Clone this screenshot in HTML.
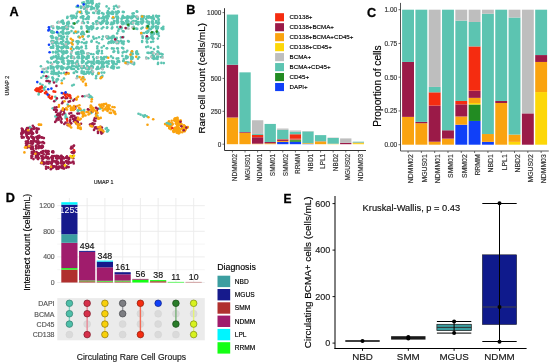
<!DOCTYPE html>
<html><head><meta charset="utf-8"><style>
html,body{margin:0;padding:0;background:#fff;}
svg{display:block;font-family:"Liberation Sans", sans-serif;will-change:transform;}
</style></head><body>
<svg width="550" height="364" viewBox="0 0 550 364">
<text x="9.4" y="15.6" font-size="12.7" font-weight="bold" fill="#000" stroke="#000" stroke-width="0.3">A</text>
<text x="103.6" y="183.5" font-size="5.3" fill="#222" text-anchor="middle" stroke="#222" stroke-width="0.16">UMAP 1</text>
<text transform="translate(9,85.6) rotate(-90)" font-size="5.3" fill="#222" text-anchor="middle" stroke="#222" stroke-width="0.16">UMAP 2</text>
<g><circle cx="82.3" cy="2.7" r="1.3" fill="#5CC4B1"/><circle cx="83.9" cy="2.4" r="1.3" fill="#5CC4B1"/><circle cx="87.8" cy="1.4" r="1.3" fill="#5CC4B1"/><circle cx="87.5" cy="2.9" r="1.3" fill="#5CC4B1"/><circle cx="88.5" cy="1.1" r="1.3" fill="#5CC4B1"/><circle cx="86.8" cy="1.1" r="1.3" fill="#5CC4B1"/><circle cx="88.6" cy="3.2" r="1.3" fill="#5CC4B1"/><circle cx="85.9" cy="4.1" r="1.3" fill="#5CC4B1"/><circle cx="89.1" cy="3.0" r="1.3" fill="#5CC4B1"/><circle cx="91.3" cy="0.9" r="1.3" fill="#5CC4B1"/><circle cx="92.6" cy="1.0" r="1.3" fill="#5CC4B1"/><circle cx="91.4" cy="1.6" r="1.3" fill="#5CC4B1"/><circle cx="90.9" cy="2.4" r="1.3" fill="#5CC4B1"/><circle cx="92.3" cy="3.7" r="1.3" fill="#5CC4B1"/><circle cx="92.6" cy="3.0" r="1.3" fill="#5CC4B1"/><circle cx="92.5" cy="3.1" r="1.3" fill="#5CC4B1"/><circle cx="96.7" cy="4.2" r="1.3" fill="#5CC4B1"/><circle cx="99.2" cy="3.7" r="1.3" fill="#5CC4B1"/><circle cx="78.2" cy="6.9" r="1.3" fill="#5CC4B1"/><circle cx="76.6" cy="6.8" r="1.3" fill="#5CC4B1"/><circle cx="83.7" cy="7.1" r="1.3" fill="#5CC4B1"/><circle cx="84.1" cy="8.7" r="1.3" fill="#5CC4B1"/><circle cx="80.8" cy="6.5" r="1.3" fill="#5CC4B1"/><circle cx="83.9" cy="7.4" r="1.3" fill="#5CC4B1"/><circle cx="84.1" cy="7.2" r="1.3" fill="#5CC4B1"/><circle cx="81.0" cy="7.9" r="1.3" fill="#5CC4B1"/><circle cx="83.4" cy="6.7" r="1.3" fill="#5CC4B1"/><circle cx="88.4" cy="6.2" r="1.3" fill="#5CC4B1"/><circle cx="86.6" cy="6.1" r="1.3" fill="#5CC4B1"/><circle cx="86.0" cy="8.5" r="1.3" fill="#5CC4B1"/><circle cx="86.4" cy="7.7" r="1.3" fill="#5CC4B1"/><circle cx="87.3" cy="6.4" r="1.3" fill="#5CC4B1"/><circle cx="88.3" cy="6.2" r="1.3" fill="#5CC4B1"/><circle cx="88.0" cy="6.2" r="1.3" fill="#5CC4B1"/><circle cx="91.5" cy="6.7" r="1.3" fill="#5CC4B1"/><circle cx="94.1" cy="8.5" r="1.3" fill="#5CC4B1"/><circle cx="91.8" cy="8.8" r="1.3" fill="#5CC4B1"/><circle cx="91.5" cy="7.1" r="1.3" fill="#5CC4B1"/><circle cx="93.7" cy="8.0" r="1.3" fill="#5CC4B1"/><circle cx="91.1" cy="9.2" r="1.3" fill="#5CC4B1"/><circle cx="91.5" cy="6.7" r="1.3" fill="#5CC4B1"/><circle cx="96.9" cy="6.8" r="1.3" fill="#5CC4B1"/><circle cx="96.0" cy="6.1" r="1.3" fill="#5CC4B1"/><circle cx="97.8" cy="6.6" r="1.3" fill="#5CC4B1"/><circle cx="97.8" cy="7.1" r="1.3" fill="#5CC4B1"/><circle cx="97.3" cy="9.1" r="1.3" fill="#5CC4B1"/><circle cx="97.4" cy="7.8" r="1.3" fill="#5CC4B1"/><circle cx="98.7" cy="6.4" r="1.3" fill="#5CC4B1"/><circle cx="108.9" cy="8.6" r="1.3" fill="#5CC4B1"/><circle cx="106.6" cy="6.4" r="1.3" fill="#5CC4B1"/><circle cx="114.0" cy="6.5" r="1.3" fill="#5CC4B1"/><circle cx="114.0" cy="8.8" r="1.3" fill="#5CC4B1"/><circle cx="117.9" cy="7.2" r="1.3" fill="#5CC4B1"/><circle cx="116.2" cy="5.9" r="1.3" fill="#5CC4B1"/><circle cx="76.7" cy="13.6" r="1.3" fill="#5CC4B1"/><circle cx="77.8" cy="11.8" r="1.3" fill="#5CC4B1"/><circle cx="81.4" cy="13.2" r="1.3" fill="#5CC4B1"/><circle cx="81.0" cy="11.6" r="1.3" fill="#5CC4B1"/><circle cx="88.7" cy="12.9" r="1.3" fill="#5CC4B1"/><circle cx="86.8" cy="13.9" r="1.3" fill="#5CC4B1"/><circle cx="86.5" cy="10.9" r="1.3" fill="#5CC4B1"/><circle cx="86.7" cy="12.3" r="1.3" fill="#5CC4B1"/><circle cx="86.0" cy="11.4" r="1.3" fill="#5CC4B1"/><circle cx="87.1" cy="12.7" r="1.3" fill="#5CC4B1"/><circle cx="86.2" cy="12.0" r="1.3" fill="#5CC4B1"/><circle cx="94.1" cy="13.0" r="1.3" fill="#5CC4B1"/><circle cx="93.2" cy="12.8" r="1.3" fill="#5CC4B1"/><circle cx="98.9" cy="13.2" r="1.3" fill="#5CC4B1"/><circle cx="99.1" cy="10.9" r="1.3" fill="#5CC4B1"/><circle cx="98.0" cy="12.4" r="1.3" fill="#5CC4B1"/><circle cx="98.3" cy="11.9" r="1.3" fill="#5CC4B1"/><circle cx="99.2" cy="11.1" r="1.3" fill="#5CC4B1"/><circle cx="97.7" cy="13.3" r="1.3" fill="#5CC4B1"/><circle cx="98.9" cy="13.3" r="1.3" fill="#5CC4B1"/><circle cx="103.5" cy="13.9" r="1.3" fill="#5CC4B1"/><circle cx="102.0" cy="13.1" r="1.3" fill="#5CC4B1"/><circle cx="108.8" cy="12.2" r="1.3" fill="#5CC4B1"/><circle cx="108.5" cy="13.7" r="1.3" fill="#5CC4B1"/><circle cx="107.7" cy="12.9" r="1.3" fill="#5CC4B1"/><circle cx="107.1" cy="12.8" r="1.3" fill="#5CC4B1"/><circle cx="107.9" cy="11.1" r="1.3" fill="#5CC4B1"/><circle cx="108.0" cy="14.2" r="1.3" fill="#5CC4B1"/><circle cx="108.8" cy="13.3" r="1.3" fill="#5CC4B1"/><circle cx="113.3" cy="12.8" r="1.3" fill="#5CC4B1"/><circle cx="112.3" cy="13.7" r="1.3" fill="#5CC4B1"/><circle cx="111.1" cy="13.4" r="1.3" fill="#5CC4B1"/><circle cx="110.9" cy="12.8" r="1.3" fill="#5CC4B1"/><circle cx="112.4" cy="11.6" r="1.3" fill="#5CC4B1"/><circle cx="113.2" cy="12.5" r="1.3" fill="#5CC4B1"/><circle cx="112.9" cy="13.9" r="1.3" fill="#5CC4B1"/><circle cx="115.8" cy="11.8" r="1.3" fill="#5CC4B1"/><circle cx="118.1" cy="11.5" r="1.3" fill="#5CC4B1"/><circle cx="116.4" cy="13.9" r="1.3" fill="#5CC4B1"/><circle cx="118.0" cy="12.3" r="1.3" fill="#5CC4B1"/><circle cx="118.8" cy="11.9" r="1.3" fill="#5CC4B1"/><circle cx="118.1" cy="11.5" r="1.3" fill="#5CC4B1"/><circle cx="117.3" cy="13.5" r="1.3" fill="#5CC4B1"/><circle cx="123.8" cy="12.1" r="1.3" fill="#5CC4B1"/><circle cx="122.8" cy="11.9" r="1.3" fill="#5CC4B1"/><circle cx="132.5" cy="13.6" r="1.3" fill="#5CC4B1"/><circle cx="133.7" cy="13.2" r="1.3" fill="#5CC4B1"/><circle cx="136.7" cy="11.4" r="1.3" fill="#5CC4B1"/><circle cx="137.3" cy="11.7" r="1.3" fill="#5CC4B1"/><circle cx="67.2" cy="17.9" r="1.3" fill="#5CC4B1"/><circle cx="67.5" cy="16.9" r="1.3" fill="#5CC4B1"/><circle cx="74.1" cy="17.3" r="1.3" fill="#5CC4B1"/><circle cx="71.1" cy="15.9" r="1.3" fill="#5CC4B1"/><circle cx="73.8" cy="15.9" r="1.3" fill="#5CC4B1"/><circle cx="73.2" cy="17.7" r="1.3" fill="#5CC4B1"/><circle cx="71.9" cy="18.5" r="1.3" fill="#5CC4B1"/><circle cx="70.9" cy="16.3" r="1.3" fill="#5CC4B1"/><circle cx="72.3" cy="15.9" r="1.3" fill="#5CC4B1"/><circle cx="76.6" cy="16.3" r="1.3" fill="#5CC4B1"/><circle cx="76.0" cy="17.9" r="1.3" fill="#5CC4B1"/><circle cx="82.9" cy="18.0" r="1.3" fill="#5CC4B1"/><circle cx="83.5" cy="19.1" r="1.3" fill="#5CC4B1"/><circle cx="83.1" cy="16.5" r="1.3" fill="#5CC4B1"/><circle cx="82.4" cy="16.4" r="1.3" fill="#5CC4B1"/><circle cx="80.8" cy="17.4" r="1.3" fill="#5CC4B1"/><circle cx="83.2" cy="16.4" r="1.3" fill="#5CC4B1"/><circle cx="81.7" cy="17.0" r="1.3" fill="#5CC4B1"/><circle cx="87.6" cy="17.9" r="1.3" fill="#5CC4B1"/><circle cx="88.4" cy="17.1" r="1.3" fill="#5CC4B1"/><circle cx="88.5" cy="18.9" r="1.3" fill="#5CC4B1"/><circle cx="86.1" cy="19.0" r="1.3" fill="#5CC4B1"/><circle cx="88.3" cy="16.2" r="1.3" fill="#5CC4B1"/><circle cx="87.3" cy="17.9" r="1.3" fill="#5CC4B1"/><circle cx="88.9" cy="17.1" r="1.3" fill="#5CC4B1"/><circle cx="98.8" cy="18.5" r="1.3" fill="#5CC4B1"/><circle cx="99.0" cy="17.4" r="1.3" fill="#5CC4B1"/><circle cx="101.5" cy="18.3" r="1.3" fill="#5CC4B1"/><circle cx="103.6" cy="18.0" r="1.3" fill="#5CC4B1"/><circle cx="103.2" cy="16.5" r="1.3" fill="#5CC4B1"/><circle cx="103.9" cy="19.1" r="1.3" fill="#5CC4B1"/><circle cx="104.1" cy="17.6" r="1.3" fill="#5CC4B1"/><circle cx="103.5" cy="16.9" r="1.3" fill="#5CC4B1"/><circle cx="103.9" cy="18.7" r="1.3" fill="#5CC4B1"/><circle cx="106.1" cy="17.3" r="1.3" fill="#5CC4B1"/><circle cx="107.7" cy="18.4" r="1.3" fill="#5CC4B1"/><circle cx="107.5" cy="15.9" r="1.3" fill="#5CC4B1"/><circle cx="108.6" cy="16.0" r="1.3" fill="#5CC4B1"/><circle cx="108.5" cy="16.4" r="1.3" fill="#5CC4B1"/><circle cx="106.9" cy="18.5" r="1.3" fill="#5CC4B1"/><circle cx="106.3" cy="16.3" r="1.3" fill="#5CC4B1"/><circle cx="112.6" cy="18.3" r="1.3" fill="#5CC4B1"/><circle cx="113.7" cy="18.1" r="1.3" fill="#5CC4B1"/><circle cx="117.5" cy="19.0" r="1.3" fill="#5CC4B1"/><circle cx="116.1" cy="16.6" r="1.3" fill="#5CC4B1"/><circle cx="117.6" cy="16.8" r="1.3" fill="#5CC4B1"/><circle cx="118.3" cy="18.0" r="1.3" fill="#5CC4B1"/><circle cx="117.6" cy="18.7" r="1.3" fill="#5CC4B1"/><circle cx="117.7" cy="16.9" r="1.3" fill="#5CC4B1"/><circle cx="117.1" cy="18.7" r="1.3" fill="#5CC4B1"/><circle cx="121.5" cy="18.7" r="1.3" fill="#5CC4B1"/><circle cx="124.1" cy="17.6" r="1.3" fill="#5CC4B1"/><circle cx="122.7" cy="16.5" r="1.3" fill="#5CC4B1"/><circle cx="122.6" cy="17.5" r="1.3" fill="#5CC4B1"/><circle cx="122.9" cy="15.9" r="1.3" fill="#5CC4B1"/><circle cx="124.1" cy="17.6" r="1.3" fill="#5CC4B1"/><circle cx="122.2" cy="18.5" r="1.3" fill="#5CC4B1"/><circle cx="127.5" cy="18.1" r="1.3" fill="#5CC4B1"/><circle cx="126.0" cy="17.6" r="1.3" fill="#5CC4B1"/><circle cx="127.2" cy="19.1" r="1.3" fill="#5CC4B1"/><circle cx="128.9" cy="16.7" r="1.3" fill="#5CC4B1"/><circle cx="127.4" cy="16.2" r="1.3" fill="#5CC4B1"/><circle cx="127.3" cy="18.6" r="1.3" fill="#5CC4B1"/><circle cx="128.9" cy="17.4" r="1.3" fill="#5CC4B1"/><circle cx="131.5" cy="17.9" r="1.3" fill="#5CC4B1"/><circle cx="133.9" cy="16.2" r="1.3" fill="#5CC4B1"/><circle cx="133.4" cy="15.9" r="1.3" fill="#5CC4B1"/><circle cx="131.5" cy="16.6" r="1.3" fill="#5CC4B1"/><circle cx="133.1" cy="16.9" r="1.3" fill="#5CC4B1"/><circle cx="132.0" cy="17.9" r="1.3" fill="#5CC4B1"/><circle cx="131.2" cy="18.3" r="1.3" fill="#5CC4B1"/><circle cx="136.5" cy="17.6" r="1.3" fill="#5CC4B1"/><circle cx="137.3" cy="17.1" r="1.3" fill="#5CC4B1"/><circle cx="137.2" cy="17.6" r="1.3" fill="#5CC4B1"/><circle cx="136.3" cy="16.5" r="1.3" fill="#5CC4B1"/><circle cx="137.9" cy="18.0" r="1.3" fill="#5CC4B1"/><circle cx="137.6" cy="18.7" r="1.3" fill="#5CC4B1"/><circle cx="137.9" cy="18.7" r="1.3" fill="#5CC4B1"/><circle cx="143.3" cy="18.6" r="1.3" fill="#5CC4B1"/><circle cx="143.9" cy="16.9" r="1.3" fill="#5CC4B1"/><circle cx="141.9" cy="18.9" r="1.3" fill="#5CC4B1"/><circle cx="141.5" cy="19.2" r="1.3" fill="#5CC4B1"/><circle cx="143.8" cy="16.3" r="1.3" fill="#5CC4B1"/><circle cx="141.6" cy="18.3" r="1.3" fill="#5CC4B1"/><circle cx="141.7" cy="16.1" r="1.3" fill="#5CC4B1"/><circle cx="152.2" cy="18.5" r="1.3" fill="#5CC4B1"/><circle cx="151.2" cy="17.2" r="1.3" fill="#5CC4B1"/><circle cx="153.1" cy="15.9" r="1.3" fill="#5CC4B1"/><circle cx="151.5" cy="18.1" r="1.3" fill="#5CC4B1"/><circle cx="153.9" cy="19.1" r="1.3" fill="#5CC4B1"/><circle cx="151.2" cy="17.5" r="1.3" fill="#5CC4B1"/><circle cx="153.4" cy="17.5" r="1.3" fill="#5CC4B1"/><circle cx="156.4" cy="16.0" r="1.3" fill="#5CC4B1"/><circle cx="156.2" cy="15.9" r="1.3" fill="#5CC4B1"/><circle cx="157.7" cy="17.6" r="1.3" fill="#5CC4B1"/><circle cx="157.7" cy="16.3" r="1.3" fill="#5CC4B1"/><circle cx="156.4" cy="16.5" r="1.3" fill="#5CC4B1"/><circle cx="158.7" cy="19.2" r="1.3" fill="#5CC4B1"/><circle cx="159.0" cy="16.1" r="1.3" fill="#5CC4B1"/><circle cx="58.4" cy="21.9" r="1.3" fill="#5CC4B1"/><circle cx="57.4" cy="22.6" r="1.3" fill="#5CC4B1"/><circle cx="62.8" cy="20.8" r="1.3" fill="#5CC4B1"/><circle cx="63.2" cy="23.7" r="1.3" fill="#5CC4B1"/><circle cx="61.4" cy="22.3" r="1.3" fill="#5CC4B1"/><circle cx="63.3" cy="22.2" r="1.3" fill="#5CC4B1"/><circle cx="61.5" cy="21.4" r="1.3" fill="#5CC4B1"/><circle cx="62.5" cy="20.9" r="1.3" fill="#5CC4B1"/><circle cx="63.8" cy="23.5" r="1.3" fill="#5CC4B1"/><circle cx="68.7" cy="22.9" r="1.3" fill="#5CC4B1"/><circle cx="67.2" cy="22.8" r="1.3" fill="#5CC4B1"/><circle cx="67.5" cy="24.1" r="1.3" fill="#5CC4B1"/><circle cx="68.5" cy="21.7" r="1.3" fill="#5CC4B1"/><circle cx="68.9" cy="23.3" r="1.3" fill="#5CC4B1"/><circle cx="68.4" cy="23.6" r="1.3" fill="#5CC4B1"/><circle cx="67.2" cy="23.8" r="1.3" fill="#5CC4B1"/><circle cx="73.8" cy="23.2" r="1.3" fill="#5CC4B1"/><circle cx="73.4" cy="23.4" r="1.3" fill="#5CC4B1"/><circle cx="78.3" cy="21.0" r="1.3" fill="#5CC4B1"/><circle cx="77.0" cy="22.4" r="1.3" fill="#5CC4B1"/><circle cx="82.9" cy="21.6" r="1.3" fill="#5CC4B1"/><circle cx="84.0" cy="23.1" r="1.3" fill="#5CC4B1"/><circle cx="88.0" cy="22.7" r="1.3" fill="#5CC4B1"/><circle cx="87.6" cy="22.1" r="1.3" fill="#5CC4B1"/><circle cx="93.0" cy="23.2" r="1.3" fill="#5CC4B1"/><circle cx="93.4" cy="24.1" r="1.3" fill="#5CC4B1"/><circle cx="96.7" cy="22.2" r="1.3" fill="#5CC4B1"/><circle cx="96.0" cy="21.5" r="1.3" fill="#5CC4B1"/><circle cx="97.1" cy="21.1" r="1.3" fill="#5CC4B1"/><circle cx="96.7" cy="23.9" r="1.3" fill="#5CC4B1"/><circle cx="97.7" cy="22.5" r="1.3" fill="#5CC4B1"/><circle cx="99.1" cy="22.7" r="1.3" fill="#5CC4B1"/><circle cx="99.2" cy="23.0" r="1.3" fill="#5CC4B1"/><circle cx="101.1" cy="22.8" r="1.3" fill="#5CC4B1"/><circle cx="103.4" cy="21.0" r="1.3" fill="#5CC4B1"/><circle cx="104.0" cy="21.3" r="1.3" fill="#5CC4B1"/><circle cx="102.4" cy="21.4" r="1.3" fill="#5CC4B1"/><circle cx="102.5" cy="22.9" r="1.3" fill="#5CC4B1"/><circle cx="101.0" cy="24.0" r="1.3" fill="#5CC4B1"/><circle cx="102.2" cy="22.6" r="1.3" fill="#5CC4B1"/><circle cx="107.0" cy="21.8" r="1.3" fill="#5CC4B1"/><circle cx="108.0" cy="22.7" r="1.3" fill="#5CC4B1"/><circle cx="106.8" cy="23.2" r="1.3" fill="#5CC4B1"/><circle cx="106.8" cy="20.8" r="1.3" fill="#5CC4B1"/><circle cx="106.6" cy="20.9" r="1.3" fill="#5CC4B1"/><circle cx="106.3" cy="23.4" r="1.3" fill="#5CC4B1"/><circle cx="107.1" cy="23.9" r="1.3" fill="#5CC4B1"/><circle cx="111.0" cy="24.2" r="1.3" fill="#5CC4B1"/><circle cx="114.0" cy="21.0" r="1.3" fill="#5CC4B1"/><circle cx="113.9" cy="22.3" r="1.3" fill="#5CC4B1"/><circle cx="112.4" cy="24.1" r="1.3" fill="#5CC4B1"/><circle cx="111.6" cy="22.6" r="1.3" fill="#5CC4B1"/><circle cx="114.0" cy="23.3" r="1.3" fill="#5CC4B1"/><circle cx="112.4" cy="24.1" r="1.3" fill="#5CC4B1"/><circle cx="117.9" cy="21.2" r="1.3" fill="#5CC4B1"/><circle cx="117.9" cy="22.3" r="1.3" fill="#5CC4B1"/><circle cx="116.5" cy="21.0" r="1.3" fill="#5CC4B1"/><circle cx="117.6" cy="21.2" r="1.3" fill="#5CC4B1"/><circle cx="117.3" cy="23.1" r="1.3" fill="#5CC4B1"/><circle cx="117.3" cy="21.7" r="1.3" fill="#5CC4B1"/><circle cx="117.8" cy="22.2" r="1.3" fill="#5CC4B1"/><circle cx="122.6" cy="24.2" r="1.3" fill="#5CC4B1"/><circle cx="124.0" cy="23.3" r="1.3" fill="#5CC4B1"/><circle cx="121.6" cy="21.2" r="1.3" fill="#5CC4B1"/><circle cx="123.8" cy="23.5" r="1.3" fill="#5CC4B1"/><circle cx="122.9" cy="22.0" r="1.3" fill="#5CC4B1"/><circle cx="121.7" cy="23.1" r="1.3" fill="#5CC4B1"/><circle cx="122.7" cy="22.8" r="1.3" fill="#5CC4B1"/><circle cx="128.4" cy="21.4" r="1.3" fill="#5CC4B1"/><circle cx="126.6" cy="24.1" r="1.3" fill="#5CC4B1"/><circle cx="128.9" cy="23.8" r="1.3" fill="#5CC4B1"/><circle cx="125.9" cy="21.0" r="1.3" fill="#5CC4B1"/><circle cx="126.7" cy="22.2" r="1.3" fill="#5CC4B1"/><circle cx="127.9" cy="21.1" r="1.3" fill="#5CC4B1"/><circle cx="127.6" cy="21.0" r="1.3" fill="#5CC4B1"/><circle cx="132.9" cy="22.1" r="1.3" fill="#5CC4B1"/><circle cx="132.4" cy="21.5" r="1.3" fill="#5CC4B1"/><circle cx="132.0" cy="23.3" r="1.3" fill="#5CC4B1"/><circle cx="133.7" cy="21.1" r="1.3" fill="#5CC4B1"/><circle cx="131.2" cy="23.6" r="1.3" fill="#5CC4B1"/><circle cx="132.9" cy="23.4" r="1.3" fill="#5CC4B1"/><circle cx="131.5" cy="22.2" r="1.3" fill="#5CC4B1"/><circle cx="138.6" cy="22.1" r="1.3" fill="#5CC4B1"/><circle cx="138.0" cy="24.2" r="1.3" fill="#5CC4B1"/><circle cx="136.9" cy="22.7" r="1.3" fill="#5CC4B1"/><circle cx="138.3" cy="23.9" r="1.3" fill="#5CC4B1"/><circle cx="137.3" cy="22.1" r="1.3" fill="#5CC4B1"/><circle cx="136.1" cy="23.8" r="1.3" fill="#5CC4B1"/><circle cx="136.1" cy="21.1" r="1.3" fill="#5CC4B1"/><circle cx="142.4" cy="23.1" r="1.3" fill="#5CC4B1"/><circle cx="141.8" cy="23.4" r="1.3" fill="#5CC4B1"/><circle cx="141.1" cy="21.5" r="1.3" fill="#5CC4B1"/><circle cx="143.1" cy="21.1" r="1.3" fill="#5CC4B1"/><circle cx="141.8" cy="23.3" r="1.3" fill="#5CC4B1"/><circle cx="143.2" cy="21.8" r="1.3" fill="#5CC4B1"/><circle cx="141.3" cy="22.0" r="1.3" fill="#5CC4B1"/><circle cx="147.0" cy="21.2" r="1.3" fill="#5CC4B1"/><circle cx="148.2" cy="22.7" r="1.3" fill="#5CC4B1"/><circle cx="148.9" cy="24.0" r="1.3" fill="#5CC4B1"/><circle cx="148.9" cy="22.3" r="1.3" fill="#5CC4B1"/><circle cx="148.5" cy="21.8" r="1.3" fill="#5CC4B1"/><circle cx="146.9" cy="22.2" r="1.3" fill="#5CC4B1"/><circle cx="149.0" cy="23.8" r="1.3" fill="#5CC4B1"/><circle cx="152.0" cy="22.0" r="1.3" fill="#5CC4B1"/><circle cx="152.0" cy="22.1" r="1.3" fill="#5CC4B1"/><circle cx="152.1" cy="21.5" r="1.3" fill="#5CC4B1"/><circle cx="152.7" cy="23.5" r="1.3" fill="#5CC4B1"/><circle cx="152.6" cy="23.6" r="1.3" fill="#5CC4B1"/><circle cx="152.7" cy="21.4" r="1.3" fill="#5CC4B1"/><circle cx="153.4" cy="23.8" r="1.3" fill="#5CC4B1"/><circle cx="155.9" cy="22.6" r="1.3" fill="#5CC4B1"/><circle cx="157.7" cy="22.7" r="1.3" fill="#5CC4B1"/><circle cx="159.1" cy="23.0" r="1.3" fill="#5CC4B1"/><circle cx="158.5" cy="21.0" r="1.3" fill="#5CC4B1"/><circle cx="157.7" cy="23.5" r="1.3" fill="#5CC4B1"/><circle cx="156.1" cy="21.1" r="1.3" fill="#5CC4B1"/><circle cx="158.3" cy="23.9" r="1.3" fill="#5CC4B1"/><circle cx="53.3" cy="28.0" r="1.3" fill="#5CC4B1"/><circle cx="51.6" cy="26.5" r="1.3" fill="#5CC4B1"/><circle cx="57.6" cy="28.4" r="1.3" fill="#5CC4B1"/><circle cx="57.1" cy="26.9" r="1.3" fill="#5CC4B1"/><circle cx="59.1" cy="28.1" r="1.3" fill="#5CC4B1"/><circle cx="57.5" cy="27.6" r="1.3" fill="#5CC4B1"/><circle cx="58.3" cy="28.2" r="1.3" fill="#5CC4B1"/><circle cx="58.9" cy="27.2" r="1.3" fill="#5CC4B1"/><circle cx="58.6" cy="28.1" r="1.3" fill="#5CC4B1"/><circle cx="63.5" cy="28.6" r="1.3" fill="#5CC4B1"/><circle cx="63.8" cy="29.1" r="1.3" fill="#5CC4B1"/><circle cx="63.0" cy="27.6" r="1.3" fill="#5CC4B1"/><circle cx="63.2" cy="28.5" r="1.3" fill="#5CC4B1"/><circle cx="62.2" cy="27.2" r="1.3" fill="#5CC4B1"/><circle cx="61.3" cy="28.3" r="1.3" fill="#5CC4B1"/><circle cx="64.2" cy="27.1" r="1.3" fill="#5CC4B1"/><circle cx="66.8" cy="29.1" r="1.3" fill="#5CC4B1"/><circle cx="66.0" cy="26.8" r="1.3" fill="#5CC4B1"/><circle cx="66.2" cy="28.0" r="1.3" fill="#5CC4B1"/><circle cx="68.4" cy="26.4" r="1.3" fill="#5CC4B1"/><circle cx="66.0" cy="27.4" r="1.3" fill="#5CC4B1"/><circle cx="67.8" cy="28.9" r="1.3" fill="#5CC4B1"/><circle cx="65.9" cy="26.2" r="1.3" fill="#5CC4B1"/><circle cx="71.5" cy="26.6" r="1.3" fill="#5CC4B1"/><circle cx="73.2" cy="27.8" r="1.3" fill="#5CC4B1"/><circle cx="81.4" cy="26.8" r="1.3" fill="#5CC4B1"/><circle cx="81.4" cy="28.4" r="1.3" fill="#5CC4B1"/><circle cx="87.7" cy="28.6" r="1.3" fill="#5CC4B1"/><circle cx="87.4" cy="26.7" r="1.3" fill="#5CC4B1"/><circle cx="88.8" cy="28.9" r="1.3" fill="#5CC4B1"/><circle cx="87.0" cy="27.7" r="1.3" fill="#5CC4B1"/><circle cx="89.1" cy="27.4" r="1.3" fill="#5CC4B1"/><circle cx="86.6" cy="26.0" r="1.3" fill="#5CC4B1"/><circle cx="89.0" cy="28.5" r="1.3" fill="#5CC4B1"/><circle cx="92.6" cy="27.6" r="1.3" fill="#5CC4B1"/><circle cx="91.7" cy="29.2" r="1.3" fill="#5CC4B1"/><circle cx="93.0" cy="26.6" r="1.3" fill="#5CC4B1"/><circle cx="90.8" cy="27.4" r="1.3" fill="#5CC4B1"/><circle cx="92.1" cy="28.5" r="1.3" fill="#5CC4B1"/><circle cx="93.2" cy="27.9" r="1.3" fill="#5CC4B1"/><circle cx="91.3" cy="26.3" r="1.3" fill="#5CC4B1"/><circle cx="96.7" cy="28.8" r="1.3" fill="#5CC4B1"/><circle cx="97.6" cy="28.0" r="1.3" fill="#5CC4B1"/><circle cx="121.7" cy="27.6" r="1.3" fill="#5CC4B1"/><circle cx="121.3" cy="28.4" r="1.3" fill="#5CC4B1"/><circle cx="128.6" cy="26.1" r="1.3" fill="#5CC4B1"/><circle cx="126.7" cy="28.2" r="1.3" fill="#5CC4B1"/><circle cx="134.0" cy="27.8" r="1.3" fill="#5CC4B1"/><circle cx="133.7" cy="26.8" r="1.3" fill="#5CC4B1"/><circle cx="137.2" cy="28.9" r="1.3" fill="#5CC4B1"/><circle cx="136.1" cy="28.6" r="1.3" fill="#5CC4B1"/><circle cx="142.6" cy="27.6" r="1.3" fill="#5CC4B1"/><circle cx="141.3" cy="28.6" r="1.3" fill="#5CC4B1"/><circle cx="146.9" cy="26.1" r="1.3" fill="#5CC4B1"/><circle cx="146.8" cy="27.4" r="1.3" fill="#5CC4B1"/><circle cx="148.2" cy="27.0" r="1.3" fill="#5CC4B1"/><circle cx="148.1" cy="26.2" r="1.3" fill="#5CC4B1"/><circle cx="147.1" cy="27.4" r="1.3" fill="#5CC4B1"/><circle cx="149.1" cy="28.6" r="1.3" fill="#5CC4B1"/><circle cx="148.0" cy="25.8" r="1.3" fill="#5CC4B1"/><circle cx="153.2" cy="26.6" r="1.3" fill="#5CC4B1"/><circle cx="152.7" cy="27.4" r="1.3" fill="#5CC4B1"/><circle cx="150.8" cy="29.2" r="1.3" fill="#5CC4B1"/><circle cx="153.5" cy="26.5" r="1.3" fill="#5CC4B1"/><circle cx="152.9" cy="26.8" r="1.3" fill="#5CC4B1"/><circle cx="152.1" cy="27.6" r="1.3" fill="#5CC4B1"/><circle cx="151.8" cy="26.9" r="1.3" fill="#5CC4B1"/><circle cx="158.1" cy="26.7" r="1.3" fill="#5CC4B1"/><circle cx="156.5" cy="28.3" r="1.3" fill="#5CC4B1"/><circle cx="156.9" cy="29.0" r="1.3" fill="#5CC4B1"/><circle cx="157.7" cy="28.3" r="1.3" fill="#5CC4B1"/><circle cx="156.9" cy="28.6" r="1.3" fill="#5CC4B1"/><circle cx="156.1" cy="26.3" r="1.3" fill="#5CC4B1"/><circle cx="156.1" cy="28.1" r="1.3" fill="#5CC4B1"/><circle cx="51.4" cy="32.2" r="1.3" fill="#5CC4B1"/><circle cx="53.6" cy="32.8" r="1.3" fill="#5CC4B1"/><circle cx="51.1" cy="31.6" r="1.3" fill="#5CC4B1"/><circle cx="51.3" cy="31.2" r="1.3" fill="#5CC4B1"/><circle cx="52.2" cy="31.0" r="1.3" fill="#5CC4B1"/><circle cx="53.9" cy="32.3" r="1.3" fill="#5CC4B1"/><circle cx="52.5" cy="33.0" r="1.3" fill="#5CC4B1"/><circle cx="58.4" cy="33.6" r="1.3" fill="#5CC4B1"/><circle cx="57.1" cy="31.9" r="1.3" fill="#5CC4B1"/><circle cx="60.9" cy="32.2" r="1.3" fill="#5CC4B1"/><circle cx="63.2" cy="34.1" r="1.3" fill="#5CC4B1"/><circle cx="63.5" cy="33.0" r="1.3" fill="#5CC4B1"/><circle cx="62.9" cy="30.9" r="1.3" fill="#5CC4B1"/><circle cx="61.9" cy="32.0" r="1.3" fill="#5CC4B1"/><circle cx="63.0" cy="31.2" r="1.3" fill="#5CC4B1"/><circle cx="62.1" cy="32.5" r="1.3" fill="#5CC4B1"/><circle cx="68.6" cy="32.9" r="1.3" fill="#5CC4B1"/><circle cx="66.3" cy="33.4" r="1.3" fill="#5CC4B1"/><circle cx="68.9" cy="32.7" r="1.3" fill="#5CC4B1"/><circle cx="67.0" cy="32.5" r="1.3" fill="#5CC4B1"/><circle cx="66.3" cy="33.2" r="1.3" fill="#5CC4B1"/><circle cx="69.2" cy="32.6" r="1.3" fill="#5CC4B1"/><circle cx="68.2" cy="33.6" r="1.3" fill="#5CC4B1"/><circle cx="74.0" cy="32.9" r="1.3" fill="#5CC4B1"/><circle cx="71.5" cy="31.1" r="1.3" fill="#5CC4B1"/><circle cx="76.6" cy="32.8" r="1.3" fill="#5CC4B1"/><circle cx="78.2" cy="31.9" r="1.3" fill="#5CC4B1"/><circle cx="82.0" cy="32.4" r="1.3" fill="#5CC4B1"/><circle cx="81.2" cy="34.1" r="1.3" fill="#5CC4B1"/><circle cx="81.3" cy="33.9" r="1.3" fill="#5CC4B1"/><circle cx="82.6" cy="32.7" r="1.3" fill="#5CC4B1"/><circle cx="82.7" cy="31.7" r="1.3" fill="#5CC4B1"/><circle cx="83.9" cy="34.2" r="1.3" fill="#5CC4B1"/><circle cx="83.6" cy="32.8" r="1.3" fill="#5CC4B1"/><circle cx="88.6" cy="31.8" r="1.3" fill="#5CC4B1"/><circle cx="88.8" cy="31.6" r="1.3" fill="#5CC4B1"/><circle cx="123.6" cy="31.4" r="1.3" fill="#5CC4B1"/><circle cx="122.7" cy="31.1" r="1.3" fill="#5CC4B1"/><circle cx="144.0" cy="33.0" r="1.3" fill="#5CC4B1"/><circle cx="141.8" cy="33.1" r="1.3" fill="#5CC4B1"/><circle cx="147.1" cy="32.8" r="1.3" fill="#5CC4B1"/><circle cx="148.5" cy="30.9" r="1.3" fill="#5CC4B1"/><circle cx="146.5" cy="32.4" r="1.3" fill="#5CC4B1"/><circle cx="146.3" cy="32.1" r="1.3" fill="#5CC4B1"/><circle cx="147.7" cy="31.4" r="1.3" fill="#5CC4B1"/><circle cx="147.6" cy="31.7" r="1.3" fill="#5CC4B1"/><circle cx="147.7" cy="31.9" r="1.3" fill="#5CC4B1"/><circle cx="150.9" cy="33.1" r="1.3" fill="#5CC4B1"/><circle cx="151.3" cy="34.1" r="1.3" fill="#5CC4B1"/><circle cx="152.8" cy="32.4" r="1.3" fill="#5CC4B1"/><circle cx="152.2" cy="32.9" r="1.3" fill="#5CC4B1"/><circle cx="153.1" cy="33.4" r="1.3" fill="#5CC4B1"/><circle cx="153.4" cy="32.5" r="1.3" fill="#5CC4B1"/><circle cx="154.2" cy="33.7" r="1.3" fill="#5CC4B1"/><circle cx="157.2" cy="32.3" r="1.3" fill="#5CC4B1"/><circle cx="157.7" cy="33.9" r="1.3" fill="#5CC4B1"/><circle cx="157.6" cy="32.6" r="1.3" fill="#5CC4B1"/><circle cx="157.3" cy="33.9" r="1.3" fill="#5CC4B1"/><circle cx="156.9" cy="31.0" r="1.3" fill="#5CC4B1"/><circle cx="158.3" cy="33.9" r="1.3" fill="#5CC4B1"/><circle cx="158.3" cy="32.8" r="1.3" fill="#5CC4B1"/><circle cx="51.8" cy="37.8" r="1.3" fill="#5CC4B1"/><circle cx="51.0" cy="36.2" r="1.3" fill="#5CC4B1"/><circle cx="52.3" cy="37.5" r="1.3" fill="#5CC4B1"/><circle cx="52.1" cy="36.0" r="1.3" fill="#5CC4B1"/><circle cx="53.2" cy="37.6" r="1.3" fill="#5CC4B1"/><circle cx="51.6" cy="36.8" r="1.3" fill="#5CC4B1"/><circle cx="52.1" cy="36.6" r="1.3" fill="#5CC4B1"/><circle cx="58.1" cy="38.7" r="1.3" fill="#5CC4B1"/><circle cx="57.2" cy="38.5" r="1.3" fill="#5CC4B1"/><circle cx="56.6" cy="38.3" r="1.3" fill="#5CC4B1"/><circle cx="57.7" cy="38.9" r="1.3" fill="#5CC4B1"/><circle cx="56.1" cy="38.5" r="1.3" fill="#5CC4B1"/><circle cx="56.2" cy="37.6" r="1.3" fill="#5CC4B1"/><circle cx="59.0" cy="35.8" r="1.3" fill="#5CC4B1"/><circle cx="61.8" cy="36.9" r="1.3" fill="#5CC4B1"/><circle cx="61.0" cy="38.8" r="1.3" fill="#5CC4B1"/><circle cx="63.6" cy="37.2" r="1.3" fill="#5CC4B1"/><circle cx="62.0" cy="37.8" r="1.3" fill="#5CC4B1"/><circle cx="61.0" cy="35.9" r="1.3" fill="#5CC4B1"/><circle cx="63.9" cy="36.8" r="1.3" fill="#5CC4B1"/><circle cx="62.5" cy="39.0" r="1.3" fill="#5CC4B1"/><circle cx="67.4" cy="36.5" r="1.3" fill="#5CC4B1"/><circle cx="66.8" cy="38.9" r="1.3" fill="#5CC4B1"/><circle cx="78.8" cy="36.5" r="1.3" fill="#5CC4B1"/><circle cx="78.6" cy="37.0" r="1.3" fill="#5CC4B1"/><circle cx="82.4" cy="36.4" r="1.3" fill="#5CC4B1"/><circle cx="83.8" cy="39.2" r="1.3" fill="#5CC4B1"/><circle cx="88.0" cy="36.5" r="1.3" fill="#5CC4B1"/><circle cx="88.8" cy="36.0" r="1.3" fill="#5CC4B1"/><circle cx="93.3" cy="36.9" r="1.3" fill="#5CC4B1"/><circle cx="93.9" cy="38.8" r="1.3" fill="#5CC4B1"/><circle cx="96.3" cy="38.2" r="1.3" fill="#5CC4B1"/><circle cx="99.0" cy="37.3" r="1.3" fill="#5CC4B1"/><circle cx="108.2" cy="36.5" r="1.3" fill="#5CC4B1"/><circle cx="106.4" cy="36.6" r="1.3" fill="#5CC4B1"/><circle cx="108.1" cy="38.5" r="1.3" fill="#5CC4B1"/><circle cx="107.1" cy="38.1" r="1.3" fill="#5CC4B1"/><circle cx="108.8" cy="37.8" r="1.3" fill="#5CC4B1"/><circle cx="106.6" cy="36.8" r="1.3" fill="#5CC4B1"/><circle cx="109.0" cy="38.1" r="1.3" fill="#5CC4B1"/><circle cx="113.0" cy="36.1" r="1.3" fill="#5CC4B1"/><circle cx="114.1" cy="37.3" r="1.3" fill="#5CC4B1"/><circle cx="112.6" cy="37.6" r="1.3" fill="#5CC4B1"/><circle cx="111.0" cy="37.8" r="1.3" fill="#5CC4B1"/><circle cx="111.8" cy="36.7" r="1.3" fill="#5CC4B1"/><circle cx="113.5" cy="36.1" r="1.3" fill="#5CC4B1"/><circle cx="111.8" cy="38.4" r="1.3" fill="#5CC4B1"/><circle cx="116.7" cy="37.7" r="1.3" fill="#5CC4B1"/><circle cx="116.4" cy="38.8" r="1.3" fill="#5CC4B1"/><circle cx="120.9" cy="37.4" r="1.3" fill="#5CC4B1"/><circle cx="123.4" cy="37.1" r="1.3" fill="#5CC4B1"/><circle cx="142.5" cy="36.4" r="1.3" fill="#5CC4B1"/><circle cx="142.7" cy="38.0" r="1.3" fill="#5CC4B1"/><circle cx="148.0" cy="38.5" r="1.3" fill="#5CC4B1"/><circle cx="147.6" cy="37.5" r="1.3" fill="#5CC4B1"/><circle cx="148.7" cy="38.1" r="1.3" fill="#5CC4B1"/><circle cx="147.6" cy="39.0" r="1.3" fill="#5CC4B1"/><circle cx="146.4" cy="38.5" r="1.3" fill="#5CC4B1"/><circle cx="146.4" cy="37.9" r="1.3" fill="#5CC4B1"/><circle cx="146.6" cy="37.3" r="1.3" fill="#5CC4B1"/><circle cx="153.5" cy="38.5" r="1.3" fill="#5CC4B1"/><circle cx="151.6" cy="37.5" r="1.3" fill="#5CC4B1"/><circle cx="151.6" cy="37.8" r="1.3" fill="#5CC4B1"/><circle cx="152.5" cy="35.9" r="1.3" fill="#5CC4B1"/><circle cx="152.8" cy="38.2" r="1.3" fill="#5CC4B1"/><circle cx="152.7" cy="38.8" r="1.3" fill="#5CC4B1"/><circle cx="151.4" cy="36.3" r="1.3" fill="#5CC4B1"/><circle cx="52.3" cy="41.7" r="1.3" fill="#5CC4B1"/><circle cx="53.5" cy="41.0" r="1.3" fill="#5CC4B1"/><circle cx="53.9" cy="42.7" r="1.3" fill="#5CC4B1"/><circle cx="52.6" cy="43.5" r="1.3" fill="#5CC4B1"/><circle cx="51.6" cy="41.3" r="1.3" fill="#5CC4B1"/><circle cx="51.9" cy="40.9" r="1.3" fill="#5CC4B1"/><circle cx="51.9" cy="42.9" r="1.3" fill="#5CC4B1"/><circle cx="56.7" cy="42.8" r="1.3" fill="#5CC4B1"/><circle cx="56.1" cy="43.6" r="1.3" fill="#5CC4B1"/><circle cx="56.4" cy="41.7" r="1.3" fill="#5CC4B1"/><circle cx="56.3" cy="43.1" r="1.3" fill="#5CC4B1"/><circle cx="58.6" cy="43.5" r="1.3" fill="#5CC4B1"/><circle cx="56.0" cy="42.2" r="1.3" fill="#5CC4B1"/><circle cx="57.0" cy="41.5" r="1.3" fill="#5CC4B1"/><circle cx="60.9" cy="42.5" r="1.3" fill="#5CC4B1"/><circle cx="63.4" cy="44.2" r="1.3" fill="#5CC4B1"/><circle cx="61.3" cy="42.3" r="1.3" fill="#5CC4B1"/><circle cx="63.3" cy="40.9" r="1.3" fill="#5CC4B1"/><circle cx="61.6" cy="43.8" r="1.3" fill="#5CC4B1"/><circle cx="61.3" cy="42.1" r="1.3" fill="#5CC4B1"/><circle cx="61.8" cy="42.2" r="1.3" fill="#5CC4B1"/><circle cx="68.4" cy="43.3" r="1.3" fill="#5CC4B1"/><circle cx="66.6" cy="41.7" r="1.3" fill="#5CC4B1"/><circle cx="67.7" cy="41.6" r="1.3" fill="#5CC4B1"/><circle cx="67.4" cy="44.0" r="1.3" fill="#5CC4B1"/><circle cx="67.0" cy="41.9" r="1.3" fill="#5CC4B1"/><circle cx="69.1" cy="42.9" r="1.3" fill="#5CC4B1"/><circle cx="65.9" cy="42.2" r="1.3" fill="#5CC4B1"/><circle cx="73.0" cy="41.0" r="1.3" fill="#5CC4B1"/><circle cx="72.0" cy="43.2" r="1.3" fill="#5CC4B1"/><circle cx="77.8" cy="43.8" r="1.3" fill="#5CC4B1"/><circle cx="77.4" cy="42.1" r="1.3" fill="#5CC4B1"/><circle cx="78.7" cy="42.1" r="1.3" fill="#5CC4B1"/><circle cx="78.5" cy="41.5" r="1.3" fill="#5CC4B1"/><circle cx="77.0" cy="41.4" r="1.3" fill="#5CC4B1"/><circle cx="77.7" cy="41.4" r="1.3" fill="#5CC4B1"/><circle cx="76.5" cy="41.5" r="1.3" fill="#5CC4B1"/><circle cx="81.8" cy="42.3" r="1.3" fill="#5CC4B1"/><circle cx="84.2" cy="43.1" r="1.3" fill="#5CC4B1"/><circle cx="86.5" cy="42.1" r="1.3" fill="#5CC4B1"/><circle cx="86.0" cy="43.2" r="1.3" fill="#5CC4B1"/><circle cx="91.7" cy="40.9" r="1.3" fill="#5CC4B1"/><circle cx="91.4" cy="41.7" r="1.3" fill="#5CC4B1"/><circle cx="98.9" cy="43.2" r="1.3" fill="#5CC4B1"/><circle cx="96.7" cy="42.0" r="1.3" fill="#5CC4B1"/><circle cx="109.0" cy="42.0" r="1.3" fill="#5CC4B1"/><circle cx="108.4" cy="43.3" r="1.3" fill="#5CC4B1"/><circle cx="110.9" cy="41.9" r="1.3" fill="#5CC4B1"/><circle cx="112.1" cy="41.1" r="1.3" fill="#5CC4B1"/><circle cx="113.8" cy="41.9" r="1.3" fill="#5CC4B1"/><circle cx="113.4" cy="42.6" r="1.3" fill="#5CC4B1"/><circle cx="111.0" cy="42.1" r="1.3" fill="#5CC4B1"/><circle cx="111.6" cy="40.9" r="1.3" fill="#5CC4B1"/><circle cx="111.3" cy="42.8" r="1.3" fill="#5CC4B1"/><circle cx="117.6" cy="41.3" r="1.3" fill="#5CC4B1"/><circle cx="118.2" cy="41.7" r="1.3" fill="#5CC4B1"/><circle cx="118.3" cy="43.1" r="1.3" fill="#5CC4B1"/><circle cx="116.3" cy="41.5" r="1.3" fill="#5CC4B1"/><circle cx="116.8" cy="43.2" r="1.3" fill="#5CC4B1"/><circle cx="117.2" cy="42.1" r="1.3" fill="#5CC4B1"/><circle cx="118.7" cy="41.6" r="1.3" fill="#5CC4B1"/><circle cx="122.0" cy="41.5" r="1.3" fill="#5CC4B1"/><circle cx="120.9" cy="40.9" r="1.3" fill="#5CC4B1"/><circle cx="122.9" cy="42.7" r="1.3" fill="#5CC4B1"/><circle cx="123.5" cy="44.1" r="1.3" fill="#5CC4B1"/><circle cx="121.8" cy="43.1" r="1.3" fill="#5CC4B1"/><circle cx="123.9" cy="41.5" r="1.3" fill="#5CC4B1"/><circle cx="123.1" cy="43.1" r="1.3" fill="#5CC4B1"/><circle cx="128.8" cy="41.6" r="1.3" fill="#5CC4B1"/><circle cx="128.0" cy="41.1" r="1.3" fill="#5CC4B1"/><circle cx="142.1" cy="41.0" r="1.3" fill="#5CC4B1"/><circle cx="142.1" cy="41.9" r="1.3" fill="#5CC4B1"/><circle cx="146.8" cy="41.3" r="1.3" fill="#5CC4B1"/><circle cx="147.2" cy="42.4" r="1.3" fill="#5CC4B1"/><circle cx="153.1" cy="41.6" r="1.3" fill="#5CC4B1"/><circle cx="151.1" cy="42.0" r="1.3" fill="#5CC4B1"/><circle cx="51.3" cy="47.8" r="1.3" fill="#5CC4B1"/><circle cx="53.2" cy="47.7" r="1.3" fill="#5CC4B1"/><circle cx="53.2" cy="45.9" r="1.3" fill="#5CC4B1"/><circle cx="52.1" cy="47.0" r="1.3" fill="#5CC4B1"/><circle cx="51.0" cy="47.2" r="1.3" fill="#5CC4B1"/><circle cx="51.0" cy="47.5" r="1.3" fill="#5CC4B1"/><circle cx="52.8" cy="47.4" r="1.3" fill="#5CC4B1"/><circle cx="56.7" cy="45.9" r="1.3" fill="#5CC4B1"/><circle cx="57.0" cy="48.8" r="1.3" fill="#5CC4B1"/><circle cx="57.7" cy="46.7" r="1.3" fill="#5CC4B1"/><circle cx="58.1" cy="46.4" r="1.3" fill="#5CC4B1"/><circle cx="57.4" cy="47.9" r="1.3" fill="#5CC4B1"/><circle cx="59.0" cy="47.0" r="1.3" fill="#5CC4B1"/><circle cx="57.8" cy="49.0" r="1.3" fill="#5CC4B1"/><circle cx="62.9" cy="47.9" r="1.3" fill="#5CC4B1"/><circle cx="62.2" cy="47.2" r="1.3" fill="#5CC4B1"/><circle cx="61.7" cy="48.6" r="1.3" fill="#5CC4B1"/><circle cx="63.8" cy="47.1" r="1.3" fill="#5CC4B1"/><circle cx="63.9" cy="45.9" r="1.3" fill="#5CC4B1"/><circle cx="61.3" cy="47.5" r="1.3" fill="#5CC4B1"/><circle cx="61.8" cy="47.0" r="1.3" fill="#5CC4B1"/><circle cx="66.3" cy="46.5" r="1.3" fill="#5CC4B1"/><circle cx="66.6" cy="48.1" r="1.3" fill="#5CC4B1"/><circle cx="66.6" cy="45.8" r="1.3" fill="#5CC4B1"/><circle cx="67.6" cy="47.1" r="1.3" fill="#5CC4B1"/><circle cx="66.6" cy="47.5" r="1.3" fill="#5CC4B1"/><circle cx="68.0" cy="47.7" r="1.3" fill="#5CC4B1"/><circle cx="67.9" cy="47.7" r="1.3" fill="#5CC4B1"/><circle cx="73.6" cy="49.1" r="1.3" fill="#5CC4B1"/><circle cx="71.9" cy="47.0" r="1.3" fill="#5CC4B1"/><circle cx="76.9" cy="48.2" r="1.3" fill="#5CC4B1"/><circle cx="78.2" cy="48.1" r="1.3" fill="#5CC4B1"/><circle cx="79.1" cy="48.6" r="1.3" fill="#5CC4B1"/><circle cx="76.3" cy="47.9" r="1.3" fill="#5CC4B1"/><circle cx="77.5" cy="47.7" r="1.3" fill="#5CC4B1"/><circle cx="77.1" cy="46.8" r="1.3" fill="#5CC4B1"/><circle cx="78.3" cy="47.6" r="1.3" fill="#5CC4B1"/><circle cx="81.6" cy="46.9" r="1.3" fill="#5CC4B1"/><circle cx="81.4" cy="47.5" r="1.3" fill="#5CC4B1"/><circle cx="86.0" cy="46.0" r="1.3" fill="#5CC4B1"/><circle cx="86.1" cy="48.2" r="1.3" fill="#5CC4B1"/><circle cx="97.3" cy="48.4" r="1.3" fill="#5CC4B1"/><circle cx="97.4" cy="46.4" r="1.3" fill="#5CC4B1"/><circle cx="103.8" cy="46.0" r="1.3" fill="#5CC4B1"/><circle cx="101.7" cy="47.5" r="1.3" fill="#5CC4B1"/><circle cx="107.1" cy="48.2" r="1.3" fill="#5CC4B1"/><circle cx="106.7" cy="48.2" r="1.3" fill="#5CC4B1"/><circle cx="111.9" cy="48.4" r="1.3" fill="#5CC4B1"/><circle cx="113.7" cy="48.6" r="1.3" fill="#5CC4B1"/><circle cx="117.2" cy="48.2" r="1.3" fill="#5CC4B1"/><circle cx="117.9" cy="48.6" r="1.3" fill="#5CC4B1"/><circle cx="146.2" cy="47.1" r="1.3" fill="#5CC4B1"/><circle cx="148.1" cy="46.6" r="1.3" fill="#5CC4B1"/><circle cx="150.8" cy="47.8" r="1.3" fill="#5CC4B1"/><circle cx="154.0" cy="49.1" r="1.3" fill="#5CC4B1"/><circle cx="53.1" cy="52.2" r="1.3" fill="#5CC4B1"/><circle cx="52.9" cy="52.1" r="1.3" fill="#5CC4B1"/><circle cx="59.2" cy="51.0" r="1.3" fill="#5CC4B1"/><circle cx="58.2" cy="51.2" r="1.3" fill="#5CC4B1"/><circle cx="55.9" cy="51.8" r="1.3" fill="#5CC4B1"/><circle cx="58.3" cy="54.2" r="1.3" fill="#5CC4B1"/><circle cx="56.2" cy="51.9" r="1.3" fill="#5CC4B1"/><circle cx="55.9" cy="52.6" r="1.3" fill="#5CC4B1"/><circle cx="57.4" cy="52.1" r="1.3" fill="#5CC4B1"/><circle cx="63.5" cy="53.7" r="1.3" fill="#5CC4B1"/><circle cx="61.8" cy="52.1" r="1.3" fill="#5CC4B1"/><circle cx="62.9" cy="53.4" r="1.3" fill="#5CC4B1"/><circle cx="64.1" cy="52.1" r="1.3" fill="#5CC4B1"/><circle cx="63.2" cy="52.7" r="1.3" fill="#5CC4B1"/><circle cx="63.5" cy="51.3" r="1.3" fill="#5CC4B1"/><circle cx="61.4" cy="51.2" r="1.3" fill="#5CC4B1"/><circle cx="66.7" cy="52.5" r="1.3" fill="#5CC4B1"/><circle cx="66.2" cy="51.9" r="1.3" fill="#5CC4B1"/><circle cx="65.9" cy="52.7" r="1.3" fill="#5CC4B1"/><circle cx="66.3" cy="52.9" r="1.3" fill="#5CC4B1"/><circle cx="66.7" cy="51.6" r="1.3" fill="#5CC4B1"/><circle cx="67.4" cy="52.0" r="1.3" fill="#5CC4B1"/><circle cx="66.7" cy="51.0" r="1.3" fill="#5CC4B1"/><circle cx="71.0" cy="53.8" r="1.3" fill="#5CC4B1"/><circle cx="71.9" cy="51.1" r="1.3" fill="#5CC4B1"/><circle cx="76.5" cy="53.7" r="1.3" fill="#5CC4B1"/><circle cx="77.4" cy="52.2" r="1.3" fill="#5CC4B1"/><circle cx="78.5" cy="52.1" r="1.3" fill="#5CC4B1"/><circle cx="76.0" cy="52.7" r="1.3" fill="#5CC4B1"/><circle cx="78.0" cy="52.9" r="1.3" fill="#5CC4B1"/><circle cx="76.7" cy="54.0" r="1.3" fill="#5CC4B1"/><circle cx="78.7" cy="54.2" r="1.3" fill="#5CC4B1"/><circle cx="83.6" cy="53.3" r="1.3" fill="#5CC4B1"/><circle cx="81.4" cy="50.9" r="1.3" fill="#5CC4B1"/><circle cx="81.4" cy="51.2" r="1.3" fill="#5CC4B1"/><circle cx="81.1" cy="52.0" r="1.3" fill="#5CC4B1"/><circle cx="83.4" cy="51.9" r="1.3" fill="#5CC4B1"/><circle cx="82.5" cy="50.8" r="1.3" fill="#5CC4B1"/><circle cx="81.5" cy="54.1" r="1.3" fill="#5CC4B1"/><circle cx="88.5" cy="53.3" r="1.3" fill="#5CC4B1"/><circle cx="87.2" cy="53.5" r="1.3" fill="#5CC4B1"/><circle cx="93.4" cy="54.2" r="1.3" fill="#5CC4B1"/><circle cx="91.1" cy="54.0" r="1.3" fill="#5CC4B1"/><circle cx="98.2" cy="51.7" r="1.3" fill="#5CC4B1"/><circle cx="98.9" cy="50.9" r="1.3" fill="#5CC4B1"/><circle cx="97.8" cy="51.6" r="1.3" fill="#5CC4B1"/><circle cx="97.1" cy="52.1" r="1.3" fill="#5CC4B1"/><circle cx="98.0" cy="53.6" r="1.3" fill="#5CC4B1"/><circle cx="97.0" cy="53.0" r="1.3" fill="#5CC4B1"/><circle cx="97.0" cy="51.7" r="1.3" fill="#5CC4B1"/><circle cx="101.9" cy="51.1" r="1.3" fill="#5CC4B1"/><circle cx="101.9" cy="53.3" r="1.3" fill="#5CC4B1"/><circle cx="118.3" cy="52.7" r="1.3" fill="#5CC4B1"/><circle cx="118.1" cy="51.4" r="1.3" fill="#5CC4B1"/><circle cx="126.3" cy="52.0" r="1.3" fill="#5CC4B1"/><circle cx="127.3" cy="50.8" r="1.3" fill="#5CC4B1"/><circle cx="132.2" cy="51.9" r="1.3" fill="#5CC4B1"/><circle cx="132.6" cy="54.0" r="1.3" fill="#5CC4B1"/><circle cx="131.5" cy="53.8" r="1.3" fill="#5CC4B1"/><circle cx="131.9" cy="53.4" r="1.3" fill="#5CC4B1"/><circle cx="131.2" cy="54.2" r="1.3" fill="#5CC4B1"/><circle cx="132.3" cy="54.1" r="1.3" fill="#5CC4B1"/><circle cx="131.5" cy="52.2" r="1.3" fill="#5CC4B1"/><circle cx="136.4" cy="51.7" r="1.3" fill="#5CC4B1"/><circle cx="138.1" cy="54.0" r="1.3" fill="#5CC4B1"/><circle cx="136.9" cy="51.4" r="1.3" fill="#5CC4B1"/><circle cx="137.0" cy="54.2" r="1.3" fill="#5CC4B1"/><circle cx="136.3" cy="53.0" r="1.3" fill="#5CC4B1"/><circle cx="137.1" cy="53.0" r="1.3" fill="#5CC4B1"/><circle cx="136.5" cy="52.9" r="1.3" fill="#5CC4B1"/><circle cx="148.7" cy="52.9" r="1.3" fill="#5CC4B1"/><circle cx="147.5" cy="52.7" r="1.3" fill="#5CC4B1"/><circle cx="152.3" cy="53.1" r="1.3" fill="#5CC4B1"/><circle cx="152.2" cy="52.1" r="1.3" fill="#5CC4B1"/><circle cx="151.6" cy="52.8" r="1.3" fill="#5CC4B1"/><circle cx="152.7" cy="52.6" r="1.3" fill="#5CC4B1"/><circle cx="150.9" cy="52.9" r="1.3" fill="#5CC4B1"/><circle cx="152.3" cy="52.8" r="1.3" fill="#5CC4B1"/><circle cx="152.8" cy="54.0" r="1.3" fill="#5CC4B1"/><circle cx="158.3" cy="51.9" r="1.3" fill="#5CC4B1"/><circle cx="158.3" cy="54.2" r="1.3" fill="#5CC4B1"/><circle cx="157.2" cy="53.7" r="1.3" fill="#5CC4B1"/><circle cx="156.2" cy="54.2" r="1.3" fill="#5CC4B1"/><circle cx="157.5" cy="51.6" r="1.3" fill="#5CC4B1"/><circle cx="158.7" cy="53.0" r="1.3" fill="#5CC4B1"/><circle cx="159.0" cy="53.6" r="1.3" fill="#5CC4B1"/><circle cx="162.5" cy="54.2" r="1.3" fill="#5CC4B1"/><circle cx="161.0" cy="53.8" r="1.3" fill="#5CC4B1"/><circle cx="51.7" cy="58.5" r="1.3" fill="#5CC4B1"/><circle cx="52.3" cy="57.6" r="1.3" fill="#5CC4B1"/><circle cx="53.7" cy="56.5" r="1.3" fill="#5CC4B1"/><circle cx="51.8" cy="58.0" r="1.3" fill="#5CC4B1"/><circle cx="51.1" cy="57.7" r="1.3" fill="#5CC4B1"/><circle cx="53.5" cy="57.5" r="1.3" fill="#5CC4B1"/><circle cx="51.6" cy="58.5" r="1.3" fill="#5CC4B1"/><circle cx="58.4" cy="57.7" r="1.3" fill="#5CC4B1"/><circle cx="58.9" cy="58.5" r="1.3" fill="#5CC4B1"/><circle cx="56.3" cy="57.0" r="1.3" fill="#5CC4B1"/><circle cx="56.1" cy="55.9" r="1.3" fill="#5CC4B1"/><circle cx="57.0" cy="58.7" r="1.3" fill="#5CC4B1"/><circle cx="58.6" cy="56.2" r="1.3" fill="#5CC4B1"/><circle cx="56.4" cy="57.1" r="1.3" fill="#5CC4B1"/><circle cx="62.9" cy="58.9" r="1.3" fill="#5CC4B1"/><circle cx="61.0" cy="59.2" r="1.3" fill="#5CC4B1"/><circle cx="61.5" cy="57.9" r="1.3" fill="#5CC4B1"/><circle cx="63.8" cy="58.3" r="1.3" fill="#5CC4B1"/><circle cx="61.5" cy="58.1" r="1.3" fill="#5CC4B1"/><circle cx="62.3" cy="55.9" r="1.3" fill="#5CC4B1"/><circle cx="62.0" cy="56.9" r="1.3" fill="#5CC4B1"/><circle cx="66.7" cy="57.9" r="1.3" fill="#5CC4B1"/><circle cx="68.2" cy="56.4" r="1.3" fill="#5CC4B1"/><circle cx="71.2" cy="56.2" r="1.3" fill="#5CC4B1"/><circle cx="74.0" cy="57.9" r="1.3" fill="#5CC4B1"/><circle cx="72.0" cy="56.5" r="1.3" fill="#5CC4B1"/><circle cx="74.2" cy="58.2" r="1.3" fill="#5CC4B1"/><circle cx="73.3" cy="57.0" r="1.3" fill="#5CC4B1"/><circle cx="71.9" cy="57.2" r="1.3" fill="#5CC4B1"/><circle cx="71.3" cy="57.9" r="1.3" fill="#5CC4B1"/><circle cx="78.6" cy="57.2" r="1.3" fill="#5CC4B1"/><circle cx="77.4" cy="57.5" r="1.3" fill="#5CC4B1"/><circle cx="79.0" cy="57.0" r="1.3" fill="#5CC4B1"/><circle cx="78.2" cy="56.6" r="1.3" fill="#5CC4B1"/><circle cx="77.8" cy="56.8" r="1.3" fill="#5CC4B1"/><circle cx="78.8" cy="56.8" r="1.3" fill="#5CC4B1"/><circle cx="78.7" cy="58.1" r="1.3" fill="#5CC4B1"/><circle cx="84.0" cy="57.1" r="1.3" fill="#5CC4B1"/><circle cx="83.3" cy="57.8" r="1.3" fill="#5CC4B1"/><circle cx="82.3" cy="56.0" r="1.3" fill="#5CC4B1"/><circle cx="82.2" cy="56.8" r="1.3" fill="#5CC4B1"/><circle cx="82.3" cy="59.0" r="1.3" fill="#5CC4B1"/><circle cx="81.8" cy="58.2" r="1.3" fill="#5CC4B1"/><circle cx="83.1" cy="56.6" r="1.3" fill="#5CC4B1"/><circle cx="86.2" cy="58.8" r="1.3" fill="#5CC4B1"/><circle cx="86.7" cy="57.2" r="1.3" fill="#5CC4B1"/><circle cx="87.0" cy="58.6" r="1.3" fill="#5CC4B1"/><circle cx="88.7" cy="57.8" r="1.3" fill="#5CC4B1"/><circle cx="87.7" cy="56.1" r="1.3" fill="#5CC4B1"/><circle cx="88.8" cy="56.1" r="1.3" fill="#5CC4B1"/><circle cx="87.0" cy="57.1" r="1.3" fill="#5CC4B1"/><circle cx="93.1" cy="57.0" r="1.3" fill="#5CC4B1"/><circle cx="93.9" cy="59.0" r="1.3" fill="#5CC4B1"/><circle cx="97.0" cy="57.4" r="1.3" fill="#5CC4B1"/><circle cx="96.9" cy="58.1" r="1.3" fill="#5CC4B1"/><circle cx="104.1" cy="59.1" r="1.3" fill="#5CC4B1"/><circle cx="104.2" cy="57.1" r="1.3" fill="#5CC4B1"/><circle cx="103.6" cy="58.0" r="1.3" fill="#5CC4B1"/><circle cx="103.2" cy="59.2" r="1.3" fill="#5CC4B1"/><circle cx="101.0" cy="57.4" r="1.3" fill="#5CC4B1"/><circle cx="102.2" cy="58.0" r="1.3" fill="#5CC4B1"/><circle cx="101.5" cy="59.2" r="1.3" fill="#5CC4B1"/><circle cx="106.5" cy="57.1" r="1.3" fill="#5CC4B1"/><circle cx="106.3" cy="57.1" r="1.3" fill="#5CC4B1"/><circle cx="111.1" cy="56.4" r="1.3" fill="#5CC4B1"/><circle cx="113.0" cy="57.9" r="1.3" fill="#5CC4B1"/><circle cx="116.7" cy="58.6" r="1.3" fill="#5CC4B1"/><circle cx="118.3" cy="58.4" r="1.3" fill="#5CC4B1"/><circle cx="122.4" cy="55.9" r="1.3" fill="#5CC4B1"/><circle cx="123.7" cy="59.0" r="1.3" fill="#5CC4B1"/><circle cx="125.9" cy="57.0" r="1.3" fill="#5CC4B1"/><circle cx="127.6" cy="57.6" r="1.3" fill="#5CC4B1"/><circle cx="126.2" cy="58.5" r="1.3" fill="#5CC4B1"/><circle cx="126.8" cy="57.5" r="1.3" fill="#5CC4B1"/><circle cx="126.2" cy="57.7" r="1.3" fill="#5CC4B1"/><circle cx="126.2" cy="56.1" r="1.3" fill="#5CC4B1"/><circle cx="127.5" cy="56.8" r="1.3" fill="#5CC4B1"/><circle cx="131.6" cy="57.2" r="1.3" fill="#5CC4B1"/><circle cx="131.0" cy="56.5" r="1.3" fill="#5CC4B1"/><circle cx="132.3" cy="57.7" r="1.3" fill="#5CC4B1"/><circle cx="132.4" cy="58.7" r="1.3" fill="#5CC4B1"/><circle cx="131.2" cy="58.7" r="1.3" fill="#5CC4B1"/><circle cx="131.3" cy="59.1" r="1.3" fill="#5CC4B1"/><circle cx="132.6" cy="57.2" r="1.3" fill="#5CC4B1"/><circle cx="137.9" cy="58.7" r="1.3" fill="#5CC4B1"/><circle cx="139.1" cy="57.2" r="1.3" fill="#5CC4B1"/><circle cx="148.3" cy="58.2" r="1.3" fill="#5CC4B1"/><circle cx="146.3" cy="57.6" r="1.3" fill="#5CC4B1"/><circle cx="154.1" cy="58.0" r="1.3" fill="#5CC4B1"/><circle cx="153.7" cy="56.0" r="1.3" fill="#5CC4B1"/><circle cx="152.2" cy="56.1" r="1.3" fill="#5CC4B1"/><circle cx="151.7" cy="56.2" r="1.3" fill="#5CC4B1"/><circle cx="153.9" cy="56.9" r="1.3" fill="#5CC4B1"/><circle cx="152.5" cy="58.0" r="1.3" fill="#5CC4B1"/><circle cx="153.8" cy="59.0" r="1.3" fill="#5CC4B1"/><circle cx="157.5" cy="58.9" r="1.3" fill="#5CC4B1"/><circle cx="157.1" cy="56.8" r="1.3" fill="#5CC4B1"/><circle cx="158.3" cy="56.7" r="1.3" fill="#5CC4B1"/><circle cx="157.1" cy="57.3" r="1.3" fill="#5CC4B1"/><circle cx="157.4" cy="57.0" r="1.3" fill="#5CC4B1"/><circle cx="157.3" cy="57.3" r="1.3" fill="#5CC4B1"/><circle cx="156.0" cy="58.6" r="1.3" fill="#5CC4B1"/><circle cx="162.2" cy="56.6" r="1.3" fill="#5CC4B1"/><circle cx="161.1" cy="57.1" r="1.3" fill="#5CC4B1"/><circle cx="47.4" cy="61.6" r="1.3" fill="#5CC4B1"/><circle cx="48.3" cy="62.5" r="1.3" fill="#5CC4B1"/><circle cx="50.8" cy="62.8" r="1.3" fill="#5CC4B1"/><circle cx="54.1" cy="62.0" r="1.3" fill="#5CC4B1"/><circle cx="57.1" cy="61.8" r="1.3" fill="#5CC4B1"/><circle cx="57.9" cy="62.8" r="1.3" fill="#5CC4B1"/><circle cx="56.9" cy="62.5" r="1.3" fill="#5CC4B1"/><circle cx="57.6" cy="63.4" r="1.3" fill="#5CC4B1"/><circle cx="56.0" cy="61.1" r="1.3" fill="#5CC4B1"/><circle cx="56.7" cy="61.7" r="1.3" fill="#5CC4B1"/><circle cx="58.5" cy="62.2" r="1.3" fill="#5CC4B1"/><circle cx="62.2" cy="61.8" r="1.3" fill="#5CC4B1"/><circle cx="63.1" cy="61.1" r="1.3" fill="#5CC4B1"/><circle cx="64.1" cy="63.6" r="1.3" fill="#5CC4B1"/><circle cx="61.9" cy="61.9" r="1.3" fill="#5CC4B1"/><circle cx="63.6" cy="63.5" r="1.3" fill="#5CC4B1"/><circle cx="63.0" cy="61.0" r="1.3" fill="#5CC4B1"/><circle cx="63.4" cy="61.0" r="1.3" fill="#5CC4B1"/><circle cx="67.7" cy="64.0" r="1.3" fill="#5CC4B1"/><circle cx="68.0" cy="60.9" r="1.3" fill="#5CC4B1"/><circle cx="69.0" cy="63.4" r="1.3" fill="#5CC4B1"/><circle cx="67.8" cy="60.8" r="1.3" fill="#5CC4B1"/><circle cx="68.3" cy="62.2" r="1.3" fill="#5CC4B1"/><circle cx="68.1" cy="64.1" r="1.3" fill="#5CC4B1"/><circle cx="68.9" cy="61.1" r="1.3" fill="#5CC4B1"/><circle cx="72.3" cy="63.4" r="1.3" fill="#5CC4B1"/><circle cx="72.1" cy="62.3" r="1.3" fill="#5CC4B1"/><circle cx="72.3" cy="61.2" r="1.3" fill="#5CC4B1"/><circle cx="71.9" cy="63.3" r="1.3" fill="#5CC4B1"/><circle cx="71.0" cy="61.2" r="1.3" fill="#5CC4B1"/><circle cx="73.6" cy="63.1" r="1.3" fill="#5CC4B1"/><circle cx="72.7" cy="61.2" r="1.3" fill="#5CC4B1"/><circle cx="77.7" cy="63.9" r="1.3" fill="#5CC4B1"/><circle cx="76.5" cy="62.2" r="1.3" fill="#5CC4B1"/><circle cx="77.6" cy="63.7" r="1.3" fill="#5CC4B1"/><circle cx="76.2" cy="63.8" r="1.3" fill="#5CC4B1"/><circle cx="77.4" cy="60.9" r="1.3" fill="#5CC4B1"/><circle cx="77.3" cy="62.1" r="1.3" fill="#5CC4B1"/><circle cx="78.1" cy="64.0" r="1.3" fill="#5CC4B1"/><circle cx="83.1" cy="62.1" r="1.3" fill="#5CC4B1"/><circle cx="83.4" cy="61.2" r="1.3" fill="#5CC4B1"/><circle cx="83.3" cy="61.4" r="1.3" fill="#5CC4B1"/><circle cx="82.8" cy="61.5" r="1.3" fill="#5CC4B1"/><circle cx="82.0" cy="61.4" r="1.3" fill="#5CC4B1"/><circle cx="82.0" cy="62.8" r="1.3" fill="#5CC4B1"/><circle cx="82.6" cy="62.1" r="1.3" fill="#5CC4B1"/><circle cx="88.7" cy="62.0" r="1.3" fill="#5CC4B1"/><circle cx="87.8" cy="62.4" r="1.3" fill="#5CC4B1"/><circle cx="89.1" cy="61.9" r="1.3" fill="#5CC4B1"/><circle cx="88.2" cy="61.6" r="1.3" fill="#5CC4B1"/><circle cx="86.7" cy="63.3" r="1.3" fill="#5CC4B1"/><circle cx="87.8" cy="61.7" r="1.3" fill="#5CC4B1"/><circle cx="86.0" cy="63.6" r="1.3" fill="#5CC4B1"/><circle cx="93.2" cy="62.3" r="1.3" fill="#5CC4B1"/><circle cx="92.9" cy="62.7" r="1.3" fill="#5CC4B1"/><circle cx="94.1" cy="63.9" r="1.3" fill="#5CC4B1"/><circle cx="92.3" cy="62.5" r="1.3" fill="#5CC4B1"/><circle cx="91.6" cy="63.4" r="1.3" fill="#5CC4B1"/><circle cx="91.1" cy="61.8" r="1.3" fill="#5CC4B1"/><circle cx="93.7" cy="60.9" r="1.3" fill="#5CC4B1"/><circle cx="97.7" cy="62.7" r="1.3" fill="#5CC4B1"/><circle cx="96.9" cy="61.3" r="1.3" fill="#5CC4B1"/><circle cx="99.0" cy="63.4" r="1.3" fill="#5CC4B1"/><circle cx="98.5" cy="61.1" r="1.3" fill="#5CC4B1"/><circle cx="98.5" cy="61.5" r="1.3" fill="#5CC4B1"/><circle cx="96.5" cy="62.6" r="1.3" fill="#5CC4B1"/><circle cx="97.9" cy="61.2" r="1.3" fill="#5CC4B1"/><circle cx="102.8" cy="63.9" r="1.3" fill="#5CC4B1"/><circle cx="103.9" cy="63.1" r="1.3" fill="#5CC4B1"/><circle cx="102.0" cy="64.0" r="1.3" fill="#5CC4B1"/><circle cx="103.2" cy="61.8" r="1.3" fill="#5CC4B1"/><circle cx="103.7" cy="63.3" r="1.3" fill="#5CC4B1"/><circle cx="101.7" cy="61.6" r="1.3" fill="#5CC4B1"/><circle cx="100.9" cy="62.6" r="1.3" fill="#5CC4B1"/><circle cx="106.8" cy="61.7" r="1.3" fill="#5CC4B1"/><circle cx="106.2" cy="62.4" r="1.3" fill="#5CC4B1"/><circle cx="106.7" cy="61.8" r="1.3" fill="#5CC4B1"/><circle cx="106.7" cy="62.5" r="1.3" fill="#5CC4B1"/><circle cx="108.8" cy="61.3" r="1.3" fill="#5CC4B1"/><circle cx="108.7" cy="63.7" r="1.3" fill="#5CC4B1"/><circle cx="107.9" cy="62.6" r="1.3" fill="#5CC4B1"/><circle cx="112.6" cy="63.0" r="1.3" fill="#5CC4B1"/><circle cx="113.9" cy="63.4" r="1.3" fill="#5CC4B1"/><circle cx="111.7" cy="61.0" r="1.3" fill="#5CC4B1"/><circle cx="114.0" cy="62.0" r="1.3" fill="#5CC4B1"/><circle cx="113.5" cy="61.6" r="1.3" fill="#5CC4B1"/><circle cx="112.3" cy="62.1" r="1.3" fill="#5CC4B1"/><circle cx="113.3" cy="64.0" r="1.3" fill="#5CC4B1"/><circle cx="117.7" cy="62.0" r="1.3" fill="#5CC4B1"/><circle cx="116.6" cy="64.0" r="1.3" fill="#5CC4B1"/><circle cx="116.2" cy="64.0" r="1.3" fill="#5CC4B1"/><circle cx="118.0" cy="61.0" r="1.3" fill="#5CC4B1"/><circle cx="118.9" cy="61.1" r="1.3" fill="#5CC4B1"/><circle cx="117.7" cy="61.2" r="1.3" fill="#5CC4B1"/><circle cx="119.2" cy="61.9" r="1.3" fill="#5CC4B1"/><circle cx="123.8" cy="61.0" r="1.3" fill="#5CC4B1"/><circle cx="123.1" cy="61.0" r="1.3" fill="#5CC4B1"/><circle cx="128.1" cy="63.7" r="1.3" fill="#5CC4B1"/><circle cx="128.5" cy="62.6" r="1.3" fill="#5CC4B1"/><circle cx="126.1" cy="62.6" r="1.3" fill="#5CC4B1"/><circle cx="126.4" cy="62.6" r="1.3" fill="#5CC4B1"/><circle cx="127.0" cy="62.5" r="1.3" fill="#5CC4B1"/><circle cx="126.5" cy="63.2" r="1.3" fill="#5CC4B1"/><circle cx="127.2" cy="62.5" r="1.3" fill="#5CC4B1"/><circle cx="134.1" cy="62.7" r="1.3" fill="#5CC4B1"/><circle cx="131.3" cy="61.8" r="1.3" fill="#5CC4B1"/><circle cx="131.9" cy="63.2" r="1.3" fill="#5CC4B1"/><circle cx="134.0" cy="64.1" r="1.3" fill="#5CC4B1"/><circle cx="134.0" cy="63.9" r="1.3" fill="#5CC4B1"/><circle cx="133.7" cy="64.0" r="1.3" fill="#5CC4B1"/><circle cx="130.9" cy="62.5" r="1.3" fill="#5CC4B1"/><circle cx="158.1" cy="62.9" r="1.3" fill="#5CC4B1"/><circle cx="157.9" cy="64.0" r="1.3" fill="#5CC4B1"/><circle cx="40.9" cy="66.2" r="1.3" fill="#5CC4B1"/><circle cx="43.8" cy="69.1" r="1.3" fill="#5CC4B1"/><circle cx="48.1" cy="67.6" r="1.3" fill="#5CC4B1"/><circle cx="47.8" cy="68.4" r="1.3" fill="#5CC4B1"/><circle cx="50.8" cy="66.0" r="1.3" fill="#5CC4B1"/><circle cx="53.5" cy="69.1" r="1.3" fill="#5CC4B1"/><circle cx="53.6" cy="67.2" r="1.3" fill="#5CC4B1"/><circle cx="51.9" cy="67.0" r="1.3" fill="#5CC4B1"/><circle cx="50.9" cy="68.4" r="1.3" fill="#5CC4B1"/><circle cx="51.7" cy="67.8" r="1.3" fill="#5CC4B1"/><circle cx="52.6" cy="66.9" r="1.3" fill="#5CC4B1"/><circle cx="57.3" cy="66.6" r="1.3" fill="#5CC4B1"/><circle cx="58.8" cy="66.4" r="1.3" fill="#5CC4B1"/><circle cx="56.3" cy="66.7" r="1.3" fill="#5CC4B1"/><circle cx="57.4" cy="68.5" r="1.3" fill="#5CC4B1"/><circle cx="56.9" cy="66.6" r="1.3" fill="#5CC4B1"/><circle cx="58.0" cy="66.7" r="1.3" fill="#5CC4B1"/><circle cx="57.6" cy="66.7" r="1.3" fill="#5CC4B1"/><circle cx="61.4" cy="66.6" r="1.3" fill="#5CC4B1"/><circle cx="61.8" cy="66.9" r="1.3" fill="#5CC4B1"/><circle cx="63.3" cy="68.1" r="1.3" fill="#5CC4B1"/><circle cx="63.5" cy="67.6" r="1.3" fill="#5CC4B1"/><circle cx="61.1" cy="68.4" r="1.3" fill="#5CC4B1"/><circle cx="61.6" cy="66.5" r="1.3" fill="#5CC4B1"/><circle cx="62.2" cy="69.2" r="1.3" fill="#5CC4B1"/><circle cx="67.0" cy="68.9" r="1.3" fill="#5CC4B1"/><circle cx="69.2" cy="67.1" r="1.3" fill="#5CC4B1"/><circle cx="66.3" cy="68.5" r="1.3" fill="#5CC4B1"/><circle cx="68.5" cy="66.9" r="1.3" fill="#5CC4B1"/><circle cx="68.5" cy="67.1" r="1.3" fill="#5CC4B1"/><circle cx="66.8" cy="67.8" r="1.3" fill="#5CC4B1"/><circle cx="68.3" cy="67.4" r="1.3" fill="#5CC4B1"/><circle cx="70.8" cy="67.5" r="1.3" fill="#5CC4B1"/><circle cx="72.1" cy="66.0" r="1.3" fill="#5CC4B1"/><circle cx="73.9" cy="66.3" r="1.3" fill="#5CC4B1"/><circle cx="71.5" cy="68.8" r="1.3" fill="#5CC4B1"/><circle cx="74.1" cy="69.0" r="1.3" fill="#5CC4B1"/><circle cx="72.0" cy="69.0" r="1.3" fill="#5CC4B1"/><circle cx="71.3" cy="68.2" r="1.3" fill="#5CC4B1"/><circle cx="76.5" cy="66.3" r="1.3" fill="#5CC4B1"/><circle cx="78.1" cy="68.8" r="1.3" fill="#5CC4B1"/><circle cx="78.3" cy="69.0" r="1.3" fill="#5CC4B1"/><circle cx="77.3" cy="67.1" r="1.3" fill="#5CC4B1"/><circle cx="76.2" cy="66.7" r="1.3" fill="#5CC4B1"/><circle cx="79.0" cy="66.0" r="1.3" fill="#5CC4B1"/><circle cx="76.4" cy="67.0" r="1.3" fill="#5CC4B1"/><circle cx="81.2" cy="67.6" r="1.3" fill="#5CC4B1"/><circle cx="82.6" cy="67.7" r="1.3" fill="#5CC4B1"/><circle cx="83.4" cy="67.6" r="1.3" fill="#5CC4B1"/><circle cx="84.0" cy="66.1" r="1.3" fill="#5CC4B1"/><circle cx="81.6" cy="66.1" r="1.3" fill="#5CC4B1"/><circle cx="81.9" cy="68.4" r="1.3" fill="#5CC4B1"/><circle cx="83.9" cy="67.5" r="1.3" fill="#5CC4B1"/><circle cx="86.8" cy="68.5" r="1.3" fill="#5CC4B1"/><circle cx="89.1" cy="67.4" r="1.3" fill="#5CC4B1"/><circle cx="87.9" cy="68.7" r="1.3" fill="#5CC4B1"/><circle cx="87.4" cy="66.4" r="1.3" fill="#5CC4B1"/><circle cx="89.0" cy="69.1" r="1.3" fill="#5CC4B1"/><circle cx="85.9" cy="68.4" r="1.3" fill="#5CC4B1"/><circle cx="87.2" cy="66.0" r="1.3" fill="#5CC4B1"/><circle cx="91.5" cy="65.9" r="1.3" fill="#5CC4B1"/><circle cx="91.5" cy="68.5" r="1.3" fill="#5CC4B1"/><circle cx="92.5" cy="68.0" r="1.3" fill="#5CC4B1"/><circle cx="92.4" cy="66.4" r="1.3" fill="#5CC4B1"/><circle cx="90.9" cy="66.8" r="1.3" fill="#5CC4B1"/><circle cx="90.9" cy="66.7" r="1.3" fill="#5CC4B1"/><circle cx="92.9" cy="67.1" r="1.3" fill="#5CC4B1"/><circle cx="97.9" cy="66.9" r="1.3" fill="#5CC4B1"/><circle cx="97.0" cy="68.8" r="1.3" fill="#5CC4B1"/><circle cx="97.8" cy="67.2" r="1.3" fill="#5CC4B1"/><circle cx="97.6" cy="67.4" r="1.3" fill="#5CC4B1"/><circle cx="96.9" cy="68.9" r="1.3" fill="#5CC4B1"/><circle cx="96.6" cy="69.0" r="1.3" fill="#5CC4B1"/><circle cx="98.7" cy="68.8" r="1.3" fill="#5CC4B1"/><circle cx="101.8" cy="66.4" r="1.3" fill="#5CC4B1"/><circle cx="103.3" cy="66.6" r="1.3" fill="#5CC4B1"/><circle cx="102.8" cy="66.3" r="1.3" fill="#5CC4B1"/><circle cx="104.0" cy="66.8" r="1.3" fill="#5CC4B1"/><circle cx="101.1" cy="68.1" r="1.3" fill="#5CC4B1"/><circle cx="102.0" cy="67.7" r="1.3" fill="#5CC4B1"/><circle cx="102.5" cy="68.9" r="1.3" fill="#5CC4B1"/><circle cx="107.1" cy="65.8" r="1.3" fill="#5CC4B1"/><circle cx="107.5" cy="66.7" r="1.3" fill="#5CC4B1"/><circle cx="112.9" cy="67.4" r="1.3" fill="#5CC4B1"/><circle cx="111.1" cy="67.5" r="1.3" fill="#5CC4B1"/><circle cx="112.4" cy="68.0" r="1.3" fill="#5CC4B1"/><circle cx="114.1" cy="66.8" r="1.3" fill="#5CC4B1"/><circle cx="112.3" cy="66.1" r="1.3" fill="#5CC4B1"/><circle cx="113.5" cy="66.6" r="1.3" fill="#5CC4B1"/><circle cx="113.6" cy="68.5" r="1.3" fill="#5CC4B1"/><circle cx="118.9" cy="67.5" r="1.3" fill="#5CC4B1"/><circle cx="117.2" cy="67.7" r="1.3" fill="#5CC4B1"/><circle cx="44.0" cy="72.5" r="1.3" fill="#5CC4B1"/><circle cx="42.4" cy="71.8" r="1.3" fill="#5CC4B1"/><circle cx="47.5" cy="72.0" r="1.3" fill="#5CC4B1"/><circle cx="46.5" cy="71.5" r="1.3" fill="#5CC4B1"/><circle cx="53.5" cy="74.1" r="1.3" fill="#5CC4B1"/><circle cx="53.9" cy="73.1" r="1.3" fill="#5CC4B1"/><circle cx="53.5" cy="73.2" r="1.3" fill="#5CC4B1"/><circle cx="53.6" cy="73.5" r="1.3" fill="#5CC4B1"/><circle cx="51.4" cy="73.6" r="1.3" fill="#5CC4B1"/><circle cx="51.8" cy="71.6" r="1.3" fill="#5CC4B1"/><circle cx="53.9" cy="70.9" r="1.3" fill="#5CC4B1"/><circle cx="57.0" cy="73.5" r="1.3" fill="#5CC4B1"/><circle cx="57.9" cy="73.9" r="1.3" fill="#5CC4B1"/><circle cx="59.0" cy="73.0" r="1.3" fill="#5CC4B1"/><circle cx="56.0" cy="73.1" r="1.3" fill="#5CC4B1"/><circle cx="56.2" cy="74.1" r="1.3" fill="#5CC4B1"/><circle cx="58.8" cy="71.9" r="1.3" fill="#5CC4B1"/><circle cx="56.4" cy="73.2" r="1.3" fill="#5CC4B1"/><circle cx="64.1" cy="72.9" r="1.3" fill="#5CC4B1"/><circle cx="61.2" cy="73.3" r="1.3" fill="#5CC4B1"/><circle cx="66.0" cy="73.8" r="1.3" fill="#5CC4B1"/><circle cx="68.4" cy="73.5" r="1.3" fill="#5CC4B1"/><circle cx="73.8" cy="72.7" r="1.3" fill="#5CC4B1"/><circle cx="74.0" cy="73.0" r="1.3" fill="#5CC4B1"/><circle cx="77.1" cy="72.0" r="1.3" fill="#5CC4B1"/><circle cx="75.9" cy="71.3" r="1.3" fill="#5CC4B1"/><circle cx="81.6" cy="73.0" r="1.3" fill="#5CC4B1"/><circle cx="83.4" cy="73.2" r="1.3" fill="#5CC4B1"/><circle cx="82.6" cy="71.9" r="1.3" fill="#5CC4B1"/><circle cx="81.7" cy="71.4" r="1.3" fill="#5CC4B1"/><circle cx="83.0" cy="73.1" r="1.3" fill="#5CC4B1"/><circle cx="84.0" cy="71.9" r="1.3" fill="#5CC4B1"/><circle cx="84.0" cy="73.9" r="1.3" fill="#5CC4B1"/><circle cx="89.0" cy="72.9" r="1.3" fill="#5CC4B1"/><circle cx="89.1" cy="73.4" r="1.3" fill="#5CC4B1"/><circle cx="86.9" cy="71.7" r="1.3" fill="#5CC4B1"/><circle cx="87.6" cy="72.5" r="1.3" fill="#5CC4B1"/><circle cx="85.9" cy="73.7" r="1.3" fill="#5CC4B1"/><circle cx="87.6" cy="72.4" r="1.3" fill="#5CC4B1"/><circle cx="88.3" cy="71.6" r="1.3" fill="#5CC4B1"/><circle cx="91.9" cy="71.0" r="1.3" fill="#5CC4B1"/><circle cx="91.0" cy="72.0" r="1.3" fill="#5CC4B1"/><circle cx="92.6" cy="74.0" r="1.3" fill="#5CC4B1"/><circle cx="93.0" cy="72.2" r="1.3" fill="#5CC4B1"/><circle cx="92.2" cy="71.6" r="1.3" fill="#5CC4B1"/><circle cx="92.4" cy="74.1" r="1.3" fill="#5CC4B1"/><circle cx="91.2" cy="72.3" r="1.3" fill="#5CC4B1"/><circle cx="98.4" cy="72.7" r="1.3" fill="#5CC4B1"/><circle cx="98.0" cy="74.0" r="1.3" fill="#5CC4B1"/><circle cx="101.7" cy="72.6" r="1.3" fill="#5CC4B1"/><circle cx="104.2" cy="72.6" r="1.3" fill="#5CC4B1"/><circle cx="43.4" cy="76.0" r="1.3" fill="#5CC4B1"/><circle cx="41.3" cy="77.7" r="1.3" fill="#5CC4B1"/><circle cx="46.7" cy="78.2" r="1.3" fill="#5CC4B1"/><circle cx="48.3" cy="76.9" r="1.3" fill="#5CC4B1"/><circle cx="53.0" cy="78.2" r="1.3" fill="#5CC4B1"/><circle cx="52.4" cy="77.3" r="1.3" fill="#5CC4B1"/><circle cx="57.4" cy="79.0" r="1.3" fill="#5CC4B1"/><circle cx="58.8" cy="76.0" r="1.3" fill="#5CC4B1"/><circle cx="77.3" cy="76.2" r="1.3" fill="#5CC4B1"/><circle cx="77.2" cy="77.7" r="1.3" fill="#5CC4B1"/><circle cx="83.3" cy="77.2" r="1.3" fill="#5CC4B1"/><circle cx="83.0" cy="78.1" r="1.3" fill="#5CC4B1"/><circle cx="96.0" cy="78.2" r="1.3" fill="#5CC4B1"/><circle cx="96.2" cy="76.0" r="1.3" fill="#5CC4B1"/><circle cx="102.4" cy="75.9" r="1.3" fill="#5CC4B1"/><circle cx="101.0" cy="77.1" r="1.3" fill="#5CC4B1"/><circle cx="146.2" cy="19.0" r="1.3" fill="#5CC4B1"/><circle cx="148.7" cy="17.5" r="1.3" fill="#5CC4B1"/><circle cx="147.8" cy="16.9" r="1.3" fill="#5CC4B1"/><circle cx="149.1" cy="16.2" r="1.3" fill="#5CC4B1"/><circle cx="146.8" cy="16.6" r="1.3" fill="#5CC4B1"/><circle cx="148.7" cy="17.5" r="1.3" fill="#5CC4B1"/><circle cx="147.2" cy="17.2" r="1.3" fill="#5CC4B1"/><circle cx="101.7" cy="28.5" r="1.3" fill="#5CC4B1"/><circle cx="103.2" cy="27.3" r="1.3" fill="#5CC4B1"/><circle cx="107.3" cy="27.3" r="1.3" fill="#5CC4B1"/><circle cx="106.9" cy="27.9" r="1.3" fill="#5CC4B1"/><circle cx="111.8" cy="28.4" r="1.3" fill="#5CC4B1"/><circle cx="112.3" cy="27.4" r="1.3" fill="#5CC4B1"/><circle cx="117.3" cy="27.1" r="1.3" fill="#5CC4B1"/><circle cx="118.9" cy="29.1" r="1.3" fill="#5CC4B1"/><circle cx="162.2" cy="28.1" r="1.3" fill="#5CC4B1"/><circle cx="163.3" cy="26.8" r="1.3" fill="#5CC4B1"/><circle cx="163.3" cy="29.0" r="1.3" fill="#5CC4B1"/><circle cx="163.0" cy="28.1" r="1.3" fill="#5CC4B1"/><circle cx="162.3" cy="28.0" r="1.3" fill="#5CC4B1"/><circle cx="161.6" cy="28.4" r="1.3" fill="#5CC4B1"/><circle cx="162.6" cy="29.1" r="1.3" fill="#5CC4B1"/><circle cx="118.2" cy="30.9" r="1.3" fill="#5CC4B1"/><circle cx="117.2" cy="33.4" r="1.3" fill="#5CC4B1"/><circle cx="102.9" cy="36.6" r="1.3" fill="#5CC4B1"/><circle cx="102.2" cy="39.2" r="1.3" fill="#5CC4B1"/><circle cx="158.9" cy="36.0" r="1.3" fill="#5CC4B1"/><circle cx="157.8" cy="38.6" r="1.3" fill="#5CC4B1"/><circle cx="122.1" cy="47.8" r="1.3" fill="#5CC4B1"/><circle cx="123.2" cy="48.4" r="1.3" fill="#5CC4B1"/><circle cx="157.8" cy="46.7" r="1.3" fill="#5CC4B1"/><circle cx="158.2" cy="47.7" r="1.3" fill="#5CC4B1"/><circle cx="114.2" cy="51.3" r="1.3" fill="#5CC4B1"/><circle cx="113.5" cy="51.9" r="1.3" fill="#5CC4B1"/><circle cx="124.0" cy="51.7" r="1.3" fill="#5CC4B1"/><circle cx="122.7" cy="52.6" r="1.3" fill="#5CC4B1"/><circle cx="161.4" cy="62.9" r="1.3" fill="#5CC4B1"/><circle cx="163.8" cy="63.1" r="1.3" fill="#5CC4B1"/><circle cx="40.2" cy="83.8" r="1.3" fill="#5CC4B1"/><circle cx="42.5" cy="85.0" r="1.3" fill="#5CC4B1"/><circle cx="43.8" cy="88.0" r="1.3" fill="#5CC4B1"/><circle cx="45.3" cy="86.9" r="1.3" fill="#5CC4B1"/><circle cx="44.4" cy="89.7" r="1.3" fill="#5CC4B1"/><circle cx="38.9" cy="93.0" r="1.3" fill="#5CC4B1"/><circle cx="38.6" cy="94.5" r="1.3" fill="#5CC4B1"/><circle cx="55.3" cy="96.8" r="1.3" fill="#5CC4B1"/><circle cx="55.8" cy="100.0" r="1.3" fill="#5CC4B1"/><circle cx="49.3" cy="83.2" r="1.3" fill="#5CC4B1"/><circle cx="53.0" cy="80.5" r="1.3" fill="#5CC4B1"/><circle cx="53.0" cy="78.8" r="1.3" fill="#5CC4B1"/><circle cx="56.4" cy="81.6" r="1.3" fill="#5CC4B1"/><circle cx="58.0" cy="79.5" r="1.3" fill="#5CC4B1"/><circle cx="56.5" cy="79.7" r="1.3" fill="#5CC4B1"/><circle cx="67.8" cy="94.6" r="1.3" fill="#5CC4B1"/><circle cx="69.4" cy="95.5" r="1.3" fill="#5CC4B1"/><circle cx="71.0" cy="98.4" r="1.3" fill="#5CC4B1"/><circle cx="73.8" cy="84.8" r="1.3" fill="#5CC4B1"/><circle cx="72.2" cy="85.5" r="1.3" fill="#5CC4B1"/><circle cx="61.8" cy="80.5" r="1.3" fill="#5CC4B1"/><circle cx="64.0" cy="78.5" r="1.3" fill="#5CC4B1"/><circle cx="84.7" cy="96.3" r="1.3" fill="#5CC4B1"/><circle cx="88.5" cy="96.5" r="1.3" fill="#5CC4B1"/><circle cx="89.7" cy="97.3" r="1.3" fill="#5CC4B1"/><circle cx="52.7" cy="108.2" r="1.3" fill="#5CC4B1"/><circle cx="54.4" cy="109.5" r="1.3" fill="#5CC4B1"/><circle cx="68.5" cy="106.0" r="1.3" fill="#5CC4B1"/><circle cx="67.7" cy="104.6" r="1.3" fill="#5CC4B1"/><circle cx="55.4" cy="116.4" r="1.3" fill="#5CC4B1"/><circle cx="57.3" cy="117.3" r="1.3" fill="#5CC4B1"/><circle cx="65.7" cy="116.4" r="1.3" fill="#5CC4B1"/><circle cx="65.4" cy="114.4" r="1.3" fill="#5CC4B1"/><circle cx="67.0" cy="117.8" r="1.3" fill="#5CC4B1"/><circle cx="65.6" cy="118.1" r="1.3" fill="#5CC4B1"/><circle cx="78.0" cy="110.2" r="1.3" fill="#5CC4B1"/><circle cx="80.0" cy="109.7" r="1.3" fill="#5CC4B1"/><circle cx="31.0" cy="128.2" r="1.3" fill="#5CC4B1"/><circle cx="29.8" cy="127.1" r="1.3" fill="#5CC4B1"/><circle cx="90.5" cy="96.2" r="1.3" fill="#5CC4B1"/><circle cx="89.0" cy="94.7" r="1.3" fill="#5CC4B1"/><circle cx="92.0" cy="97.5" r="1.3" fill="#5CC4B1"/><circle cx="90.3" cy="96.4" r="1.3" fill="#5CC4B1"/><circle cx="79.0" cy="110.0" r="1.3" fill="#5CC4B1"/><circle cx="77.9" cy="110.9" r="1.3" fill="#5CC4B1"/><circle cx="81.7" cy="110.8" r="1.3" fill="#5CC4B1"/><circle cx="80.3" cy="109.8" r="1.3" fill="#5CC4B1"/><circle cx="83.7" cy="111.5" r="1.3" fill="#5CC4B1"/><circle cx="84.2" cy="110.0" r="1.3" fill="#5CC4B1"/><circle cx="91.3" cy="112.9" r="1.3" fill="#5CC4B1"/><circle cx="91.2" cy="111.6" r="1.3" fill="#5CC4B1"/><circle cx="96.0" cy="114.4" r="1.3" fill="#5CC4B1"/><circle cx="97.3" cy="115.8" r="1.3" fill="#5CC4B1"/><circle cx="98.8" cy="108.7" r="1.3" fill="#5CC4B1"/><circle cx="100.5" cy="108.4" r="1.3" fill="#5CC4B1"/><circle cx="105.7" cy="128.7" r="1.3" fill="#5CC4B1"/><circle cx="106.8" cy="128.0" r="1.3" fill="#5CC4B1"/><circle cx="108.0" cy="130.0" r="1.3" fill="#5CC4B1"/><circle cx="107.6" cy="131.3" r="1.3" fill="#5CC4B1"/><circle cx="107.0" cy="131.4" r="1.3" fill="#5CC4B1"/><circle cx="108.2" cy="130.3" r="1.3" fill="#5CC4B1"/><circle cx="138.5" cy="113.7" r="1.3" fill="#5CC4B1"/><circle cx="140.5" cy="114.6" r="1.3" fill="#5CC4B1"/><circle cx="142.8" cy="115.5" r="1.3" fill="#5CC4B1"/><circle cx="145.0" cy="115.3" r="1.3" fill="#5CC4B1"/><circle cx="146.8" cy="116.2" r="1.3" fill="#5CC4B1"/><circle cx="144.0" cy="116.7" r="1.3" fill="#5CC4B1"/><circle cx="83.4" cy="7.2" r="1.3" fill="#BEBEBE"/><circle cx="86.9" cy="9.1" r="1.3" fill="#BEBEBE"/><circle cx="119.1" cy="6.6" r="1.3" fill="#BEBEBE"/><circle cx="95.9" cy="10.9" r="1.3" fill="#BEBEBE"/><circle cx="137.5" cy="16.7" r="1.3" fill="#BEBEBE"/><circle cx="59.0" cy="22.4" r="1.3" fill="#BEBEBE"/><circle cx="82.0" cy="23.0" r="1.3" fill="#BEBEBE"/><circle cx="97.9" cy="23.3" r="1.3" fill="#BEBEBE"/><circle cx="133.1" cy="22.7" r="1.3" fill="#BEBEBE"/><circle cx="53.0" cy="26.3" r="1.3" fill="#BEBEBE"/><circle cx="66.5" cy="27.2" r="1.3" fill="#BEBEBE"/><circle cx="128.6" cy="28.7" r="1.3" fill="#BEBEBE"/><circle cx="132.4" cy="27.4" r="1.3" fill="#BEBEBE"/><circle cx="141.4" cy="34.2" r="1.3" fill="#BEBEBE"/><circle cx="58.9" cy="39.1" r="1.3" fill="#BEBEBE"/><circle cx="106.6" cy="36.8" r="1.3" fill="#BEBEBE"/><circle cx="52.5" cy="42.3" r="1.3" fill="#BEBEBE"/><circle cx="65.9" cy="44.2" r="1.3" fill="#BEBEBE"/><circle cx="116.9" cy="42.2" r="1.3" fill="#BEBEBE"/><circle cx="71.4" cy="52.4" r="1.3" fill="#BEBEBE"/><circle cx="87.6" cy="53.6" r="1.3" fill="#BEBEBE"/><circle cx="153.6" cy="53.1" r="1.3" fill="#BEBEBE"/><circle cx="157.4" cy="54.2" r="1.3" fill="#BEBEBE"/><circle cx="73.2" cy="57.4" r="1.3" fill="#BEBEBE"/><circle cx="98.0" cy="57.4" r="1.3" fill="#BEBEBE"/><circle cx="146.3" cy="58.6" r="1.3" fill="#BEBEBE"/><circle cx="151.2" cy="56.8" r="1.3" fill="#BEBEBE"/><circle cx="162.6" cy="57.7" r="1.3" fill="#BEBEBE"/><circle cx="52.2" cy="64.1" r="1.3" fill="#BEBEBE"/><circle cx="76.9" cy="64.0" r="1.3" fill="#BEBEBE"/><circle cx="127.7" cy="64.1" r="1.3" fill="#BEBEBE"/><circle cx="132.5" cy="62.7" r="1.3" fill="#BEBEBE"/><circle cx="42.6" cy="69.1" r="1.3" fill="#BEBEBE"/><circle cx="45.9" cy="68.6" r="1.3" fill="#BEBEBE"/><circle cx="81.8" cy="66.4" r="1.3" fill="#BEBEBE"/><circle cx="86.9" cy="67.7" r="1.3" fill="#BEBEBE"/><circle cx="91.4" cy="68.3" r="1.3" fill="#BEBEBE"/><circle cx="102.5" cy="69.1" r="1.3" fill="#BEBEBE"/><circle cx="92.8" cy="71.6" r="1.3" fill="#BEBEBE"/><circle cx="76.7" cy="78.2" r="1.3" fill="#BEBEBE"/><circle cx="86.5" cy="95.8" r="1.3" fill="#BEBEBE"/><circle cx="88.0" cy="95.7" r="1.3" fill="#BEBEBE"/><circle cx="21.8" cy="128.5" r="1.3" fill="#9B1A48"/><circle cx="22.2" cy="130.4" r="1.3" fill="#9B1A48"/><circle cx="22.9" cy="130.6" r="1.3" fill="#9B1A48"/><circle cx="22.6" cy="129.2" r="1.3" fill="#9B1A48"/><circle cx="27.7" cy="129.0" r="1.3" fill="#9B1A48"/><circle cx="27.0" cy="128.4" r="1.3" fill="#9B1A48"/><circle cx="26.1" cy="129.9" r="1.3" fill="#9B1A48"/><circle cx="28.2" cy="128.1" r="1.3" fill="#9B1A48"/><circle cx="28.6" cy="130.7" r="1.3" fill="#9B1A48"/><circle cx="26.7" cy="130.7" r="1.3" fill="#9B1A48"/><circle cx="27.6" cy="129.0" r="1.3" fill="#9B1A48"/><circle cx="27.1" cy="128.0" r="1.3" fill="#9B1A48"/><circle cx="26.3" cy="130.8" r="1.3" fill="#9B1A48"/><circle cx="33.8" cy="129.0" r="1.3" fill="#9B1A48"/><circle cx="31.6" cy="129.0" r="1.3" fill="#9B1A48"/><circle cx="31.2" cy="130.4" r="1.3" fill="#9B1A48"/><circle cx="33.5" cy="128.3" r="1.3" fill="#9B1A48"/><circle cx="36.7" cy="128.9" r="1.3" fill="#9B1A48"/><circle cx="38.2" cy="129.3" r="1.3" fill="#9B1A48"/><circle cx="38.6" cy="128.7" r="1.3" fill="#9B1A48"/><circle cx="36.5" cy="128.2" r="1.3" fill="#9B1A48"/><circle cx="23.2" cy="131.9" r="1.3" fill="#9B1A48"/><circle cx="23.8" cy="131.5" r="1.3" fill="#9B1A48"/><circle cx="22.4" cy="131.9" r="1.3" fill="#9B1A48"/><circle cx="22.3" cy="133.6" r="1.3" fill="#9B1A48"/><circle cx="22.7" cy="132.9" r="1.3" fill="#9B1A48"/><circle cx="24.2" cy="131.6" r="1.3" fill="#9B1A48"/><circle cx="21.6" cy="132.9" r="1.3" fill="#9B1A48"/><circle cx="21.3" cy="134.1" r="1.3" fill="#9B1A48"/><circle cx="22.0" cy="132.3" r="1.3" fill="#9B1A48"/><circle cx="27.3" cy="133.6" r="1.3" fill="#9B1A48"/><circle cx="28.9" cy="133.1" r="1.3" fill="#9B1A48"/><circle cx="26.4" cy="132.0" r="1.3" fill="#9B1A48"/><circle cx="28.2" cy="131.5" r="1.3" fill="#9B1A48"/><circle cx="28.8" cy="133.8" r="1.3" fill="#9B1A48"/><circle cx="26.6" cy="132.0" r="1.3" fill="#9B1A48"/><circle cx="26.6" cy="133.2" r="1.3" fill="#9B1A48"/><circle cx="26.0" cy="133.2" r="1.3" fill="#9B1A48"/><circle cx="26.0" cy="133.7" r="1.3" fill="#9B1A48"/><circle cx="32.6" cy="132.8" r="1.3" fill="#9B1A48"/><circle cx="31.1" cy="131.0" r="1.3" fill="#9B1A48"/><circle cx="32.0" cy="134.1" r="1.3" fill="#9B1A48"/><circle cx="32.8" cy="133.7" r="1.3" fill="#9B1A48"/><circle cx="31.0" cy="131.1" r="1.3" fill="#9B1A48"/><circle cx="30.9" cy="133.2" r="1.3" fill="#9B1A48"/><circle cx="31.4" cy="131.7" r="1.3" fill="#9B1A48"/><circle cx="33.1" cy="133.2" r="1.3" fill="#9B1A48"/><circle cx="31.9" cy="132.4" r="1.3" fill="#9B1A48"/><circle cx="36.8" cy="132.7" r="1.3" fill="#9B1A48"/><circle cx="37.0" cy="132.0" r="1.3" fill="#9B1A48"/><circle cx="36.6" cy="131.8" r="1.3" fill="#9B1A48"/><circle cx="36.7" cy="130.9" r="1.3" fill="#9B1A48"/><circle cx="21.9" cy="137.8" r="1.3" fill="#9B1A48"/><circle cx="21.7" cy="136.2" r="1.3" fill="#9B1A48"/><circle cx="23.7" cy="137.4" r="1.3" fill="#9B1A48"/><circle cx="22.5" cy="136.9" r="1.3" fill="#9B1A48"/><circle cx="28.8" cy="138.4" r="1.3" fill="#9B1A48"/><circle cx="27.9" cy="138.0" r="1.3" fill="#9B1A48"/><circle cx="28.2" cy="137.5" r="1.3" fill="#9B1A48"/><circle cx="27.2" cy="137.1" r="1.3" fill="#9B1A48"/><circle cx="27.5" cy="137.4" r="1.3" fill="#9B1A48"/><circle cx="27.6" cy="137.6" r="1.3" fill="#9B1A48"/><circle cx="28.5" cy="138.8" r="1.3" fill="#9B1A48"/><circle cx="26.6" cy="135.9" r="1.3" fill="#9B1A48"/><circle cx="26.8" cy="135.9" r="1.3" fill="#9B1A48"/><circle cx="33.5" cy="137.9" r="1.3" fill="#9B1A48"/><circle cx="31.8" cy="136.5" r="1.3" fill="#9B1A48"/><circle cx="33.8" cy="138.6" r="1.3" fill="#9B1A48"/><circle cx="33.1" cy="138.2" r="1.3" fill="#9B1A48"/><circle cx="33.3" cy="137.3" r="1.3" fill="#9B1A48"/><circle cx="32.2" cy="137.7" r="1.3" fill="#9B1A48"/><circle cx="33.8" cy="139.2" r="1.3" fill="#9B1A48"/><circle cx="33.9" cy="138.6" r="1.3" fill="#9B1A48"/><circle cx="31.1" cy="136.6" r="1.3" fill="#9B1A48"/><circle cx="39.1" cy="137.6" r="1.3" fill="#9B1A48"/><circle cx="37.6" cy="136.9" r="1.3" fill="#9B1A48"/><circle cx="38.7" cy="137.6" r="1.3" fill="#9B1A48"/><circle cx="39.2" cy="136.1" r="1.3" fill="#9B1A48"/><circle cx="39.2" cy="135.8" r="1.3" fill="#9B1A48"/><circle cx="36.3" cy="137.1" r="1.3" fill="#9B1A48"/><circle cx="38.0" cy="136.2" r="1.3" fill="#9B1A48"/><circle cx="37.7" cy="139.0" r="1.3" fill="#9B1A48"/><circle cx="37.3" cy="138.4" r="1.3" fill="#9B1A48"/><circle cx="42.8" cy="137.8" r="1.3" fill="#9B1A48"/><circle cx="41.4" cy="137.4" r="1.3" fill="#9B1A48"/><circle cx="43.9" cy="138.1" r="1.3" fill="#9B1A48"/><circle cx="41.5" cy="137.3" r="1.3" fill="#9B1A48"/><circle cx="27.6" cy="141.9" r="1.3" fill="#9B1A48"/><circle cx="27.8" cy="142.9" r="1.3" fill="#9B1A48"/><circle cx="25.9" cy="141.5" r="1.3" fill="#9B1A48"/><circle cx="28.0" cy="141.5" r="1.3" fill="#9B1A48"/><circle cx="26.0" cy="143.4" r="1.3" fill="#9B1A48"/><circle cx="26.9" cy="144.1" r="1.3" fill="#9B1A48"/><circle cx="27.7" cy="141.1" r="1.3" fill="#9B1A48"/><circle cx="28.0" cy="141.7" r="1.3" fill="#9B1A48"/><circle cx="28.6" cy="143.3" r="1.3" fill="#9B1A48"/><circle cx="33.4" cy="141.0" r="1.3" fill="#9B1A48"/><circle cx="30.9" cy="143.5" r="1.3" fill="#9B1A48"/><circle cx="31.3" cy="141.5" r="1.3" fill="#9B1A48"/><circle cx="30.9" cy="141.4" r="1.3" fill="#9B1A48"/><circle cx="32.4" cy="144.1" r="1.3" fill="#9B1A48"/><circle cx="31.9" cy="141.7" r="1.3" fill="#9B1A48"/><circle cx="33.6" cy="141.4" r="1.3" fill="#9B1A48"/><circle cx="33.0" cy="142.9" r="1.3" fill="#9B1A48"/><circle cx="34.0" cy="140.9" r="1.3" fill="#9B1A48"/><circle cx="37.7" cy="142.1" r="1.3" fill="#9B1A48"/><circle cx="38.6" cy="141.7" r="1.3" fill="#9B1A48"/><circle cx="38.2" cy="141.4" r="1.3" fill="#9B1A48"/><circle cx="37.5" cy="144.1" r="1.3" fill="#9B1A48"/><circle cx="36.6" cy="141.7" r="1.3" fill="#9B1A48"/><circle cx="38.9" cy="143.1" r="1.3" fill="#9B1A48"/><circle cx="36.0" cy="141.4" r="1.3" fill="#9B1A48"/><circle cx="36.6" cy="141.8" r="1.3" fill="#9B1A48"/><circle cx="38.7" cy="143.2" r="1.3" fill="#9B1A48"/><circle cx="44.1" cy="143.1" r="1.3" fill="#9B1A48"/><circle cx="42.9" cy="142.1" r="1.3" fill="#9B1A48"/><circle cx="43.2" cy="142.5" r="1.3" fill="#9B1A48"/><circle cx="41.0" cy="142.5" r="1.3" fill="#9B1A48"/><circle cx="27.1" cy="147.6" r="1.3" fill="#9B1A48"/><circle cx="26.0" cy="145.9" r="1.3" fill="#9B1A48"/><circle cx="29.1" cy="147.1" r="1.3" fill="#9B1A48"/><circle cx="26.9" cy="146.3" r="1.3" fill="#9B1A48"/><circle cx="32.8" cy="148.9" r="1.3" fill="#9B1A48"/><circle cx="31.4" cy="147.5" r="1.3" fill="#9B1A48"/><circle cx="32.5" cy="148.4" r="1.3" fill="#9B1A48"/><circle cx="32.7" cy="146.6" r="1.3" fill="#9B1A48"/><circle cx="31.4" cy="148.3" r="1.3" fill="#9B1A48"/><circle cx="31.1" cy="148.7" r="1.3" fill="#9B1A48"/><circle cx="30.9" cy="146.4" r="1.3" fill="#9B1A48"/><circle cx="32.4" cy="148.7" r="1.3" fill="#9B1A48"/><circle cx="32.9" cy="148.3" r="1.3" fill="#9B1A48"/><circle cx="38.4" cy="148.3" r="1.3" fill="#9B1A48"/><circle cx="36.0" cy="148.6" r="1.3" fill="#9B1A48"/><circle cx="36.3" cy="146.4" r="1.3" fill="#9B1A48"/><circle cx="35.9" cy="145.9" r="1.3" fill="#9B1A48"/><circle cx="38.8" cy="147.1" r="1.3" fill="#9B1A48"/><circle cx="36.1" cy="146.0" r="1.3" fill="#9B1A48"/><circle cx="38.7" cy="147.8" r="1.3" fill="#9B1A48"/><circle cx="38.9" cy="145.9" r="1.3" fill="#9B1A48"/><circle cx="36.2" cy="146.8" r="1.3" fill="#9B1A48"/><circle cx="41.4" cy="146.2" r="1.3" fill="#9B1A48"/><circle cx="41.5" cy="148.0" r="1.3" fill="#9B1A48"/><circle cx="41.4" cy="146.4" r="1.3" fill="#9B1A48"/><circle cx="42.6" cy="147.1" r="1.3" fill="#9B1A48"/><circle cx="41.3" cy="147.7" r="1.3" fill="#9B1A48"/><circle cx="42.5" cy="147.1" r="1.3" fill="#9B1A48"/><circle cx="42.4" cy="145.9" r="1.3" fill="#9B1A48"/><circle cx="42.9" cy="146.5" r="1.3" fill="#9B1A48"/><circle cx="41.9" cy="145.8" r="1.3" fill="#9B1A48"/><circle cx="33.8" cy="152.8" r="1.3" fill="#9B1A48"/><circle cx="32.1" cy="152.6" r="1.3" fill="#9B1A48"/><circle cx="34.0" cy="151.2" r="1.3" fill="#9B1A48"/><circle cx="32.1" cy="153.2" r="1.3" fill="#9B1A48"/><circle cx="32.1" cy="153.2" r="1.3" fill="#9B1A48"/><circle cx="33.9" cy="150.9" r="1.3" fill="#9B1A48"/><circle cx="31.8" cy="151.8" r="1.3" fill="#9B1A48"/><circle cx="33.4" cy="153.5" r="1.3" fill="#9B1A48"/><circle cx="33.2" cy="153.9" r="1.3" fill="#9B1A48"/><circle cx="36.4" cy="152.1" r="1.3" fill="#9B1A48"/><circle cx="38.7" cy="153.4" r="1.3" fill="#9B1A48"/><circle cx="36.2" cy="154.1" r="1.3" fill="#9B1A48"/><circle cx="38.3" cy="153.7" r="1.3" fill="#9B1A48"/><circle cx="37.0" cy="152.9" r="1.3" fill="#9B1A48"/><circle cx="39.1" cy="153.9" r="1.3" fill="#9B1A48"/><circle cx="37.8" cy="153.8" r="1.3" fill="#9B1A48"/><circle cx="39.2" cy="153.7" r="1.3" fill="#9B1A48"/><circle cx="38.0" cy="154.1" r="1.3" fill="#9B1A48"/><circle cx="41.3" cy="152.2" r="1.3" fill="#9B1A48"/><circle cx="42.7" cy="151.2" r="1.3" fill="#9B1A48"/><circle cx="43.5" cy="151.0" r="1.3" fill="#9B1A48"/><circle cx="42.9" cy="151.8" r="1.3" fill="#9B1A48"/><circle cx="41.9" cy="152.9" r="1.3" fill="#9B1A48"/><circle cx="41.5" cy="152.3" r="1.3" fill="#9B1A48"/><circle cx="43.7" cy="154.2" r="1.3" fill="#9B1A48"/><circle cx="41.7" cy="152.0" r="1.3" fill="#9B1A48"/><circle cx="43.2" cy="151.4" r="1.3" fill="#9B1A48"/><circle cx="48.7" cy="151.5" r="1.3" fill="#9B1A48"/><circle cx="47.7" cy="152.0" r="1.3" fill="#9B1A48"/><circle cx="45.8" cy="150.8" r="1.3" fill="#9B1A48"/><circle cx="45.8" cy="151.9" r="1.3" fill="#9B1A48"/><circle cx="46.7" cy="154.2" r="1.3" fill="#9B1A48"/><circle cx="48.0" cy="151.0" r="1.3" fill="#9B1A48"/><circle cx="48.2" cy="151.6" r="1.3" fill="#9B1A48"/><circle cx="47.4" cy="153.3" r="1.3" fill="#9B1A48"/><circle cx="48.7" cy="154.0" r="1.3" fill="#9B1A48"/><circle cx="52.2" cy="151.9" r="1.3" fill="#9B1A48"/><circle cx="52.2" cy="151.9" r="1.3" fill="#9B1A48"/><circle cx="53.3" cy="152.4" r="1.3" fill="#9B1A48"/><circle cx="53.1" cy="151.3" r="1.3" fill="#9B1A48"/><circle cx="33.5" cy="159.1" r="1.3" fill="#9B1A48"/><circle cx="31.5" cy="157.9" r="1.3" fill="#9B1A48"/><circle cx="31.4" cy="155.9" r="1.3" fill="#9B1A48"/><circle cx="32.2" cy="156.4" r="1.3" fill="#9B1A48"/><circle cx="38.3" cy="157.7" r="1.3" fill="#9B1A48"/><circle cx="38.1" cy="159.1" r="1.3" fill="#9B1A48"/><circle cx="36.0" cy="156.1" r="1.3" fill="#9B1A48"/><circle cx="35.9" cy="157.4" r="1.3" fill="#9B1A48"/><circle cx="38.6" cy="158.1" r="1.3" fill="#9B1A48"/><circle cx="37.7" cy="158.7" r="1.3" fill="#9B1A48"/><circle cx="37.1" cy="156.2" r="1.3" fill="#9B1A48"/><circle cx="38.0" cy="155.9" r="1.3" fill="#9B1A48"/><circle cx="36.6" cy="155.9" r="1.3" fill="#9B1A48"/><circle cx="41.3" cy="156.0" r="1.3" fill="#9B1A48"/><circle cx="42.6" cy="156.2" r="1.3" fill="#9B1A48"/><circle cx="42.9" cy="158.6" r="1.3" fill="#9B1A48"/><circle cx="42.0" cy="156.2" r="1.3" fill="#9B1A48"/><circle cx="43.1" cy="158.3" r="1.3" fill="#9B1A48"/><circle cx="43.8" cy="157.7" r="1.3" fill="#9B1A48"/><circle cx="42.8" cy="158.7" r="1.3" fill="#9B1A48"/><circle cx="43.1" cy="159.1" r="1.3" fill="#9B1A48"/><circle cx="41.8" cy="158.4" r="1.3" fill="#9B1A48"/><circle cx="48.0" cy="157.4" r="1.3" fill="#9B1A48"/><circle cx="45.8" cy="157.4" r="1.3" fill="#9B1A48"/><circle cx="46.7" cy="157.8" r="1.3" fill="#9B1A48"/><circle cx="47.5" cy="157.5" r="1.3" fill="#9B1A48"/><circle cx="46.0" cy="156.2" r="1.3" fill="#9B1A48"/><circle cx="47.9" cy="158.1" r="1.3" fill="#9B1A48"/><circle cx="49.2" cy="158.5" r="1.3" fill="#9B1A48"/><circle cx="46.8" cy="157.3" r="1.3" fill="#9B1A48"/><circle cx="47.5" cy="158.5" r="1.3" fill="#9B1A48"/><circle cx="52.1" cy="158.9" r="1.3" fill="#9B1A48"/><circle cx="52.4" cy="157.2" r="1.3" fill="#9B1A48"/><circle cx="52.4" cy="157.0" r="1.3" fill="#9B1A48"/><circle cx="54.2" cy="156.0" r="1.3" fill="#9B1A48"/><circle cx="52.2" cy="156.1" r="1.3" fill="#9B1A48"/><circle cx="53.1" cy="156.3" r="1.3" fill="#9B1A48"/><circle cx="51.3" cy="157.2" r="1.3" fill="#9B1A48"/><circle cx="52.8" cy="158.4" r="1.3" fill="#9B1A48"/><circle cx="52.3" cy="156.8" r="1.3" fill="#9B1A48"/><circle cx="57.1" cy="158.8" r="1.3" fill="#9B1A48"/><circle cx="56.5" cy="155.8" r="1.3" fill="#9B1A48"/><circle cx="58.8" cy="157.4" r="1.3" fill="#9B1A48"/><circle cx="56.2" cy="156.3" r="1.3" fill="#9B1A48"/><circle cx="58.8" cy="158.3" r="1.3" fill="#9B1A48"/><circle cx="56.0" cy="158.1" r="1.3" fill="#9B1A48"/><circle cx="56.5" cy="157.3" r="1.3" fill="#9B1A48"/><circle cx="57.9" cy="156.0" r="1.3" fill="#9B1A48"/><circle cx="59.0" cy="156.9" r="1.3" fill="#9B1A48"/><circle cx="61.3" cy="158.5" r="1.3" fill="#9B1A48"/><circle cx="61.2" cy="155.9" r="1.3" fill="#9B1A48"/><circle cx="63.0" cy="157.4" r="1.3" fill="#9B1A48"/><circle cx="63.9" cy="158.5" r="1.3" fill="#9B1A48"/><circle cx="61.5" cy="156.0" r="1.3" fill="#9B1A48"/><circle cx="62.9" cy="157.4" r="1.3" fill="#9B1A48"/><circle cx="61.8" cy="158.9" r="1.3" fill="#9B1A48"/><circle cx="61.5" cy="158.0" r="1.3" fill="#9B1A48"/><circle cx="61.0" cy="158.9" r="1.3" fill="#9B1A48"/><circle cx="69.0" cy="157.9" r="1.3" fill="#9B1A48"/><circle cx="66.9" cy="158.3" r="1.3" fill="#9B1A48"/><circle cx="68.9" cy="158.5" r="1.3" fill="#9B1A48"/><circle cx="65.9" cy="157.5" r="1.3" fill="#9B1A48"/><circle cx="66.3" cy="157.7" r="1.3" fill="#9B1A48"/><circle cx="69.0" cy="158.7" r="1.3" fill="#9B1A48"/><circle cx="66.6" cy="157.7" r="1.3" fill="#9B1A48"/><circle cx="66.9" cy="156.4" r="1.3" fill="#9B1A48"/><circle cx="68.3" cy="158.4" r="1.3" fill="#9B1A48"/><circle cx="71.9" cy="157.2" r="1.3" fill="#9B1A48"/><circle cx="73.2" cy="158.3" r="1.3" fill="#9B1A48"/><circle cx="72.4" cy="156.2" r="1.3" fill="#9B1A48"/><circle cx="43.6" cy="162.5" r="1.3" fill="#9B1A48"/><circle cx="43.0" cy="162.0" r="1.3" fill="#9B1A48"/><circle cx="42.1" cy="161.4" r="1.3" fill="#9B1A48"/><circle cx="44.1" cy="162.9" r="1.3" fill="#9B1A48"/><circle cx="41.2" cy="163.2" r="1.3" fill="#9B1A48"/><circle cx="42.8" cy="162.9" r="1.3" fill="#9B1A48"/><circle cx="43.4" cy="162.9" r="1.3" fill="#9B1A48"/><circle cx="43.8" cy="164.1" r="1.3" fill="#9B1A48"/><circle cx="42.2" cy="163.0" r="1.3" fill="#9B1A48"/><circle cx="47.1" cy="162.2" r="1.3" fill="#9B1A48"/><circle cx="47.0" cy="163.0" r="1.3" fill="#9B1A48"/><circle cx="47.0" cy="162.0" r="1.3" fill="#9B1A48"/><circle cx="48.7" cy="163.5" r="1.3" fill="#9B1A48"/><circle cx="48.1" cy="163.7" r="1.3" fill="#9B1A48"/><circle cx="47.1" cy="163.0" r="1.3" fill="#9B1A48"/><circle cx="46.7" cy="161.9" r="1.3" fill="#9B1A48"/><circle cx="46.1" cy="163.5" r="1.3" fill="#9B1A48"/><circle cx="48.9" cy="161.8" r="1.3" fill="#9B1A48"/><circle cx="52.1" cy="161.2" r="1.3" fill="#9B1A48"/><circle cx="51.3" cy="163.0" r="1.3" fill="#9B1A48"/><circle cx="53.8" cy="161.1" r="1.3" fill="#9B1A48"/><circle cx="51.7" cy="163.4" r="1.3" fill="#9B1A48"/><circle cx="51.6" cy="163.8" r="1.3" fill="#9B1A48"/><circle cx="52.0" cy="162.4" r="1.3" fill="#9B1A48"/><circle cx="51.5" cy="161.8" r="1.3" fill="#9B1A48"/><circle cx="52.2" cy="161.7" r="1.3" fill="#9B1A48"/><circle cx="53.3" cy="160.9" r="1.3" fill="#9B1A48"/><circle cx="58.0" cy="163.5" r="1.3" fill="#9B1A48"/><circle cx="56.9" cy="161.5" r="1.3" fill="#9B1A48"/><circle cx="56.2" cy="161.1" r="1.3" fill="#9B1A48"/><circle cx="58.5" cy="162.9" r="1.3" fill="#9B1A48"/><circle cx="55.9" cy="162.3" r="1.3" fill="#9B1A48"/><circle cx="57.8" cy="161.9" r="1.3" fill="#9B1A48"/><circle cx="55.9" cy="162.2" r="1.3" fill="#9B1A48"/><circle cx="57.0" cy="164.1" r="1.3" fill="#9B1A48"/><circle cx="57.0" cy="163.9" r="1.3" fill="#9B1A48"/><circle cx="63.8" cy="162.8" r="1.3" fill="#9B1A48"/><circle cx="61.2" cy="163.5" r="1.3" fill="#9B1A48"/><circle cx="61.1" cy="162.7" r="1.3" fill="#9B1A48"/><circle cx="61.1" cy="161.1" r="1.3" fill="#9B1A48"/><circle cx="62.2" cy="161.3" r="1.3" fill="#9B1A48"/><circle cx="64.2" cy="162.8" r="1.3" fill="#9B1A48"/><circle cx="63.9" cy="164.1" r="1.3" fill="#9B1A48"/><circle cx="63.4" cy="163.0" r="1.3" fill="#9B1A48"/><circle cx="62.4" cy="163.4" r="1.3" fill="#9B1A48"/><circle cx="68.1" cy="161.3" r="1.3" fill="#9B1A48"/><circle cx="67.6" cy="162.2" r="1.3" fill="#9B1A48"/><circle cx="67.6" cy="163.2" r="1.3" fill="#9B1A48"/><circle cx="68.1" cy="162.7" r="1.3" fill="#9B1A48"/><circle cx="68.5" cy="163.6" r="1.3" fill="#9B1A48"/><circle cx="66.1" cy="161.3" r="1.3" fill="#9B1A48"/><circle cx="66.0" cy="161.3" r="1.3" fill="#9B1A48"/><circle cx="69.1" cy="161.9" r="1.3" fill="#9B1A48"/><circle cx="67.3" cy="162.4" r="1.3" fill="#9B1A48"/><circle cx="72.7" cy="161.8" r="1.3" fill="#9B1A48"/><circle cx="73.4" cy="161.9" r="1.3" fill="#9B1A48"/><circle cx="73.7" cy="163.5" r="1.3" fill="#9B1A48"/><circle cx="70.8" cy="162.7" r="1.3" fill="#9B1A48"/><circle cx="46.1" cy="168.8" r="1.3" fill="#9B1A48"/><circle cx="46.0" cy="166.7" r="1.3" fill="#9B1A48"/><circle cx="48.4" cy="167.8" r="1.3" fill="#9B1A48"/><circle cx="48.1" cy="167.2" r="1.3" fill="#9B1A48"/><circle cx="52.6" cy="166.5" r="1.3" fill="#9B1A48"/><circle cx="52.4" cy="166.7" r="1.3" fill="#9B1A48"/><circle cx="53.1" cy="166.2" r="1.3" fill="#9B1A48"/><circle cx="51.3" cy="166.5" r="1.3" fill="#9B1A48"/><circle cx="52.6" cy="167.8" r="1.3" fill="#9B1A48"/><circle cx="50.8" cy="169.2" r="1.3" fill="#9B1A48"/><circle cx="53.6" cy="167.1" r="1.3" fill="#9B1A48"/><circle cx="51.3" cy="168.6" r="1.3" fill="#9B1A48"/><circle cx="54.1" cy="166.4" r="1.3" fill="#9B1A48"/><circle cx="58.4" cy="168.6" r="1.3" fill="#9B1A48"/><circle cx="59.0" cy="166.5" r="1.3" fill="#9B1A48"/><circle cx="56.2" cy="166.4" r="1.3" fill="#9B1A48"/><circle cx="56.6" cy="168.9" r="1.3" fill="#9B1A48"/><circle cx="58.9" cy="167.4" r="1.3" fill="#9B1A48"/><circle cx="56.2" cy="167.0" r="1.3" fill="#9B1A48"/><circle cx="56.6" cy="168.0" r="1.3" fill="#9B1A48"/><circle cx="58.2" cy="168.4" r="1.3" fill="#9B1A48"/><circle cx="57.3" cy="167.4" r="1.3" fill="#9B1A48"/><circle cx="62.4" cy="167.1" r="1.3" fill="#9B1A48"/><circle cx="62.3" cy="168.1" r="1.3" fill="#9B1A48"/><circle cx="63.2" cy="166.9" r="1.3" fill="#9B1A48"/><circle cx="62.7" cy="166.3" r="1.3" fill="#9B1A48"/><circle cx="61.0" cy="167.1" r="1.3" fill="#9B1A48"/><circle cx="62.0" cy="165.9" r="1.3" fill="#9B1A48"/><circle cx="61.1" cy="167.2" r="1.3" fill="#9B1A48"/><circle cx="64.0" cy="168.6" r="1.3" fill="#9B1A48"/><circle cx="60.9" cy="166.9" r="1.3" fill="#9B1A48"/><circle cx="67.1" cy="166.9" r="1.3" fill="#9B1A48"/><circle cx="66.3" cy="167.8" r="1.3" fill="#9B1A48"/><circle cx="68.7" cy="167.1" r="1.3" fill="#9B1A48"/><circle cx="66.4" cy="166.2" r="1.3" fill="#9B1A48"/><circle cx="70.9" cy="148.4" r="1.3" fill="#9B1A48"/><circle cx="71.6" cy="148.3" r="1.3" fill="#9B1A48"/><circle cx="73.5" cy="146.1" r="1.3" fill="#9B1A48"/><circle cx="71.4" cy="146.9" r="1.3" fill="#9B1A48"/><circle cx="73.4" cy="153.3" r="1.3" fill="#9B1A48"/><circle cx="71.8" cy="152.3" r="1.3" fill="#9B1A48"/><circle cx="72.0" cy="152.4" r="1.3" fill="#9B1A48"/><circle cx="73.5" cy="151.7" r="1.3" fill="#9B1A48"/><circle cx="54.2" cy="101.2" r="1.3" fill="#9B1A48"/><circle cx="56.9" cy="98.4" r="1.3" fill="#9B1A48"/><circle cx="49.8" cy="81.5" r="1.3" fill="#9B1A48"/><circle cx="48.1" cy="81.1" r="1.3" fill="#9B1A48"/><circle cx="54.0" cy="82.5" r="1.3" fill="#9B1A48"/><circle cx="56.4" cy="85.9" r="1.3" fill="#9B1A48"/><circle cx="46.5" cy="81.0" r="1.3" fill="#9B1A48"/><circle cx="61.8" cy="98.0" r="1.3" fill="#9B1A48"/><circle cx="63.3" cy="97.3" r="1.3" fill="#9B1A48"/><circle cx="67.2" cy="98.0" r="1.3" fill="#9B1A48"/><circle cx="65.7" cy="98.2" r="1.3" fill="#9B1A48"/><circle cx="73.3" cy="100.6" r="1.3" fill="#9B1A48"/><circle cx="74.8" cy="99.3" r="1.3" fill="#9B1A48"/><circle cx="70.0" cy="101.2" r="1.3" fill="#9B1A48"/><circle cx="68.6" cy="101.7" r="1.3" fill="#9B1A48"/><circle cx="62.9" cy="101.8" r="1.3" fill="#9B1A48"/><circle cx="62.1" cy="103.2" r="1.3" fill="#9B1A48"/><circle cx="82.5" cy="96.3" r="1.3" fill="#9B1A48"/><circle cx="46.2" cy="76.2" r="1.3" fill="#9B1A48"/><circle cx="120.4" cy="26.9" r="1.3" fill="#9B1A48"/><circle cx="125.6" cy="28.1" r="1.3" fill="#9B1A48"/><circle cx="115.2" cy="39.4" r="1.3" fill="#9B1A48"/><circle cx="122.6" cy="37.3" r="1.3" fill="#9B1A48"/><circle cx="146.9" cy="36.3" r="1.3" fill="#9B1A48"/><circle cx="66.6" cy="72.8" r="1.3" fill="#9B1A48"/><circle cx="54.7" cy="107.5" r="1.3" fill="#9B1A48"/><circle cx="56.6" cy="107.2" r="1.3" fill="#9B1A48"/><circle cx="56.0" cy="109.5" r="1.3" fill="#9B1A48"/><circle cx="54.1" cy="109.8" r="1.3" fill="#9B1A48"/><circle cx="63.7" cy="111.0" r="1.3" fill="#9B1A48"/><circle cx="64.8" cy="109.3" r="1.3" fill="#9B1A48"/><circle cx="56.0" cy="112.0" r="1.3" fill="#9B1A48"/><circle cx="56.8" cy="110.4" r="1.3" fill="#9B1A48"/><circle cx="58.0" cy="113.5" r="1.3" fill="#9B1A48"/><circle cx="59.7" cy="114.4" r="1.3" fill="#9B1A48"/><circle cx="60.5" cy="112.5" r="1.3" fill="#9B1A48"/><circle cx="61.6" cy="110.7" r="1.3" fill="#9B1A48"/><circle cx="57.0" cy="115.0" r="1.3" fill="#9B1A48"/><circle cx="58.3" cy="115.4" r="1.3" fill="#9B1A48"/><circle cx="60.0" cy="116.0" r="1.3" fill="#9B1A48"/><circle cx="59.8" cy="114.3" r="1.3" fill="#9B1A48"/><circle cx="62.5" cy="114.5" r="1.3" fill="#9B1A48"/><circle cx="64.2" cy="113.1" r="1.3" fill="#9B1A48"/><circle cx="58.5" cy="118.5" r="1.3" fill="#9B1A48"/><circle cx="56.7" cy="119.1" r="1.3" fill="#9B1A48"/><circle cx="61.5" cy="119.0" r="1.3" fill="#9B1A48"/><circle cx="60.5" cy="117.3" r="1.3" fill="#9B1A48"/><circle cx="56.5" cy="120.5" r="1.3" fill="#9B1A48"/><circle cx="55.2" cy="121.9" r="1.3" fill="#9B1A48"/><circle cx="71.2" cy="113.0" r="1.3" fill="#9B1A48"/><circle cx="69.4" cy="113.6" r="1.3" fill="#9B1A48"/><circle cx="72.6" cy="116.4" r="1.3" fill="#9B1A48"/><circle cx="71.3" cy="116.0" r="1.3" fill="#9B1A48"/><circle cx="75.3" cy="117.8" r="1.3" fill="#9B1A48"/><circle cx="77.0" cy="117.8" r="1.3" fill="#9B1A48"/><circle cx="77.4" cy="119.8" r="1.3" fill="#9B1A48"/><circle cx="77.4" cy="121.3" r="1.3" fill="#9B1A48"/><circle cx="58.8" cy="119.8" r="1.3" fill="#9B1A48"/><circle cx="58.1" cy="117.8" r="1.3" fill="#9B1A48"/><circle cx="61.6" cy="122.6" r="1.3" fill="#9B1A48"/><circle cx="61.0" cy="121.4" r="1.3" fill="#9B1A48"/><circle cx="64.3" cy="124.0" r="1.3" fill="#9B1A48"/><circle cx="65.5" cy="122.6" r="1.3" fill="#9B1A48"/><circle cx="67.8" cy="125.3" r="1.3" fill="#9B1A48"/><circle cx="67.6" cy="123.5" r="1.3" fill="#9B1A48"/><circle cx="71.2" cy="123.3" r="1.3" fill="#9B1A48"/><circle cx="70.2" cy="124.6" r="1.3" fill="#9B1A48"/><circle cx="74.0" cy="121.2" r="1.3" fill="#9B1A48"/><circle cx="75.7" cy="122.0" r="1.3" fill="#9B1A48"/><circle cx="77.4" cy="113.6" r="1.3" fill="#9B1A48"/><circle cx="79.1" cy="113.5" r="1.3" fill="#9B1A48"/><circle cx="34.1" cy="127.4" r="1.3" fill="#9B1A48"/><circle cx="32.8" cy="125.8" r="1.3" fill="#9B1A48"/><circle cx="75.5" cy="106.7" r="1.3" fill="#9B1A48"/><circle cx="75.2" cy="108.6" r="1.3" fill="#9B1A48"/><circle cx="87.9" cy="109.4" r="1.3" fill="#9B1A48"/><circle cx="89.4" cy="110.0" r="1.3" fill="#9B1A48"/><circle cx="92.7" cy="109.4" r="1.3" fill="#9B1A48"/><circle cx="92.3" cy="111.4" r="1.3" fill="#9B1A48"/><circle cx="96.8" cy="110.8" r="1.3" fill="#9B1A48"/><circle cx="96.5" cy="113.0" r="1.3" fill="#9B1A48"/><circle cx="72.7" cy="115.6" r="1.3" fill="#9B1A48"/><circle cx="74.4" cy="116.0" r="1.3" fill="#9B1A48"/><circle cx="70.5" cy="117.5" r="1.3" fill="#9B1A48"/><circle cx="72.2" cy="116.6" r="1.3" fill="#9B1A48"/><circle cx="73.0" cy="119.0" r="1.3" fill="#9B1A48"/><circle cx="74.4" cy="120.3" r="1.3" fill="#9B1A48"/><circle cx="75.5" cy="120.5" r="1.3" fill="#9B1A48"/><circle cx="75.0" cy="119.0" r="1.3" fill="#9B1A48"/><circle cx="70.0" cy="121.8" r="1.3" fill="#9B1A48"/><circle cx="70.2" cy="120.0" r="1.3" fill="#9B1A48"/><circle cx="77.8" cy="122.5" r="1.3" fill="#9B1A48"/><circle cx="76.3" cy="123.4" r="1.3" fill="#9B1A48"/><circle cx="94.7" cy="118.4" r="1.3" fill="#9B1A48"/><circle cx="96.5" cy="118.2" r="1.3" fill="#9B1A48"/><circle cx="94.0" cy="120.4" r="1.3" fill="#9B1A48"/><circle cx="95.3" cy="121.0" r="1.3" fill="#9B1A48"/><circle cx="92.7" cy="123.2" r="1.3" fill="#9B1A48"/><circle cx="94.5" cy="123.8" r="1.3" fill="#9B1A48"/><circle cx="81.0" cy="123.8" r="1.3" fill="#9B1A48"/><circle cx="79.6" cy="124.6" r="1.3" fill="#9B1A48"/><circle cx="90.0" cy="124.5" r="1.3" fill="#9B1A48"/><circle cx="91.5" cy="124.0" r="1.3" fill="#9B1A48"/><circle cx="92.5" cy="126.0" r="1.3" fill="#9B1A48"/><circle cx="93.3" cy="124.4" r="1.3" fill="#9B1A48"/><circle cx="95.0" cy="127.5" r="1.3" fill="#9B1A48"/><circle cx="96.1" cy="128.3" r="1.3" fill="#9B1A48"/><circle cx="97.5" cy="128.5" r="1.3" fill="#9B1A48"/><circle cx="95.9" cy="127.2" r="1.3" fill="#9B1A48"/><circle cx="100.0" cy="129.5" r="1.3" fill="#9B1A48"/><circle cx="101.8" cy="130.1" r="1.3" fill="#9B1A48"/><circle cx="102.5" cy="130.5" r="1.3" fill="#9B1A48"/><circle cx="102.7" cy="132.4" r="1.3" fill="#9B1A48"/><circle cx="94.0" cy="130.0" r="1.3" fill="#9B1A48"/><circle cx="95.0" cy="128.3" r="1.3" fill="#9B1A48"/><circle cx="98.0" cy="131.5" r="1.3" fill="#9B1A48"/><circle cx="98.0" cy="132.9" r="1.3" fill="#9B1A48"/><circle cx="100.5" cy="126.8" r="1.3" fill="#9B1A48"/><circle cx="101.9" cy="127.6" r="1.3" fill="#9B1A48"/><circle cx="101.0" cy="132.0" r="1.3" fill="#9B1A48"/><circle cx="101.5" cy="133.6" r="1.3" fill="#9B1A48"/><circle cx="74.0" cy="145.5" r="1.3" fill="#9B1A48"/><circle cx="72.5" cy="148.0" r="1.3" fill="#9B1A48"/><circle cx="74.5" cy="152.0" r="1.3" fill="#9B1A48"/><circle cx="96.0" cy="107.8" r="1.3" fill="#9B1A48"/><circle cx="97.5" cy="108.8" r="1.3" fill="#9B1A48"/><circle cx="71.1" cy="156.4" r="1.3" fill="#FDD708"/><circle cx="64.5" cy="101.2" r="1.3" fill="#FAA30F"/><circle cx="61.8" cy="83.2" r="1.3" fill="#FAA30F"/><circle cx="78.0" cy="96.8" r="1.3" fill="#FAA30F"/><circle cx="76.5" cy="98.0" r="1.3" fill="#FAA30F"/><circle cx="76.6" cy="99.6" r="1.3" fill="#FAA30F"/><circle cx="81.4" cy="79.4" r="1.3" fill="#FAA30F"/><circle cx="83.0" cy="81.5" r="1.3" fill="#FAA30F"/><circle cx="85.8" cy="83.7" r="1.3" fill="#FAA30F"/><circle cx="85.9" cy="85.2" r="1.3" fill="#FAA30F"/><circle cx="84.5" cy="79.5" r="1.3" fill="#FAA30F"/><circle cx="79.8" cy="12.1" r="1.3" fill="#FAA30F"/><circle cx="75.6" cy="31.6" r="1.3" fill="#FAA30F"/><circle cx="70.8" cy="38.8" r="1.3" fill="#FAA30F"/><circle cx="72.5" cy="40.0" r="1.3" fill="#FAA30F"/><circle cx="79.8" cy="37.5" r="1.3" fill="#FAA30F"/><circle cx="82.7" cy="36.5" r="1.3" fill="#FAA30F"/><circle cx="71.5" cy="42.8" r="1.3" fill="#FAA30F"/><circle cx="70.9" cy="48.7" r="1.3" fill="#FAA30F"/><circle cx="72.6" cy="44.5" r="1.3" fill="#FAA30F"/><circle cx="113.1" cy="17.3" r="1.3" fill="#FAA30F"/><circle cx="142.2" cy="16.5" r="1.3" fill="#FAA30F"/><circle cx="141.2" cy="33.0" r="1.3" fill="#FAA30F"/><circle cx="147.0" cy="28.2" r="1.3" fill="#FAA30F"/><circle cx="132.0" cy="51.2" r="1.3" fill="#FAA30F"/><circle cx="108.2" cy="57.8" r="1.3" fill="#FAA30F"/><circle cx="136.2" cy="56.8" r="1.3" fill="#FAA30F"/><circle cx="130.5" cy="54.6" r="1.3" fill="#FAA30F"/><circle cx="125.5" cy="62.9" r="1.3" fill="#FAA30F"/><circle cx="131.2" cy="61.6" r="1.3" fill="#FAA30F"/><circle cx="100.6" cy="78.2" r="1.3" fill="#FAA30F"/><circle cx="101.8" cy="77.3" r="1.3" fill="#FAA30F"/><circle cx="68.5" cy="73.4" r="1.3" fill="#FAA30F"/><circle cx="79.6" cy="77.1" r="1.3" fill="#FAA30F"/><circle cx="82.7" cy="77.3" r="1.3" fill="#FAA30F"/><circle cx="98.8" cy="73.4" r="1.3" fill="#FAA30F"/><circle cx="65.8" cy="74.2" r="1.3" fill="#FAA30F"/><circle cx="58.8" cy="106.8" r="1.3" fill="#FAA30F"/><circle cx="59.0" cy="105.1" r="1.3" fill="#FAA30F"/><circle cx="63.0" cy="108.2" r="1.3" fill="#FAA30F"/><circle cx="62.8" cy="110.0" r="1.3" fill="#FAA30F"/><circle cx="67.0" cy="109.5" r="1.3" fill="#FAA30F"/><circle cx="66.1" cy="108.4" r="1.3" fill="#FAA30F"/><circle cx="71.2" cy="108.8" r="1.3" fill="#FAA30F"/><circle cx="72.7" cy="108.5" r="1.3" fill="#FAA30F"/><circle cx="74.0" cy="106.0" r="1.3" fill="#FAA30F"/><circle cx="74.3" cy="108.1" r="1.3" fill="#FAA30F"/><circle cx="77.4" cy="106.0" r="1.3" fill="#FAA30F"/><circle cx="79.4" cy="105.3" r="1.3" fill="#FAA30F"/><circle cx="67.8" cy="124.5" r="1.3" fill="#FAA30F"/><circle cx="69.6" cy="125.1" r="1.3" fill="#FAA30F"/><circle cx="78.0" cy="125.3" r="1.3" fill="#FAA30F"/><circle cx="79.6" cy="124.3" r="1.3" fill="#FAA30F"/><circle cx="71.2" cy="127.5" r="1.3" fill="#FAA30F"/><circle cx="69.6" cy="126.2" r="1.3" fill="#FAA30F"/><circle cx="38.9" cy="124.6" r="1.3" fill="#FAA30F"/><circle cx="40.7" cy="124.8" r="1.3" fill="#FAA30F"/><circle cx="28.2" cy="130.2" r="1.3" fill="#FAA30F"/><circle cx="39.1" cy="124.7" r="1.3" fill="#FAA30F"/><circle cx="41.1" cy="124.8" r="1.3" fill="#FAA30F"/><circle cx="91.5" cy="101.5" r="1.3" fill="#FAA30F"/><circle cx="91.8" cy="99.3" r="1.3" fill="#FAA30F"/><circle cx="70.0" cy="106.0" r="1.3" fill="#FAA30F"/><circle cx="68.0" cy="106.5" r="1.3" fill="#FAA30F"/><circle cx="72.0" cy="107.5" r="1.3" fill="#FAA30F"/><circle cx="71.0" cy="108.3" r="1.3" fill="#FAA30F"/><circle cx="74.5" cy="108.5" r="1.3" fill="#FAA30F"/><circle cx="73.8" cy="109.9" r="1.3" fill="#FAA30F"/><circle cx="71.0" cy="110.0" r="1.3" fill="#FAA30F"/><circle cx="72.7" cy="109.9" r="1.3" fill="#FAA30F"/><circle cx="79.0" cy="108.0" r="1.3" fill="#FAA30F"/><circle cx="80.3" cy="108.9" r="1.3" fill="#FAA30F"/><circle cx="81.5" cy="112.5" r="1.3" fill="#FAA30F"/><circle cx="83.0" cy="112.3" r="1.3" fill="#FAA30F"/><circle cx="84.0" cy="113.5" r="1.3" fill="#FAA30F"/><circle cx="82.5" cy="113.2" r="1.3" fill="#FAA30F"/><circle cx="86.5" cy="112.0" r="1.3" fill="#FAA30F"/><circle cx="88.1" cy="112.1" r="1.3" fill="#FAA30F"/><circle cx="88.5" cy="114.5" r="1.3" fill="#FAA30F"/><circle cx="89.7" cy="113.5" r="1.3" fill="#FAA30F"/><circle cx="85.5" cy="115.5" r="1.3" fill="#FAA30F"/><circle cx="83.7" cy="115.6" r="1.3" fill="#FAA30F"/><circle cx="83.0" cy="114.8" r="1.3" fill="#FAA30F"/><circle cx="82.8" cy="116.6" r="1.3" fill="#FAA30F"/><circle cx="90.6" cy="107.4" r="1.3" fill="#FAA30F"/><circle cx="90.8" cy="105.5" r="1.3" fill="#FAA30F"/><circle cx="93.4" cy="108.0" r="1.3" fill="#FAA30F"/><circle cx="91.7" cy="106.8" r="1.3" fill="#FAA30F"/><circle cx="90.6" cy="110.5" r="1.3" fill="#FAA30F"/><circle cx="91.8" cy="108.6" r="1.3" fill="#FAA30F"/><circle cx="93.0" cy="111.5" r="1.3" fill="#FAA30F"/><circle cx="93.2" cy="110.1" r="1.3" fill="#FAA30F"/><circle cx="95.5" cy="110.8" r="1.3" fill="#FAA30F"/><circle cx="93.8" cy="110.0" r="1.3" fill="#FAA30F"/><circle cx="97.5" cy="112.9" r="1.3" fill="#FAA30F"/><circle cx="96.4" cy="112.0" r="1.3" fill="#FAA30F"/><circle cx="101.6" cy="104.6" r="1.3" fill="#FAA30F"/><circle cx="100.6" cy="105.5" r="1.3" fill="#FAA30F"/><circle cx="103.5" cy="106.0" r="1.3" fill="#FAA30F"/><circle cx="102.8" cy="104.7" r="1.3" fill="#FAA30F"/><circle cx="105.7" cy="108.0" r="1.3" fill="#FAA30F"/><circle cx="106.0" cy="109.5" r="1.3" fill="#FAA30F"/><circle cx="102.5" cy="108.0" r="1.3" fill="#FAA30F"/><circle cx="101.3" cy="107.0" r="1.3" fill="#FAA30F"/><circle cx="100.5" cy="106.5" r="1.3" fill="#FAA30F"/><circle cx="99.4" cy="104.7" r="1.3" fill="#FAA30F"/><circle cx="104.0" cy="104.0" r="1.3" fill="#FAA30F"/><circle cx="106.1" cy="103.9" r="1.3" fill="#FAA30F"/><circle cx="107.0" cy="106.2" r="1.3" fill="#FAA30F"/><circle cx="108.3" cy="105.5" r="1.3" fill="#FAA30F"/><circle cx="108.0" cy="108.5" r="1.3" fill="#FAA30F"/><circle cx="108.6" cy="107.3" r="1.3" fill="#FAA30F"/><circle cx="110.5" cy="109.5" r="1.3" fill="#FAA30F"/><circle cx="109.3" cy="108.8" r="1.3" fill="#FAA30F"/><circle cx="113.0" cy="110.5" r="1.3" fill="#FAA30F"/><circle cx="114.7" cy="111.8" r="1.3" fill="#FAA30F"/><circle cx="114.0" cy="112.5" r="1.3" fill="#FAA30F"/><circle cx="115.4" cy="113.9" r="1.3" fill="#FAA30F"/><circle cx="111.0" cy="112.9" r="1.3" fill="#FAA30F"/><circle cx="109.7" cy="112.7" r="1.3" fill="#FAA30F"/><circle cx="107.5" cy="111.0" r="1.3" fill="#FAA30F"/><circle cx="107.9" cy="109.7" r="1.3" fill="#FAA30F"/><circle cx="103.0" cy="110.5" r="1.3" fill="#FAA30F"/><circle cx="104.5" cy="109.2" r="1.3" fill="#FAA30F"/><circle cx="109.7" cy="105.5" r="1.3" fill="#FAA30F"/><circle cx="108.0" cy="105.5" r="1.3" fill="#FAA30F"/><circle cx="112.5" cy="107.0" r="1.3" fill="#FAA30F"/><circle cx="114.4" cy="107.3" r="1.3" fill="#FAA30F"/><circle cx="78.2" cy="117.7" r="1.3" fill="#FAA30F"/><circle cx="77.9" cy="119.2" r="1.3" fill="#FAA30F"/><circle cx="79.6" cy="119.7" r="1.3" fill="#FAA30F"/><circle cx="80.8" cy="118.7" r="1.3" fill="#FAA30F"/><circle cx="96.0" cy="116.3" r="1.3" fill="#FAA30F"/><circle cx="96.2" cy="114.7" r="1.3" fill="#FAA30F"/><circle cx="98.0" cy="117.5" r="1.3" fill="#FAA30F"/><circle cx="98.5" cy="118.7" r="1.3" fill="#FAA30F"/><circle cx="98.8" cy="118.4" r="1.3" fill="#FAA30F"/><circle cx="100.7" cy="117.9" r="1.3" fill="#FAA30F"/><circle cx="76.9" cy="123.8" r="1.3" fill="#FAA30F"/><circle cx="75.3" cy="122.3" r="1.3" fill="#FAA30F"/><circle cx="78.5" cy="125.5" r="1.3" fill="#FAA30F"/><circle cx="78.1" cy="126.9" r="1.3" fill="#FAA30F"/><circle cx="80.5" cy="127.5" r="1.3" fill="#FAA30F"/><circle cx="80.8" cy="128.9" r="1.3" fill="#FAA30F"/><circle cx="78.0" cy="128.0" r="1.3" fill="#FAA30F"/><circle cx="79.7" cy="128.3" r="1.3" fill="#FAA30F"/><circle cx="98.2" cy="127.3" r="1.3" fill="#FAA30F"/><circle cx="100.3" cy="126.9" r="1.3" fill="#FAA30F"/><circle cx="99.5" cy="130.0" r="1.3" fill="#FAA30F"/><circle cx="101.1" cy="129.2" r="1.3" fill="#FAA30F"/><circle cx="90.6" cy="125.9" r="1.3" fill="#FAA30F"/><circle cx="92.1" cy="126.4" r="1.3" fill="#FAA30F"/><circle cx="103.5" cy="131.5" r="1.3" fill="#FAA30F"/><circle cx="102.1" cy="130.2" r="1.3" fill="#FAA30F"/><circle cx="148.4" cy="117.2" r="1.3" fill="#FAA30F"/><circle cx="153.2" cy="119.2" r="1.3" fill="#FAA30F"/><circle cx="147.5" cy="124.7" r="1.3" fill="#FAA30F"/><circle cx="70.5" cy="156.0" r="1.3" fill="#FDD708"/><circle cx="72.5" cy="157.5" r="1.3" fill="#FDD708"/><circle cx="74.0" cy="155.8" r="1.3" fill="#FDD708"/><circle cx="65.0" cy="165.4" r="1.3" fill="#FDD708"/><circle cx="25.0" cy="147.5" r="1.3" fill="#FAA30F"/><circle cx="29.0" cy="146.2" r="1.3" fill="#FAA30F"/><circle cx="24.4" cy="152.4" r="1.3" fill="#FAA30F"/><circle cx="35.4" cy="153.7" r="1.3" fill="#FAA30F"/><circle cx="41.6" cy="162.7" r="1.3" fill="#FAA30F"/><circle cx="51.0" cy="166.8" r="1.3" fill="#FAA30F"/><circle cx="26.0" cy="147.4" r="1.3" fill="#FAA30F"/><circle cx="173.2" cy="131.1" r="1.3" fill="#FAA30F"/><circle cx="177.0" cy="129.6" r="1.3" fill="#FAA30F"/><circle cx="175.5" cy="121.3" r="1.3" fill="#FAA30F"/><circle cx="177.4" cy="117.7" r="1.3" fill="#FAA30F"/><circle cx="181.0" cy="123.9" r="1.3" fill="#FAA30F"/><circle cx="183.9" cy="127.5" r="1.3" fill="#FAA30F"/><circle cx="175.4" cy="118.2" r="1.3" fill="#FAA30F"/><circle cx="179.7" cy="131.2" r="1.3" fill="#FAA30F"/><circle cx="185.6" cy="129.0" r="1.3" fill="#FAA30F"/><circle cx="184.0" cy="125.3" r="1.3" fill="#FAA30F"/><circle cx="184.6" cy="131.3" r="1.3" fill="#FAA30F"/><circle cx="168.6" cy="122.6" r="1.3" fill="#FAA30F"/><circle cx="170.5" cy="124.2" r="1.3" fill="#FAA30F"/><circle cx="176.2" cy="118.8" r="1.3" fill="#FAA30F"/><circle cx="173.9" cy="131.5" r="1.3" fill="#FAA30F"/><circle cx="182.2" cy="132.2" r="1.3" fill="#FAA30F"/><circle cx="177.8" cy="123.8" r="1.3" fill="#FAA30F"/><circle cx="166.8" cy="124.7" r="1.3" fill="#FAA30F"/><circle cx="165.1" cy="124.1" r="1.3" fill="#FAA30F"/><circle cx="178.9" cy="132.5" r="1.3" fill="#FAA30F"/><circle cx="177.4" cy="119.0" r="1.3" fill="#FAA30F"/><circle cx="178.2" cy="128.3" r="1.3" fill="#FAA30F"/><circle cx="168.2" cy="124.2" r="1.3" fill="#FAA30F"/><circle cx="178.4" cy="120.9" r="1.3" fill="#FAA30F"/><circle cx="178.0" cy="120.7" r="1.3" fill="#FAA30F"/><circle cx="179.0" cy="133.3" r="1.3" fill="#FAA30F"/><circle cx="178.8" cy="121.5" r="1.3" fill="#FAA30F"/><circle cx="185.6" cy="128.9" r="1.3" fill="#FAA30F"/><circle cx="187.8" cy="127.1" r="1.3" fill="#FAA30F"/><circle cx="169.7" cy="128.3" r="1.3" fill="#FAA30F"/><circle cx="187.3" cy="127.8" r="1.3" fill="#FAA30F"/><circle cx="178.1" cy="122.2" r="1.3" fill="#FAA30F"/><circle cx="169.4" cy="128.2" r="1.3" fill="#FAA30F"/><circle cx="185.5" cy="129.7" r="1.3" fill="#FAA30F"/><circle cx="172.5" cy="124.2" r="1.3" fill="#FAA30F"/><circle cx="185.0" cy="126.4" r="1.3" fill="#FAA30F"/><circle cx="176.5" cy="127.5" r="1.3" fill="#FAA30F"/><circle cx="177.4" cy="128.9" r="1.3" fill="#FAA30F"/><circle cx="177.5" cy="126.5" r="1.3" fill="#FAA30F"/><circle cx="177.9" cy="125.8" r="1.3" fill="#FAA30F"/><circle cx="174.8" cy="119.4" r="1.3" fill="#FAA30F"/><circle cx="168.9" cy="121.3" r="1.3" fill="#FAA30F"/><circle cx="178.6" cy="127.9" r="1.3" fill="#FAA30F"/><circle cx="170.7" cy="124.8" r="1.3" fill="#FAA30F"/><circle cx="182.1" cy="127.1" r="1.3" fill="#FAA30F"/><circle cx="177.3" cy="130.6" r="1.3" fill="#FAA30F"/><circle cx="170.5" cy="123.1" r="1.3" fill="#FAA30F"/><circle cx="174.2" cy="130.0" r="1.3" fill="#FAA30F"/><circle cx="179.2" cy="123.3" r="1.3" fill="#FAA30F"/><circle cx="178.4" cy="129.7" r="1.3" fill="#FAA30F"/><circle cx="179.0" cy="130.9" r="1.3" fill="#FAA30F"/><circle cx="174.3" cy="130.1" r="1.3" fill="#FAA30F"/><circle cx="178.7" cy="128.0" r="1.3" fill="#FAA30F"/><circle cx="177.3" cy="128.7" r="1.3" fill="#FAA30F"/><circle cx="180.5" cy="129.4" r="1.3" fill="#FAA30F"/><circle cx="175.5" cy="119.2" r="1.3" fill="#FAA30F"/><circle cx="176.3" cy="122.8" r="1.3" fill="#FAA30F"/><circle cx="167.4" cy="125.8" r="1.3" fill="#FAA30F"/><circle cx="174.7" cy="128.1" r="1.3" fill="#FAA30F"/><circle cx="175.0" cy="119.1" r="1.3" fill="#FAA30F"/><circle cx="172.2" cy="124.4" r="1.3" fill="#FAA30F"/><circle cx="177.0" cy="125.0" r="1.3" fill="#FAA30F"/><circle cx="177.4" cy="131.1" r="1.3" fill="#FAA30F"/><circle cx="178.6" cy="122.1" r="1.3" fill="#FAA30F"/><circle cx="170.1" cy="126.4" r="1.3" fill="#FAA30F"/><circle cx="179.8" cy="125.3" r="1.3" fill="#FAA30F"/><circle cx="169.0" cy="124.3" r="1.3" fill="#FAA30F"/><circle cx="170.0" cy="127.8" r="1.3" fill="#FAA30F"/><circle cx="175.3" cy="131.1" r="1.3" fill="#FAA30F"/><circle cx="171.7" cy="120.8" r="1.3" fill="#FAA30F"/><circle cx="181.5" cy="124.3" r="1.3" fill="#FAA30F"/><circle cx="180.8" cy="120.9" r="1.3" fill="#FAA30F"/><circle cx="167.6" cy="125.4" r="1.3" fill="#FAA30F"/><circle cx="179.9" cy="132.2" r="1.3" fill="#FAA30F"/><circle cx="178.4" cy="133.3" r="1.3" fill="#FAA30F"/><circle cx="180.5" cy="120.6" r="1.3" fill="#FAA30F"/><circle cx="175.6" cy="119.8" r="1.3" fill="#FAA30F"/><circle cx="175.8" cy="131.3" r="1.3" fill="#FAA30F"/><circle cx="170.1" cy="127.2" r="1.3" fill="#FAA30F"/><circle cx="167.9" cy="125.6" r="1.3" fill="#FAA30F"/><circle cx="177.1" cy="119.7" r="1.3" fill="#FAA30F"/><circle cx="174.6" cy="118.8" r="1.3" fill="#FAA30F"/><circle cx="179.2" cy="124.5" r="1.3" fill="#FAA30F"/><circle cx="177.0" cy="129.4" r="1.3" fill="#FAA30F"/><circle cx="184.8" cy="130.9" r="1.3" fill="#FAA30F"/><circle cx="176.2" cy="119.5" r="1.3" fill="#FAA30F"/><circle cx="177.6" cy="121.4" r="1.3" fill="#FAA30F"/><circle cx="174.8" cy="130.6" r="1.3" fill="#FAA30F"/><circle cx="175.8" cy="123.6" r="1.3" fill="#FAA30F"/><circle cx="171.2" cy="126.0" r="1.3" fill="#FAA30F"/><circle cx="172.3" cy="123.4" r="1.3" fill="#FAA30F"/><circle cx="169.6" cy="123.7" r="1.3" fill="#FAA30F"/><circle cx="169.4" cy="127.4" r="1.3" fill="#FAA30F"/><circle cx="174.2" cy="129.0" r="1.3" fill="#FAA30F"/><circle cx="174.1" cy="130.9" r="1.3" fill="#FAA30F"/><circle cx="177.3" cy="118.0" r="1.3" fill="#FAA30F"/><circle cx="175.8" cy="120.8" r="1.3" fill="#FAA30F"/><circle cx="175.5" cy="130.0" r="1.3" fill="#FAA30F"/><circle cx="182.1" cy="128.6" r="1.3" fill="#FAA30F"/><circle cx="183.2" cy="130.6" r="1.3" fill="#FAA30F"/><circle cx="169.1" cy="125.7" r="1.3" fill="#FAA30F"/><circle cx="183.8" cy="127.5" r="1.3" fill="#FAA30F"/><circle cx="176.7" cy="119.5" r="1.3" fill="#FAA30F"/><circle cx="176.6" cy="127.3" r="1.3" fill="#FAA30F"/><circle cx="175.0" cy="128.1" r="1.3" fill="#FAA30F"/><circle cx="177.7" cy="128.3" r="1.3" fill="#FAA30F"/><circle cx="173.7" cy="132.0" r="1.3" fill="#FAA30F"/><circle cx="176.8" cy="132.7" r="1.3" fill="#FAA30F"/><circle cx="183.1" cy="129.1" r="1.3" fill="#FAA30F"/><circle cx="177.4" cy="120.7" r="1.3" fill="#FAA30F"/><circle cx="169.5" cy="127.6" r="1.3" fill="#FAA30F"/><circle cx="177.3" cy="127.5" r="1.3" fill="#FAA30F"/><circle cx="174.2" cy="120.5" r="1.3" fill="#FAA30F"/><circle cx="170.9" cy="129.2" r="1.3" fill="#FAA30F"/><circle cx="171.2" cy="124.5" r="1.3" fill="#FAA30F"/><circle cx="36.7" cy="91.0" r="1.3" fill="#F52C10"/><circle cx="38.3" cy="90.4" r="1.3" fill="#F52C10"/><circle cx="38.2" cy="88.5" r="1.3" fill="#F52C10"/><circle cx="40.0" cy="87.5" r="1.3" fill="#F52C10"/><circle cx="40.1" cy="89.3" r="1.3" fill="#F52C10"/><circle cx="41.6" cy="86.5" r="1.3" fill="#F52C10"/><circle cx="41.8" cy="87.8" r="1.3" fill="#F52C10"/><circle cx="42.2" cy="90.8" r="1.3" fill="#F52C10"/><circle cx="40.8" cy="91.7" r="1.3" fill="#F52C10"/><circle cx="39.5" cy="91.5" r="1.3" fill="#F52C10"/><circle cx="38.1" cy="90.9" r="1.3" fill="#F52C10"/><circle cx="37.5" cy="90.0" r="1.3" fill="#F52C10"/><circle cx="36.8" cy="88.6" r="1.3" fill="#F52C10"/><circle cx="36.5" cy="89.0" r="1.3" fill="#F52C10"/><circle cx="35.4" cy="90.0" r="1.3" fill="#F52C10"/><circle cx="53.6" cy="91.4" r="1.3" fill="#F52C10"/><circle cx="55.2" cy="91.7" r="1.3" fill="#F52C10"/><circle cx="45.0" cy="93.0" r="1.3" fill="#F52C10"/><circle cx="46.1" cy="91.9" r="1.3" fill="#F52C10"/><circle cx="47.0" cy="93.5" r="1.3" fill="#F52C10"/><circle cx="45.7" cy="93.3" r="1.3" fill="#F52C10"/><circle cx="48.7" cy="96.8" r="1.3" fill="#F52C10"/><circle cx="49.1" cy="95.2" r="1.3" fill="#F52C10"/><circle cx="52.0" cy="96.8" r="1.3" fill="#F52C10"/><circle cx="51.0" cy="98.3" r="1.3" fill="#F52C10"/><circle cx="51.5" cy="98.4" r="1.3" fill="#F52C10"/><circle cx="50.0" cy="98.0" r="1.3" fill="#F52C10"/><circle cx="63.0" cy="93.5" r="1.3" fill="#F52C10"/><circle cx="65.0" cy="95.0" r="1.3" fill="#F52C10"/><circle cx="65.0" cy="93.4" r="1.3" fill="#F52C10"/><circle cx="67.0" cy="94.5" r="1.3" fill="#F52C10"/><circle cx="68.5" cy="96.0" r="1.3" fill="#F52C10"/><circle cx="69.5" cy="95.1" r="1.3" fill="#F52C10"/><circle cx="70.5" cy="98.0" r="1.3" fill="#F52C10"/><circle cx="70.3" cy="96.1" r="1.3" fill="#F52C10"/><circle cx="66.0" cy="97.0" r="1.3" fill="#F52C10"/><circle cx="74.5" cy="23.6" r="1.3" fill="#228B22"/><circle cx="87.0" cy="31.6" r="1.3" fill="#228B22"/><circle cx="128.2" cy="24.7" r="1.3" fill="#228B22"/><circle cx="133.7" cy="28.8" r="1.3" fill="#228B22"/><circle cx="147.8" cy="26.4" r="1.3" fill="#228B22"/><circle cx="151.9" cy="32.2" r="1.3" fill="#228B22"/><circle cx="156.7" cy="31.6" r="1.3" fill="#228B22"/><circle cx="67.0" cy="119.1" r="1.3" fill="#F52C10"/><circle cx="67.3" cy="120.7" r="1.3" fill="#F52C10"/><circle cx="74.0" cy="150.3" r="1.3" fill="#F52C10"/><circle cx="37.3" cy="82.1" r="1.3" fill="#1040F8"/><circle cx="48.2" cy="89.2" r="1.3" fill="#1040F8"/><circle cx="51.4" cy="88.6" r="1.3" fill="#1040F8"/><circle cx="47.6" cy="94.6" r="1.3" fill="#1040F8"/><circle cx="61.8" cy="93.0" r="1.3" fill="#1040F8"/><circle cx="65.6" cy="92.4" r="1.3" fill="#1040F8"/><circle cx="48.9" cy="27.2" r="1.3" fill="#1040F8"/><circle cx="49.2" cy="29.4" r="1.3" fill="#1040F8"/><circle cx="48.4" cy="30.4" r="1.3" fill="#1040F8"/><circle cx="57.1" cy="32.2" r="1.3" fill="#1040F8"/><circle cx="49.0" cy="44.8" r="1.3" fill="#1040F8"/><circle cx="49.6" cy="52.2" r="1.3" fill="#1040F8"/><circle cx="41.9" cy="72.0" r="1.3" fill="#1040F8"/><circle cx="77.8" cy="5.8" r="1.3" fill="#1040F8"/><circle cx="83.7" cy="4.4" r="1.3" fill="#1040F8"/><circle cx="166.8" cy="123.0" r="1.3" fill="#5CC4B1"/><circle cx="168.6" cy="123.6" r="1.3" fill="#5CC4B1"/><circle cx="170.2" cy="124.3" r="1.3" fill="#5CC4B1"/><circle cx="172.3" cy="128.0" r="1.3" fill="#F52C10"/><circle cx="180.5" cy="121.8" r="1.3" fill="#9B1A48"/><circle cx="181.4" cy="126.2" r="1.3" fill="#9B1A48"/><circle cx="186.3" cy="127.6" r="1.3" fill="#9B1A48"/><circle cx="183.8" cy="130.2" r="1.3" fill="#9B1A48"/></g>
<rect x="226.78" y="117.50" width="11.33" height="26.70" fill="#FAA30F"/>
<rect x="226.78" y="64.74" width="11.33" height="52.76" fill="#9B1A48"/>
<rect x="226.78" y="14.57" width="11.33" height="50.17" fill="#5CC4B1"/>
<rect x="239.38" y="132.78" width="11.33" height="11.42" fill="#FAA30F"/>
<rect x="239.38" y="132.06" width="11.33" height="0.72" fill="#9B1A48"/>
<rect x="239.38" y="72.35" width="11.33" height="59.71" fill="#5CC4B1"/>
<rect x="251.97" y="143.67" width="11.33" height="0.53" fill="#FAA30F"/>
<rect x="251.97" y="137.25" width="11.33" height="6.42" fill="#9B1A48"/>
<rect x="251.97" y="134.91" width="11.33" height="2.35" fill="#F52C10"/>
<rect x="251.97" y="133.95" width="11.33" height="0.96" fill="#5CC4B1"/>
<rect x="251.97" y="120.25" width="11.33" height="13.70" fill="#BEBEBE"/>
<rect x="264.55" y="143.29" width="11.33" height="0.91" fill="#FAA30F"/>
<rect x="264.55" y="142.03" width="11.33" height="1.26" fill="#9B1A48"/>
<rect x="264.55" y="123.93" width="11.33" height="18.10" fill="#5CC4B1"/>
<rect x="277.14" y="141.88" width="11.33" height="2.32" fill="#1040F8"/>
<rect x="277.14" y="140.93" width="11.33" height="0.96" fill="#FAA30F"/>
<rect x="277.14" y="139.52" width="11.33" height="1.41" fill="#9B1A48"/>
<rect x="277.14" y="139.13" width="11.33" height="0.39" fill="#F52C10"/>
<rect x="277.14" y="129.81" width="11.33" height="9.32" fill="#5CC4B1"/>
<rect x="277.14" y="128.54" width="11.33" height="1.27" fill="#BEBEBE"/>
<rect x="289.73" y="141.79" width="11.33" height="2.41" fill="#1040F8"/>
<rect x="289.73" y="140.12" width="11.33" height="1.67" fill="#228B22"/>
<rect x="289.73" y="139.97" width="11.33" height="0.15" fill="#FDD708"/>
<rect x="289.73" y="139.45" width="11.33" height="0.52" fill="#FAA30F"/>
<rect x="289.73" y="138.73" width="11.33" height="0.73" fill="#9B1A48"/>
<rect x="289.73" y="134.24" width="11.33" height="4.49" fill="#F52C10"/>
<rect x="289.73" y="131.76" width="11.33" height="2.48" fill="#5CC4B1"/>
<rect x="289.73" y="130.51" width="11.33" height="1.25" fill="#BEBEBE"/>
<rect x="302.32" y="143.92" width="11.33" height="0.28" fill="#1040F8"/>
<rect x="302.32" y="143.16" width="11.33" height="0.76" fill="#FAA30F"/>
<rect x="302.32" y="131.43" width="11.33" height="11.73" fill="#5CC4B1"/>
<rect x="302.32" y="131.04" width="11.33" height="0.39" fill="#BEBEBE"/>
<rect x="314.91" y="141.39" width="11.33" height="2.81" fill="#FAA30F"/>
<rect x="314.91" y="141.26" width="11.33" height="0.14" fill="#9B1A48"/>
<rect x="314.91" y="135.12" width="11.33" height="6.14" fill="#5CC4B1"/>
<rect x="327.50" y="144.06" width="11.33" height="0.14" fill="#FDD708"/>
<rect x="327.50" y="143.71" width="11.33" height="0.36" fill="#FAA30F"/>
<rect x="327.50" y="138.00" width="11.33" height="5.70" fill="#5CC4B1"/>
<rect x="327.50" y="137.62" width="11.33" height="0.38" fill="#BEBEBE"/>
<rect x="340.09" y="142.86" width="11.33" height="1.34" fill="#9B1A48"/>
<rect x="340.09" y="138.41" width="11.33" height="4.45" fill="#BEBEBE"/>
<rect x="352.69" y="143.22" width="11.33" height="0.98" fill="#FDD708"/>
<rect x="352.69" y="142.67" width="11.33" height="0.56" fill="#FAA30F"/>
<rect x="352.69" y="142.54" width="11.33" height="0.13" fill="#9B1A48"/>
<rect x="352.69" y="141.70" width="11.33" height="0.84" fill="#5CC4B1"/>
<line x1="224.5" y1="8.2" x2="224.5" y2="150.5" stroke="#333" stroke-width="1"/>
<line x1="224.5" y1="150.5" x2="366" y2="150.5" stroke="#333" stroke-width="1"/>
<line x1="222.5" y1="144.20" x2="224.5" y2="144.20" stroke="#333" stroke-width="0.7"/>
<text x="221.3" y="146.50" font-size="6.4" fill="#333" text-anchor="end" stroke="#333" stroke-width="0.16">0</text>
<line x1="222.5" y1="111.30" x2="224.5" y2="111.30" stroke="#333" stroke-width="0.7"/>
<text x="221.3" y="113.60" font-size="6.4" fill="#333" text-anchor="end" stroke="#333" stroke-width="0.16">250</text>
<line x1="222.5" y1="78.40" x2="224.5" y2="78.40" stroke="#333" stroke-width="0.7"/>
<text x="221.3" y="80.70" font-size="6.4" fill="#333" text-anchor="end" stroke="#333" stroke-width="0.16">500</text>
<line x1="222.5" y1="45.50" x2="224.5" y2="45.50" stroke="#333" stroke-width="0.7"/>
<text x="221.3" y="47.80" font-size="6.4" fill="#333" text-anchor="end" stroke="#333" stroke-width="0.16">750</text>
<line x1="222.5" y1="12.60" x2="224.5" y2="12.60" stroke="#333" stroke-width="0.7"/>
<text x="221.3" y="14.90" font-size="6.4" fill="#333" text-anchor="end" stroke="#333" stroke-width="0.16">1000</text>
<line x1="232.45" y1="150.5" x2="232.45" y2="152.5" stroke="#333" stroke-width="0.7"/>
<text transform="translate(237.15,153.80) rotate(-90)" font-size="6.5" fill="#333" text-anchor="end" stroke="#333" stroke-width="0.16">NDMM02</text>
<line x1="245.04" y1="150.5" x2="245.04" y2="152.5" stroke="#333" stroke-width="0.7"/>
<text transform="translate(249.74,153.80) rotate(-90)" font-size="6.5" fill="#333" text-anchor="end" stroke="#333" stroke-width="0.16">MGUS01</text>
<line x1="257.63" y1="150.5" x2="257.63" y2="152.5" stroke="#333" stroke-width="0.7"/>
<text transform="translate(262.33,153.80) rotate(-90)" font-size="6.5" fill="#333" text-anchor="end" stroke="#333" stroke-width="0.16">NDMM01</text>
<line x1="270.22" y1="150.5" x2="270.22" y2="152.5" stroke="#333" stroke-width="0.7"/>
<text transform="translate(274.92,153.80) rotate(-90)" font-size="6.5" fill="#333" text-anchor="end" stroke="#333" stroke-width="0.16">SMM01</text>
<line x1="282.81" y1="150.5" x2="282.81" y2="152.5" stroke="#333" stroke-width="0.7"/>
<text transform="translate(287.51,153.80) rotate(-90)" font-size="6.5" fill="#333" text-anchor="end" stroke="#333" stroke-width="0.16">SMM02</text>
<line x1="295.40" y1="150.5" x2="295.40" y2="152.5" stroke="#333" stroke-width="0.7"/>
<text transform="translate(300.10,153.80) rotate(-90)" font-size="6.5" fill="#333" text-anchor="end" stroke="#333" stroke-width="0.16">RRMM</text>
<line x1="307.99" y1="150.5" x2="307.99" y2="152.5" stroke="#333" stroke-width="0.7"/>
<text transform="translate(312.69,153.80) rotate(-90)" font-size="6.5" fill="#333" text-anchor="end" stroke="#333" stroke-width="0.16">NBD1</text>
<line x1="320.58" y1="150.5" x2="320.58" y2="152.5" stroke="#333" stroke-width="0.7"/>
<text transform="translate(325.28,153.80) rotate(-90)" font-size="6.5" fill="#333" text-anchor="end" stroke="#333" stroke-width="0.16">LPL1</text>
<line x1="333.17" y1="150.5" x2="333.17" y2="152.5" stroke="#333" stroke-width="0.7"/>
<text transform="translate(337.87,153.80) rotate(-90)" font-size="6.5" fill="#333" text-anchor="end" stroke="#333" stroke-width="0.16">NBD2</text>
<line x1="345.76" y1="150.5" x2="345.76" y2="152.5" stroke="#333" stroke-width="0.7"/>
<text transform="translate(350.46,153.80) rotate(-90)" font-size="6.5" fill="#333" text-anchor="end" stroke="#333" stroke-width="0.16">MGUS02</text>
<line x1="358.35" y1="150.5" x2="358.35" y2="152.5" stroke="#333" stroke-width="0.7"/>
<text transform="translate(363.05,153.80) rotate(-90)" font-size="6.5" fill="#333" text-anchor="end" stroke="#333" stroke-width="0.16">NDMM03</text>
<text transform="translate(205.4,78.3) rotate(-90)" font-size="9.8" fill="#000" text-anchor="middle" stroke="#000" stroke-width="0.16">Rare cell count (cells/mL)</text>
<rect x="275.1" y="13.20" width="8.9" height="8.1" fill="#F52C10"/>
<text x="289.6" y="19.40" font-size="6.2" fill="#000" stroke="#000" stroke-width="0.16">CD138+</text>
<rect x="275.1" y="23.17" width="8.9" height="8.1" fill="#9B1A48"/>
<text x="289.6" y="29.37" font-size="6.2" fill="#000" stroke="#000" stroke-width="0.16">CD138+BCMA+</text>
<rect x="275.1" y="33.14" width="8.9" height="8.1" fill="#FAA30F"/>
<text x="289.6" y="39.34" font-size="6.2" fill="#000" stroke="#000" stroke-width="0.16">CD138+BCMA+CD45+</text>
<rect x="275.1" y="43.11" width="8.9" height="8.1" fill="#FDD708"/>
<text x="289.6" y="49.31" font-size="6.2" fill="#000" stroke="#000" stroke-width="0.16">CD138+CD45+</text>
<rect x="275.1" y="53.08" width="8.9" height="8.1" fill="#BEBEBE"/>
<text x="289.6" y="59.28" font-size="6.2" fill="#000" stroke="#000" stroke-width="0.16">BCMA+</text>
<rect x="275.1" y="63.05" width="8.9" height="8.1" fill="#5CC4B1"/>
<text x="289.6" y="69.25" font-size="6.2" fill="#000" stroke="#000" stroke-width="0.16">BCMA+CD45+</text>
<rect x="275.1" y="73.02" width="8.9" height="8.1" fill="#228B22"/>
<text x="289.6" y="79.22" font-size="6.2" fill="#000" stroke="#000" stroke-width="0.16">CD45+</text>
<rect x="275.1" y="82.99" width="8.9" height="8.1" fill="#1040F8"/>
<text x="289.6" y="89.19" font-size="6.2" fill="#000" stroke="#000" stroke-width="0.16">DAPI+</text>
<text x="186.2" y="14.2" font-size="12.7" font-weight="bold" fill="#000" stroke="#000" stroke-width="0.3">B</text>
<rect x="402.10" y="116.89" width="11.90" height="27.81" fill="#FAA30F"/>
<rect x="402.10" y="61.94" width="11.90" height="54.94" fill="#9B1A48"/>
<rect x="402.10" y="9.70" width="11.90" height="52.25" fill="#5CC4B1"/>
<rect x="415.41" y="123.23" width="11.90" height="21.47" fill="#FAA30F"/>
<rect x="415.41" y="121.88" width="11.90" height="1.35" fill="#9B1A48"/>
<rect x="415.41" y="9.70" width="11.90" height="112.19" fill="#5CC4B1"/>
<rect x="428.72" y="141.73" width="11.90" height="2.97" fill="#FAA30F"/>
<rect x="428.72" y="105.55" width="11.90" height="36.18" fill="#9B1A48"/>
<rect x="428.72" y="92.32" width="11.90" height="13.23" fill="#F52C10"/>
<rect x="428.72" y="86.92" width="11.90" height="5.40" fill="#5CC4B1"/>
<rect x="428.72" y="9.70" width="11.90" height="77.22" fill="#BEBEBE"/>
<rect x="442.03" y="138.62" width="11.90" height="6.07" fill="#FAA30F"/>
<rect x="442.03" y="130.25" width="11.90" height="8.37" fill="#9B1A48"/>
<rect x="442.03" y="9.70" width="11.90" height="120.56" fill="#5CC4B1"/>
<rect x="455.34" y="124.72" width="11.90" height="19.98" fill="#1040F8"/>
<rect x="455.34" y="116.48" width="11.90" height="8.23" fill="#FAA30F"/>
<rect x="455.34" y="104.33" width="11.90" height="12.15" fill="#9B1A48"/>
<rect x="455.34" y="100.96" width="11.90" height="3.38" fill="#F52C10"/>
<rect x="455.34" y="20.63" width="11.90" height="80.33" fill="#5CC4B1"/>
<rect x="455.34" y="9.70" width="11.90" height="10.93" fill="#BEBEBE"/>
<rect x="468.65" y="120.94" width="11.90" height="23.76" fill="#1040F8"/>
<rect x="468.65" y="104.47" width="11.90" height="16.47" fill="#228B22"/>
<rect x="468.65" y="102.98" width="11.90" height="1.49" fill="#FDD708"/>
<rect x="468.65" y="97.85" width="11.90" height="5.13" fill="#FAA30F"/>
<rect x="468.65" y="90.70" width="11.90" height="7.16" fill="#9B1A48"/>
<rect x="468.65" y="46.42" width="11.90" height="44.28" fill="#F52C10"/>
<rect x="468.65" y="21.98" width="11.90" height="24.44" fill="#5CC4B1"/>
<rect x="468.65" y="9.70" width="11.90" height="12.28" fill="#BEBEBE"/>
<rect x="481.96" y="141.86" width="11.90" height="2.84" fill="#1040F8"/>
<rect x="481.96" y="134.03" width="11.90" height="7.83" fill="#FAA30F"/>
<rect x="481.96" y="13.75" width="11.90" height="120.28" fill="#5CC4B1"/>
<rect x="481.96" y="9.70" width="11.90" height="4.05" fill="#BEBEBE"/>
<rect x="495.27" y="102.98" width="11.90" height="41.72" fill="#FAA30F"/>
<rect x="495.27" y="100.96" width="11.90" height="2.03" fill="#9B1A48"/>
<rect x="495.27" y="9.70" width="11.90" height="91.26" fill="#5CC4B1"/>
<rect x="508.58" y="141.86" width="11.90" height="2.84" fill="#FDD708"/>
<rect x="508.58" y="134.57" width="11.90" height="7.29" fill="#FAA30F"/>
<rect x="508.58" y="17.53" width="11.90" height="117.04" fill="#5CC4B1"/>
<rect x="508.58" y="9.70" width="11.90" height="7.83" fill="#BEBEBE"/>
<rect x="521.89" y="113.38" width="11.90" height="31.32" fill="#9B1A48"/>
<rect x="521.89" y="9.70" width="11.90" height="103.68" fill="#BEBEBE"/>
<rect x="535.20" y="92.05" width="11.90" height="52.65" fill="#FDD708"/>
<rect x="535.20" y="61.94" width="11.90" height="30.10" fill="#FAA30F"/>
<rect x="535.20" y="55.06" width="11.90" height="6.89" fill="#9B1A48"/>
<rect x="535.20" y="9.70" width="11.90" height="45.36" fill="#5CC4B1"/>
<line x1="400.5" y1="2.9" x2="400.5" y2="151" stroke="#555" stroke-width="1"/>
<line x1="400.5" y1="151" x2="548.8" y2="151" stroke="#555" stroke-width="1"/>
<line x1="398.5" y1="144.70" x2="400.5" y2="144.70" stroke="#333" stroke-width="0.7"/>
<text x="397.3" y="147.08" font-size="6.6" fill="#333" text-anchor="end" stroke="#333" stroke-width="0.16">0.00</text>
<line x1="398.5" y1="110.95" x2="400.5" y2="110.95" stroke="#333" stroke-width="0.7"/>
<text x="397.3" y="113.33" font-size="6.6" fill="#333" text-anchor="end" stroke="#333" stroke-width="0.16">0.25</text>
<line x1="398.5" y1="77.20" x2="400.5" y2="77.20" stroke="#333" stroke-width="0.7"/>
<text x="397.3" y="79.58" font-size="6.6" fill="#333" text-anchor="end" stroke="#333" stroke-width="0.16">0.50</text>
<line x1="398.5" y1="43.45" x2="400.5" y2="43.45" stroke="#333" stroke-width="0.7"/>
<text x="397.3" y="45.83" font-size="6.6" fill="#333" text-anchor="end" stroke="#333" stroke-width="0.16">0.75</text>
<line x1="398.5" y1="9.70" x2="400.5" y2="9.70" stroke="#333" stroke-width="0.7"/>
<text x="397.3" y="12.08" font-size="6.6" fill="#333" text-anchor="end" stroke="#333" stroke-width="0.16">1.00</text>
<line x1="408.05" y1="151" x2="408.05" y2="153" stroke="#333" stroke-width="0.7"/>
<text transform="translate(413.35,154.30) rotate(-90)" font-size="6.85" fill="#333" text-anchor="end" stroke="#333" stroke-width="0.16">NDMM02</text>
<line x1="421.36" y1="151" x2="421.36" y2="153" stroke="#333" stroke-width="0.7"/>
<text transform="translate(426.66,154.30) rotate(-90)" font-size="6.85" fill="#333" text-anchor="end" stroke="#333" stroke-width="0.16">MGUS01</text>
<line x1="434.67" y1="151" x2="434.67" y2="153" stroke="#333" stroke-width="0.7"/>
<text transform="translate(439.97,154.30) rotate(-90)" font-size="6.85" fill="#333" text-anchor="end" stroke="#333" stroke-width="0.16">NDMM01</text>
<line x1="447.98" y1="151" x2="447.98" y2="153" stroke="#333" stroke-width="0.7"/>
<text transform="translate(453.28,154.30) rotate(-90)" font-size="6.85" fill="#333" text-anchor="end" stroke="#333" stroke-width="0.16">SMM01</text>
<line x1="461.29" y1="151" x2="461.29" y2="153" stroke="#333" stroke-width="0.7"/>
<text transform="translate(466.59,154.30) rotate(-90)" font-size="6.85" fill="#333" text-anchor="end" stroke="#333" stroke-width="0.16">SMM02</text>
<line x1="474.60" y1="151" x2="474.60" y2="153" stroke="#333" stroke-width="0.7"/>
<text transform="translate(479.90,154.30) rotate(-90)" font-size="6.85" fill="#333" text-anchor="end" stroke="#333" stroke-width="0.16">RRMM</text>
<line x1="487.91" y1="151" x2="487.91" y2="153" stroke="#333" stroke-width="0.7"/>
<text transform="translate(493.21,154.30) rotate(-90)" font-size="6.85" fill="#333" text-anchor="end" stroke="#333" stroke-width="0.16">NBD1</text>
<line x1="501.22" y1="151" x2="501.22" y2="153" stroke="#333" stroke-width="0.7"/>
<text transform="translate(506.52,154.30) rotate(-90)" font-size="6.85" fill="#333" text-anchor="end" stroke="#333" stroke-width="0.16">LPL1</text>
<line x1="514.53" y1="151" x2="514.53" y2="153" stroke="#333" stroke-width="0.7"/>
<text transform="translate(519.83,154.30) rotate(-90)" font-size="6.85" fill="#333" text-anchor="end" stroke="#333" stroke-width="0.16">NBD2</text>
<line x1="527.84" y1="151" x2="527.84" y2="153" stroke="#333" stroke-width="0.7"/>
<text transform="translate(533.14,154.30) rotate(-90)" font-size="6.85" fill="#333" text-anchor="end" stroke="#333" stroke-width="0.16">MGUS02</text>
<line x1="541.15" y1="151" x2="541.15" y2="153" stroke="#333" stroke-width="0.7"/>
<text transform="translate(546.45,154.30) rotate(-90)" font-size="6.85" fill="#333" text-anchor="end" stroke="#333" stroke-width="0.16">NDMM03</text>
<text transform="translate(380.9,86.1) rotate(-90)" font-size="10.2" fill="#000" text-anchor="middle" stroke="#000" stroke-width="0.16">Proportion of cells</text>
<text x="367.0" y="16.9" font-size="12.7" font-weight="bold" fill="#000" stroke="#000" stroke-width="0.3">C</text>
<line x1="57.3" y1="282.50" x2="204.8" y2="282.50" stroke="#EBEBEB" stroke-width="0.9"/>
<line x1="57.3" y1="269.70" x2="204.8" y2="269.70" stroke="#EBEBEB" stroke-width="0.5"/>
<line x1="57.3" y1="256.90" x2="204.8" y2="256.90" stroke="#EBEBEB" stroke-width="0.9"/>
<line x1="57.3" y1="244.10" x2="204.8" y2="244.10" stroke="#EBEBEB" stroke-width="0.5"/>
<line x1="57.3" y1="231.30" x2="204.8" y2="231.30" stroke="#EBEBEB" stroke-width="0.9"/>
<line x1="57.3" y1="218.50" x2="204.8" y2="218.50" stroke="#EBEBEB" stroke-width="0.5"/>
<line x1="57.3" y1="205.70" x2="204.8" y2="205.70" stroke="#EBEBEB" stroke-width="0.9"/>
<line x1="69.40" y1="198" x2="69.40" y2="283.0" stroke="#EBEBEB" stroke-width="0.9"/>
<line x1="87.15" y1="198" x2="87.15" y2="283.0" stroke="#EBEBEB" stroke-width="0.9"/>
<line x1="104.90" y1="198" x2="104.90" y2="283.0" stroke="#EBEBEB" stroke-width="0.9"/>
<line x1="122.65" y1="198" x2="122.65" y2="283.0" stroke="#EBEBEB" stroke-width="0.9"/>
<line x1="140.40" y1="198" x2="140.40" y2="283.0" stroke="#EBEBEB" stroke-width="0.9"/>
<line x1="158.15" y1="198" x2="158.15" y2="283.0" stroke="#EBEBEB" stroke-width="0.9"/>
<line x1="175.90" y1="198" x2="175.90" y2="283.0" stroke="#EBEBEB" stroke-width="0.9"/>
<line x1="193.65" y1="198" x2="193.65" y2="283.0" stroke="#EBEBEB" stroke-width="0.9"/>
<rect x="61.30" y="269.60" width="16.2" height="12.90" fill="#B0302E"/>
<rect x="61.30" y="268.10" width="16.2" height="1.50" fill="#14FF14"/>
<rect x="61.30" y="242.80" width="16.2" height="25.30" fill="#A01C6C"/>
<rect x="61.30" y="234.20" width="16.2" height="8.60" fill="#3C9EA0"/>
<rect x="61.30" y="204.60" width="16.2" height="29.60" fill="#161A8C"/>
<rect x="61.30" y="202.20" width="16.2" height="2.40" fill="#00F5FF"/>
<rect x="79.05" y="281.30" width="16.2" height="1.20" fill="#B0302E"/>
<rect x="79.05" y="280.50" width="16.2" height="0.80" fill="#14FF14"/>
<rect x="79.05" y="251.90" width="16.2" height="28.60" fill="#A01C6C"/>
<rect x="79.05" y="250.90" width="16.2" height="1.00" fill="#161A8C"/>
<rect x="96.80" y="281.60" width="16.2" height="0.90" fill="#B0302E"/>
<rect x="96.80" y="280.80" width="16.2" height="0.80" fill="#14FF14"/>
<rect x="96.80" y="267.30" width="16.2" height="13.50" fill="#A01C6C"/>
<rect x="96.80" y="261.60" width="16.2" height="5.70" fill="#161A8C"/>
<rect x="96.80" y="260.60" width="16.2" height="1.00" fill="#00F5FF"/>
<rect x="114.55" y="281.50" width="16.2" height="1.00" fill="#B0302E"/>
<rect x="114.55" y="280.60" width="16.2" height="0.90" fill="#14FF14"/>
<rect x="114.55" y="274.30" width="16.2" height="6.30" fill="#A01C6C"/>
<rect x="114.55" y="272.20" width="16.2" height="2.10" fill="#161A8C"/>
<rect x="132.30" y="279.70" width="16.2" height="2.80" fill="#14FF14"/>
<rect x="132.30" y="278.90" width="16.2" height="0.80" fill="#A01C6C"/>
<rect x="150.05" y="281.20" width="16.2" height="1.30" fill="#B0302E"/>
<rect x="150.05" y="280.10" width="16.2" height="1.10" fill="#14FF14"/>
<rect x="167.80" y="281.90" width="16.2" height="0.60" fill="#14FF14"/>
<rect x="185.55" y="281.90" width="16.2" height="0.60" fill="#C07070"/>
<text x="69.40" y="213" font-size="8.8" fill="#fff" text-anchor="middle">1253</text>
<text x="87.15" y="249.10" font-size="8.8" fill="#111" text-anchor="middle" stroke="#111" stroke-width="0.16">494</text>
<text x="104.90" y="258.80" font-size="8.8" fill="#111" text-anchor="middle" stroke="#111" stroke-width="0.16">348</text>
<text x="122.65" y="270.40" font-size="8.8" fill="#111" text-anchor="middle" stroke="#111" stroke-width="0.16">161</text>
<text x="140.40" y="277.10" font-size="8.8" fill="#111" text-anchor="middle" stroke="#111" stroke-width="0.16">56</text>
<text x="158.15" y="278.30" font-size="8.8" fill="#111" text-anchor="middle" stroke="#111" stroke-width="0.16">38</text>
<text x="175.90" y="280.10" font-size="8.8" fill="#111" text-anchor="middle" stroke="#111" stroke-width="0.16">11</text>
<text x="193.65" y="280.10" font-size="8.8" fill="#111" text-anchor="middle" stroke="#111" stroke-width="0.16">10</text>
<text x="54.7" y="285.00" font-size="6.9" fill="#5a5a5a" text-anchor="end" stroke="#5a5a5a" stroke-width="0.16">0</text>
<text x="54.7" y="259.40" font-size="6.9" fill="#5a5a5a" text-anchor="end" stroke="#5a5a5a" stroke-width="0.16">400</text>
<text x="54.7" y="233.80" font-size="6.9" fill="#5a5a5a" text-anchor="end" stroke="#5a5a5a" stroke-width="0.16">800</text>
<text x="54.7" y="208.20" font-size="6.9" fill="#5a5a5a" text-anchor="end" stroke="#5a5a5a" stroke-width="0.16">1200</text>
<text transform="translate(30.4,242.3) rotate(-90)" font-size="8.7" fill="#000" text-anchor="middle" stroke="#000" stroke-width="0.16">Intersect count (cells/mL)</text>
<text x="5.8" y="201.6" font-size="12.7" font-weight="bold" fill="#000" stroke="#000" stroke-width="0.3">D</text>
<rect x="57.3" y="298.1" width="147.5" height="42.2" fill="#EBEBEB"/>
<text x="54.5" y="306.00" font-size="7" fill="#555" text-anchor="end" stroke="#555" stroke-width="0.16">DAPI</text>
<text x="54.5" y="316.50" font-size="7" fill="#555" text-anchor="end" stroke="#555" stroke-width="0.16">BCMA</text>
<text x="54.5" y="327.00" font-size="7" fill="#555" text-anchor="end" stroke="#555" stroke-width="0.16">CD45</text>
<text x="54.5" y="337.30" font-size="7" fill="#555" text-anchor="end" stroke="#555" stroke-width="0.16">CD138</text>
<circle cx="69.40" cy="334.6" r="3.5" fill="#DADADA" stroke="#cfcfcf" stroke-width="0.4"/>
<line x1="69.40" y1="303.3" x2="69.40" y2="324.1" stroke="#7fd3c3" stroke-width="1.4"/>
<circle cx="69.40" cy="303.3" r="3.3" fill="#4EBFA9" stroke="#2f7d6e" stroke-width="0.7"/>
<circle cx="69.40" cy="313.7" r="3.3" fill="#4EBFA9" stroke="#2f7d6e" stroke-width="0.7"/>
<circle cx="69.40" cy="324.1" r="3.3" fill="#4EBFA9" stroke="#2f7d6e" stroke-width="0.7"/>
<circle cx="87.15" cy="324.1" r="3.5" fill="#DADADA" stroke="#cfcfcf" stroke-width="0.4"/>
<line x1="87.15" y1="303.3" x2="87.15" y2="334.6" stroke="#e98a98" stroke-width="1.4"/>
<circle cx="87.15" cy="303.3" r="3.3" fill="#D6304A" stroke="#7a1a28" stroke-width="0.7"/>
<circle cx="87.15" cy="313.7" r="3.3" fill="#D6304A" stroke="#7a1a28" stroke-width="0.7"/>
<circle cx="87.15" cy="334.6" r="3.3" fill="#D6304A" stroke="#7a1a28" stroke-width="0.7"/>
<line x1="104.90" y1="303.3" x2="104.90" y2="334.6" stroke="#f5dc55" stroke-width="1.4"/>
<circle cx="104.90" cy="303.3" r="3.3" fill="#F8D009" stroke="#8a7410" stroke-width="0.7"/>
<circle cx="104.90" cy="313.7" r="3.3" fill="#F8D009" stroke="#8a7410" stroke-width="0.7"/>
<circle cx="104.90" cy="324.1" r="3.3" fill="#F8D009" stroke="#8a7410" stroke-width="0.7"/>
<circle cx="104.90" cy="334.6" r="3.3" fill="#F8D009" stroke="#8a7410" stroke-width="0.7"/>
<circle cx="122.65" cy="324.1" r="3.5" fill="#DADADA" stroke="#cfcfcf" stroke-width="0.4"/>
<circle cx="122.65" cy="334.6" r="3.5" fill="#DADADA" stroke="#cfcfcf" stroke-width="0.4"/>
<line x1="122.65" y1="303.3" x2="122.65" y2="313.7" stroke="#9a9ba0" stroke-width="1.4"/>
<circle cx="122.65" cy="303.3" r="3.3" fill="#7D7E83" stroke="#45464a" stroke-width="0.7"/>
<circle cx="122.65" cy="313.7" r="3.3" fill="#7D7E83" stroke="#45464a" stroke-width="0.7"/>
<circle cx="140.40" cy="313.7" r="3.5" fill="#DADADA" stroke="#cfcfcf" stroke-width="0.4"/>
<circle cx="140.40" cy="324.1" r="3.5" fill="#DADADA" stroke="#cfcfcf" stroke-width="0.4"/>
<line x1="140.40" y1="303.3" x2="140.40" y2="334.6" stroke="#f26a55" stroke-width="1.4"/>
<circle cx="140.40" cy="303.3" r="3.3" fill="#F52C10" stroke="#8a1a08" stroke-width="0.7"/>
<circle cx="140.40" cy="334.6" r="3.3" fill="#F52C10" stroke="#8a1a08" stroke-width="0.7"/>
<circle cx="158.15" cy="313.7" r="3.5" fill="#DADADA" stroke="#cfcfcf" stroke-width="0.4"/>
<circle cx="158.15" cy="324.1" r="3.5" fill="#DADADA" stroke="#cfcfcf" stroke-width="0.4"/>
<circle cx="158.15" cy="334.6" r="3.5" fill="#DADADA" stroke="#cfcfcf" stroke-width="0.4"/>
<circle cx="158.15" cy="303.3" r="3.3" fill="#1040F8" stroke="#102080" stroke-width="0.7"/>
<circle cx="175.90" cy="313.7" r="3.5" fill="#DADADA" stroke="#cfcfcf" stroke-width="0.4"/>
<circle cx="175.90" cy="334.6" r="3.5" fill="#DADADA" stroke="#cfcfcf" stroke-width="0.4"/>
<line x1="175.90" y1="303.3" x2="175.90" y2="324.1" stroke="#78b078" stroke-width="1.4"/>
<circle cx="175.90" cy="303.3" r="3.3" fill="#2A7D2A" stroke="#174717" stroke-width="0.7"/>
<circle cx="175.90" cy="324.1" r="3.3" fill="#2A7D2A" stroke="#174717" stroke-width="0.7"/>
<circle cx="193.65" cy="313.7" r="3.5" fill="#DADADA" stroke="#cfcfcf" stroke-width="0.4"/>
<line x1="193.65" y1="303.3" x2="193.65" y2="334.6" stroke="#e4f277" stroke-width="1.4"/>
<circle cx="193.65" cy="303.3" r="3.3" fill="#D8F21E" stroke="#7a8a10" stroke-width="0.7"/>
<circle cx="193.65" cy="324.1" r="3.3" fill="#D8F21E" stroke="#7a8a10" stroke-width="0.7"/>
<circle cx="193.65" cy="334.6" r="3.3" fill="#D8F21E" stroke="#7a8a10" stroke-width="0.7"/>
<text x="131.4" y="359.6" font-size="8.6" fill="#222" text-anchor="middle" stroke="#222" stroke-width="0.16">Circulating Rare Cell Groups</text>
<text x="217.2" y="269.6" font-size="8.8" fill="#000" stroke="#000" stroke-width="0.16">Diagnosis</text>
<rect x="217.5" y="275.70" width="12.7" height="11.4" fill="#3C9EA0"/>
<text x="234.8" y="283.80" font-size="6.6" fill="#000" stroke="#000" stroke-width="0.16">NBD</text>
<rect x="217.5" y="289.00" width="12.7" height="11.4" fill="#161A8C"/>
<text x="234.8" y="297.10" font-size="6.6" fill="#000" stroke="#000" stroke-width="0.16">MGUS</text>
<rect x="217.5" y="302.30" width="12.7" height="11.4" fill="#B0302E"/>
<text x="234.8" y="310.40" font-size="6.6" fill="#000" stroke="#000" stroke-width="0.16">SMM</text>
<rect x="217.5" y="315.60" width="12.7" height="11.4" fill="#A01C6C"/>
<text x="234.8" y="323.70" font-size="6.6" fill="#000" stroke="#000" stroke-width="0.16">NDMM</text>
<rect x="217.5" y="328.90" width="12.7" height="11.4" fill="#00F5FF"/>
<text x="234.8" y="337.00" font-size="6.6" fill="#000" stroke="#000" stroke-width="0.16">LPL</text>
<rect x="217.5" y="342.20" width="12.7" height="11.4" fill="#14FF14"/>
<text x="234.8" y="350.30" font-size="6.6" fill="#000" stroke="#000" stroke-width="0.16">RRMM</text>
<line x1="335.0" y1="196" x2="335.0" y2="349.0" stroke="#000" stroke-width="1"/>
<line x1="334.5" y1="348.5" x2="526.6" y2="348.5" stroke="#000" stroke-width="1"/>
<line x1="332.5" y1="343.10" x2="335.0" y2="343.10" stroke="#000" stroke-width="0.9"/>
<text x="330.2" y="346.30" font-size="9" fill="#1a1a1a" text-anchor="end" stroke="#1a1a1a" stroke-width="0.16">0</text>
<line x1="332.5" y1="296.60" x2="335.0" y2="296.60" stroke="#000" stroke-width="0.9"/>
<text x="330.2" y="299.80" font-size="9" fill="#1a1a1a" text-anchor="end" stroke="#1a1a1a" stroke-width="0.16">200</text>
<line x1="332.5" y1="250.10" x2="335.0" y2="250.10" stroke="#000" stroke-width="0.9"/>
<text x="330.2" y="253.30" font-size="9" fill="#1a1a1a" text-anchor="end" stroke="#1a1a1a" stroke-width="0.16">400</text>
<line x1="332.5" y1="203.60" x2="335.0" y2="203.60" stroke="#000" stroke-width="0.9"/>
<text x="330.2" y="206.80" font-size="9" fill="#1a1a1a" text-anchor="end" stroke="#1a1a1a" stroke-width="0.16">600</text>
<line x1="362.5" y1="348.5" x2="362.5" y2="350.9" stroke="#000" stroke-width="0.9"/>
<text x="362.5" y="360" font-size="9.8" fill="#1a1a1a" text-anchor="middle" stroke="#1a1a1a" stroke-width="0.16">NBD</text>
<line x1="408.3" y1="348.5" x2="408.3" y2="350.9" stroke="#000" stroke-width="0.9"/>
<text x="408.3" y="360" font-size="9.8" fill="#1a1a1a" text-anchor="middle" stroke="#1a1a1a" stroke-width="0.16">SMM</text>
<line x1="454.1" y1="348.5" x2="454.1" y2="350.9" stroke="#000" stroke-width="0.9"/>
<text x="454.1" y="360" font-size="9.8" fill="#1a1a1a" text-anchor="middle" stroke="#1a1a1a" stroke-width="0.16">MGUS</text>
<line x1="499.5" y1="348.5" x2="499.5" y2="350.9" stroke="#000" stroke-width="0.9"/>
<text x="499.5" y="360" font-size="9.8" fill="#1a1a1a" text-anchor="middle" stroke="#1a1a1a" stroke-width="0.16">NDMM</text>
<line x1="345.3" y1="341" x2="379.7" y2="341" stroke="#000" stroke-width="1.3"/>
<circle cx="362.5" cy="341" r="2" fill="#000"/>
<rect x="391.1" y="336.2" width="34.4" height="3.4" fill="#1a1a1a"/>
<circle cx="408.3" cy="337" r="2" fill="#000"/><circle cx="408.3" cy="338.6" r="2" fill="#000"/>
<line x1="436.90000000000003" y1="321.5" x2="471.3" y2="321.5" stroke="#000" stroke-width="1"/>
<line x1="436.90000000000003" y1="333.1" x2="471.3" y2="333.1" stroke="#000" stroke-width="1"/>
<rect x="436.90000000000003" y="324.3" width="34.4" height="6.3" fill="#3C9EA0" stroke="#1a1a1a" stroke-width="0.7"/>
<line x1="436.90000000000003" y1="327.4" x2="471.3" y2="327.4" stroke="#333" stroke-width="1"/>
<line x1="454.1" y1="321.5" x2="454.1" y2="333.1" stroke="#000" stroke-width="1"/>
<circle cx="454.1" cy="321.5" r="2" fill="#000"/><circle cx="454.1" cy="333.1" r="2" fill="#000"/>
<line x1="482.3" y1="203.5" x2="516.7" y2="203.5" stroke="#000" stroke-width="1"/>
<line x1="482.3" y1="341.5" x2="516.7" y2="341.5" stroke="#000" stroke-width="1"/>
<rect x="482.3" y="254.8" width="34.4" height="69.8" fill="#0F1A8C" stroke="#1a1a1a" stroke-width="0.5"/>
<line x1="482.3" y1="307" x2="516.7" y2="307" stroke="#444" stroke-width="1.1"/>
<line x1="499.5" y1="203.5" x2="499.5" y2="341.5" stroke="#000" stroke-width="1"/>
<circle cx="499.5" cy="203.3" r="2" fill="#000"/>
<circle cx="499.5" cy="307" r="2" fill="#000"/>
<circle cx="499.5" cy="341.7" r="2" fill="#000"/>
<text x="362.6" y="210.8" font-size="9.3" fill="#111" stroke="#111" stroke-width="0.16">Kruskal-Wallis, p = 0.43</text>
<text transform="translate(310.5,272.3) rotate(-90)" font-size="9.9" fill="#000" text-anchor="middle" stroke="#000" stroke-width="0.16">Circulating BCMA+ cells (cells/mL)</text>
<text x="283.6" y="202.8" font-size="12" font-weight="bold" fill="#000" stroke="#000" stroke-width="0.3">E</text>
</svg>
</body></html>
